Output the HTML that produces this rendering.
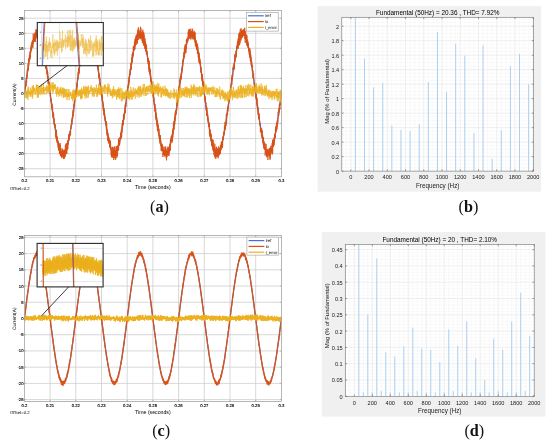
<!DOCTYPE html>
<html><head><meta charset="utf-8"><title>figure</title><style>html,body{margin:0;padding:0;background:#fff;}svg{display:block;}</style></head><body>
<svg width="550" height="443" viewBox="0 0 550 443" font-family='"Liberation Sans", Arial, sans-serif'>
<rect width="550" height="443" fill="#fff"/>
<g text-rendering="geometricPrecision">
<clipPath id="clipa"><rect x="24.4" y="10.5" width="257.0" height="166.3"/></clipPath>
<path d="M50.10 10.5V176.8 M75.80 10.5V176.8 M101.50 10.5V176.8 M127.20 10.5V176.8 M152.90 10.5V176.8 M178.60 10.5V176.8 M204.30 10.5V176.8 M230.00 10.5V176.8 M255.70 10.5V176.8 M24.4 168.70H281.4 M24.4 153.65H281.4 M24.4 138.60H281.4 M24.4 123.55H281.4 M24.4 108.50H281.4 M24.4 93.45H281.4 M24.4 78.40H281.4 M24.4 63.35H281.4 M24.4 48.30H281.4 M24.4 33.25H281.4 M24.4 18.20H281.4" stroke="#cbcbcb" stroke-width="0.75" fill="none"/>
<path d="M50.10 176.8v-1.6M50.10 10.5v1.6 M75.80 176.8v-1.6M75.80 10.5v1.6 M101.50 176.8v-1.6M101.50 10.5v1.6 M127.20 176.8v-1.6M127.20 10.5v1.6 M152.90 176.8v-1.6M152.90 10.5v1.6 M178.60 176.8v-1.6M178.60 10.5v1.6 M204.30 176.8v-1.6M204.30 10.5v1.6 M230.00 176.8v-1.6M230.00 10.5v1.6 M255.70 176.8v-1.6M255.70 10.5v1.6 M24.4 168.70h1.6M281.4 168.70h-1.6 M24.4 153.65h1.6M281.4 153.65h-1.6 M24.4 138.60h1.6M281.4 138.60h-1.6 M24.4 123.55h1.6M281.4 123.55h-1.6 M24.4 108.50h1.6M281.4 108.50h-1.6 M24.4 93.45h1.6M281.4 93.45h-1.6 M24.4 78.40h1.6M281.4 78.40h-1.6 M24.4 63.35h1.6M281.4 63.35h-1.6 M24.4 48.30h1.6M281.4 48.30h-1.6 M24.4 33.25h1.6M281.4 33.25h-1.6 M24.4 18.20h1.6M281.4 18.20h-1.6" stroke="#999" stroke-width="0.6" fill="none"/>
<g clip-path="url(#clipa)">
<polyline points="24.40,93.45 24.49,92.82 24.57,92.19 24.66,91.56 24.74,90.93 24.83,90.30 24.91,89.67 25.00,89.04 25.09,88.41 25.17,87.78 25.26,87.16 25.34,86.53 25.43,85.90 25.51,85.28 25.60,84.65 25.69,84.03 25.77,83.41 25.86,82.79 25.94,82.17 26.03,81.55 26.11,80.93 26.20,80.31 26.29,79.70 26.37,79.09 26.46,78.47 26.54,77.86 26.63,77.26 26.71,76.65 26.80,76.04 26.89,75.44 26.97,74.84 27.06,74.24 27.14,73.65 27.23,73.05 27.31,72.46 27.40,71.87 27.49,71.28 27.57,70.70 27.66,70.11 27.74,69.53 27.83,68.96 27.91,68.38 28.00,67.81 28.08,67.24 28.17,66.67 28.26,66.11 28.34,65.55 28.43,64.99 28.51,64.44 28.60,63.89 28.68,63.34 28.77,62.80 28.86,62.26 28.94,61.72 29.03,61.18 29.11,60.65 29.20,60.13 29.28,59.60 29.37,59.08 29.46,58.57 29.54,58.06 29.63,57.55 29.71,57.04 29.80,56.54 29.88,56.05 29.97,55.55 30.06,55.07 30.14,54.58 30.23,54.10 30.31,53.63 30.40,53.16 30.48,52.69 30.57,52.23 30.66,51.77 30.74,51.32 30.83,50.87 30.91,50.43 31.00,49.99 31.08,49.55 31.17,49.13 31.26,48.70 31.34,48.28 31.43,47.87 31.51,47.46 31.60,47.05 31.68,46.65 31.77,46.26 31.86,45.87 31.94,45.49 32.03,45.11 32.11,44.74 32.20,44.37 32.28,44.01 32.37,43.65 32.46,43.30 32.54,42.95 32.63,42.61 32.71,42.28 32.80,41.95 32.88,41.62 32.97,41.30 33.06,40.99 33.14,40.69 33.23,40.39 33.31,40.09 33.40,39.80 33.48,39.52 33.57,39.24 33.66,38.97 33.74,38.70 33.83,38.45 33.91,38.19 34.00,37.94 34.08,37.70 34.17,37.47 34.25,37.24 34.34,37.02 34.43,36.80 34.51,36.59 34.60,36.39 34.68,36.19 34.77,36.00 34.85,35.81 34.94,35.63 35.03,35.46 35.11,35.29 35.20,35.13 35.28,34.98 35.37,34.83 35.45,34.69 35.54,34.56 35.63,34.43 35.71,34.31 35.80,34.20 35.88,34.09 35.97,33.99 36.05,33.89 36.14,33.80 36.23,33.72 36.31,33.65 36.40,33.58 36.48,33.51 36.57,33.46 36.65,33.41 36.74,33.37 36.83,33.33 36.91,33.30 37.00,33.28 37.08,33.26 37.17,33.25 37.25,33.25 37.34,33.25 37.43,33.26 37.51,33.28 37.60,33.30 37.68,33.33 37.77,33.37 37.85,33.41 37.94,33.46 38.03,33.52 38.11,33.58 38.20,33.65 38.28,33.73 38.37,33.81 38.45,33.90 38.54,34.00 38.63,34.10 38.71,34.21 38.80,34.32 38.88,34.44 38.97,34.57 39.05,34.71 39.14,34.85 39.23,35.00 39.31,35.15 39.40,35.31 39.48,35.48 39.57,35.65 39.65,35.83 39.74,36.02 39.83,36.21 39.91,36.41 40.00,36.61 40.08,36.82 40.17,37.04 40.25,37.26 40.34,37.49 40.43,37.73 40.51,37.97 40.60,38.22 40.68,38.47 40.77,38.73 40.85,39.00 40.94,39.27 41.02,39.55 41.11,39.83 41.20,40.12 41.28,40.42 41.37,40.72 41.45,41.02 41.54,41.34 41.62,41.65 41.71,41.98 41.80,42.31 41.88,42.64 41.97,42.99 42.05,43.33 42.14,43.68 42.22,44.04 42.31,44.40 42.40,44.77 42.48,45.15 42.57,45.53 42.65,45.91 42.74,46.30 42.82,46.69 42.91,47.09 43.00,47.50 43.08,47.91 43.17,48.32 43.25,48.74 43.34,49.17 43.42,49.60 43.51,50.03 43.60,50.47 43.68,50.92 43.77,51.36 43.85,51.82 43.94,52.28 44.02,52.74 44.11,53.20 44.20,53.68 44.28,54.15 44.37,54.63 44.45,55.11 44.54,55.60 44.62,56.10 44.71,56.59 44.80,57.09 44.88,57.60 44.97,58.11 45.05,58.62 45.14,59.13 45.22,59.65 45.31,60.18 45.40,60.71 45.48,61.24 45.57,61.77 45.65,62.31 45.74,62.85 45.82,63.40 45.91,63.94 46.00,64.49 46.08,65.05 46.17,65.61 46.25,66.17 46.34,66.73 46.42,67.30 46.51,67.87 46.60,68.44 46.68,69.01 46.77,69.59 46.85,70.17 46.94,70.76 47.02,71.34 47.11,71.93 47.19,72.52 47.28,73.11 47.37,73.71 47.45,74.30 47.54,74.90 47.62,75.50 47.71,76.11 47.79,76.71 47.88,77.32 47.97,77.92 48.05,78.54 48.14,79.15 48.22,79.76 48.31,80.38 48.39,80.99 48.48,81.61 48.57,82.23 48.65,82.85 48.74,83.47 48.82,84.09 48.91,84.72 48.99,85.34 49.08,85.97 49.17,86.59 49.25,87.22 49.34,87.85 49.42,88.47 49.51,89.10 49.59,89.73 49.68,90.36 49.77,90.99 49.85,91.62 49.94,92.25 50.02,92.88 50.11,93.51 50.19,94.14 50.28,94.77 50.37,95.40 50.45,96.03 50.54,96.66 50.62,97.29 50.71,97.92 50.79,98.55 50.88,99.18 50.97,99.81 51.05,100.43 51.14,101.06 51.22,101.69 51.31,102.31 51.39,102.93 51.48,103.55 51.57,104.18 51.65,104.80 51.74,105.41 51.82,106.03 51.91,106.65 51.99,107.26 52.08,107.88 52.17,108.49 52.25,109.10 52.34,109.70 52.42,110.31 52.51,110.92 52.59,111.52 52.68,112.12 52.77,112.72 52.85,113.31 52.94,113.91 53.02,114.50 53.11,115.09 53.19,115.68 53.28,116.26 53.36,116.84 53.45,117.42 53.54,118.00 53.62,118.58 53.71,119.15 53.79,119.72 53.88,120.28 53.96,120.84 54.05,121.40 54.14,121.96 54.22,122.52 54.31,123.07 54.39,123.61 54.48,124.16 54.56,124.70 54.65,125.24 54.74,125.77 54.82,126.30 54.91,126.83 54.99,127.35 55.08,127.87 55.16,128.38 55.25,128.90 55.34,129.40 55.42,129.91 55.51,130.41 55.59,130.90 55.68,131.39 55.76,131.88 55.85,132.37 55.94,132.84 56.02,133.32 56.11,133.79 56.19,134.26 56.28,134.72 56.36,135.17 56.45,135.63 56.54,136.07 56.62,136.52 56.71,136.95 56.79,137.39 56.88,137.82 56.96,138.24 57.05,138.66 57.14,139.07 57.22,139.48 57.31,139.89 57.39,140.29 57.48,140.68 57.56,141.07 57.65,141.45 57.74,141.83 57.82,142.20 57.91,142.57 57.99,142.93 58.08,143.29 58.16,143.64 58.25,143.98 58.34,144.32 58.42,144.66 58.51,144.99 58.59,145.31 58.68,145.63 58.76,145.94 58.85,146.24 58.94,146.54 59.02,146.84 59.11,147.13 59.19,147.41 59.28,147.69 59.36,147.96 59.45,148.22 59.54,148.48 59.62,148.73 59.71,148.98 59.79,149.22 59.88,149.45 59.96,149.68 60.05,149.90 60.13,150.12 60.22,150.33 60.31,150.53 60.39,150.73 60.48,150.92 60.56,151.11 60.65,151.28 60.73,151.46 60.82,151.62 60.91,151.78 60.99,151.93 61.08,152.08 61.16,152.22 61.25,152.35 61.33,152.48 61.42,152.60 61.51,152.71 61.59,152.82 61.68,152.92 61.76,153.02 61.85,153.11 61.93,153.19 62.02,153.26 62.11,153.33 62.19,153.39 62.28,153.45 62.36,153.50 62.45,153.54 62.53,153.57 62.62,153.60 62.71,153.62 62.79,153.64 62.88,153.65 62.96,153.65 63.05,153.65 63.13,153.63 63.22,153.62 63.31,153.59 63.39,153.56 63.48,153.53 63.56,153.48 63.65,153.43 63.73,153.37 63.82,153.31 63.91,153.24 63.99,153.16 64.08,153.08 64.16,152.99 64.25,152.89 64.33,152.79 64.42,152.68 64.51,152.57 64.59,152.44 64.68,152.31 64.76,152.18 64.85,152.04 64.93,151.89 65.02,151.73 65.11,151.57 65.19,151.41 65.28,151.23 65.36,151.05 65.45,150.87 65.53,150.67 65.62,150.47 65.71,150.27 65.79,150.06 65.88,149.84 65.96,149.61 66.05,149.38 66.13,149.15 66.22,148.91 66.30,148.66 66.39,148.40 66.48,148.14 66.56,147.88 66.65,147.60 66.73,147.33 66.82,147.04 66.90,146.75 66.99,146.46 67.08,146.15 67.16,145.85 67.25,145.53 67.33,145.21 67.42,144.89 67.50,144.56 67.59,144.22 67.68,143.88 67.76,143.53 67.85,143.18 67.93,142.82 68.02,142.46 68.10,142.09 68.19,141.72 68.28,141.34 68.36,140.95 68.45,140.56 68.53,140.17 68.62,139.77 68.70,139.36 68.79,138.95 68.88,138.53 68.96,138.11 69.05,137.69 69.13,137.26 69.22,136.82 69.30,136.38 69.39,135.94 69.48,135.49 69.56,135.04 69.65,134.58 69.73,134.12 69.82,133.65 69.90,133.18 69.99,132.70 70.08,132.22 70.16,131.74 70.25,131.25 70.33,130.75 70.42,130.26 70.50,129.76 70.59,129.25 70.68,128.74 70.76,128.23 70.85,127.71 70.93,127.19 71.02,126.67 71.10,126.14 71.19,125.61 71.28,125.07 71.36,124.54 71.45,123.99 71.53,123.45 71.62,122.90 71.70,122.35 71.79,121.80 71.88,121.24 71.96,120.68 72.05,120.11 72.13,119.55 72.22,118.98 72.30,118.40 72.39,117.83 72.48,117.25 72.56,116.67 72.65,116.09 72.73,115.50 72.82,114.91 72.90,114.32 72.99,113.73 73.07,113.13 73.16,112.54 73.25,111.94 73.33,111.34 73.42,110.73 73.50,110.13 73.59,109.52 73.67,108.91 73.76,108.30 73.85,107.69 73.93,107.08 74.02,106.46 74.10,105.85 74.19,105.23 74.27,104.61 74.36,103.99 74.45,103.37 74.53,102.75 74.62,102.12 74.70,101.50 74.79,100.87 74.87,100.25 74.96,99.62 75.05,98.99 75.13,98.36 75.22,97.73 75.30,97.11 75.39,96.48 75.47,95.85 75.56,95.22 75.65,94.59 75.73,93.95 75.82,93.32 75.90,92.69 75.99,92.06 76.07,91.43 76.16,90.80 76.25,90.17 76.33,89.54 76.42,88.91 76.50,88.29 76.59,87.66 76.67,87.03 76.76,86.40 76.85,85.78 76.93,85.15 77.02,84.53 77.10,83.90 77.19,83.28 77.27,82.66 77.36,82.04 77.45,81.42 77.53,80.81 77.62,80.19 77.70,79.58 77.79,78.96 77.87,78.35 77.96,77.74 78.05,77.13 78.13,76.53 78.22,75.92 78.30,75.32 78.39,74.72 78.47,74.12 78.56,73.53 78.65,72.93 78.73,72.34 78.82,71.75 78.90,71.16 78.99,70.58 79.07,70.00 79.16,69.42 79.24,68.84 79.33,68.27 79.42,67.70 79.50,67.13 79.59,66.56 79.67,66.00 79.76,65.44 79.84,64.88 79.93,64.33 80.02,63.78 80.10,63.23 80.19,62.69 80.27,62.15 80.36,61.61 80.44,61.08 80.53,60.55 80.62,60.02 80.70,59.50 80.79,58.98 80.87,58.46 80.96,57.95 81.04,57.45 81.13,56.94 81.22,56.44 81.30,55.95 81.39,55.46 81.47,54.97 81.56,54.49 81.64,54.01 81.73,53.53 81.82,53.06 81.90,52.60 81.99,52.14 82.07,51.68 82.16,51.23 82.24,50.78 82.33,50.34 82.42,49.90 82.50,49.47 82.59,49.04 82.67,48.62 82.76,48.20 82.84,47.79 82.93,47.38 83.02,46.97 83.10,46.58 83.19,46.18 83.27,45.79 83.36,45.41 83.44,45.03 83.53,44.66 83.62,44.30 83.70,43.93 83.79,43.58 83.87,43.23 83.96,42.88 84.04,42.54 84.13,42.21 84.22,41.88 84.30,41.56 84.39,41.24 84.47,40.93 84.56,40.63 84.64,40.33 84.73,40.03 84.82,39.74 84.90,39.46 84.99,39.19 85.07,38.92 85.16,38.65 85.24,38.39 85.33,38.14 85.42,37.90 85.50,37.66 85.59,37.42 85.67,37.19 85.76,36.97 85.84,36.76 85.93,36.55 86.01,36.35 86.10,36.15 86.19,35.96 86.27,35.78 86.36,35.60 86.44,35.43 86.53,35.26 86.61,35.10 86.70,34.95 86.79,34.81 86.87,34.67 86.96,34.53 87.04,34.41 87.13,34.29 87.21,34.17 87.30,34.07 87.39,33.97 87.47,33.87 87.56,33.79 87.64,33.71 87.73,33.63 87.81,33.56 87.90,33.50 87.99,33.45 88.07,33.40 88.16,33.36 88.24,33.32 88.33,33.30 88.41,33.27 88.50,33.26 88.59,33.25 88.67,33.25 88.76,33.26 88.84,33.27 88.93,33.28 89.01,33.31 89.10,33.34 89.19,33.38 89.27,33.42 89.36,33.47 89.44,33.53 89.53,33.60 89.61,33.67 89.70,33.74 89.79,33.83 89.87,33.92 89.96,34.02 90.04,34.12 90.13,34.23 90.21,34.35 90.30,34.47 90.39,34.60 90.47,34.74 90.56,34.88 90.64,35.03 90.73,35.18 90.81,35.34 90.90,35.51 90.99,35.69 91.07,35.87 91.16,36.05 91.24,36.25 91.33,36.45 91.41,36.65 91.50,36.86 91.59,37.08 91.67,37.31 91.76,37.54 91.84,37.78 91.93,38.02 92.01,38.27 92.10,38.52 92.18,38.78 92.27,39.05 92.36,39.32 92.44,39.60 92.53,39.89 92.61,40.18 92.70,40.47 92.78,40.78 92.87,41.09 92.96,41.40 93.04,41.72 93.13,42.04 93.21,42.38 93.30,42.71 93.38,43.05 93.47,43.40 93.56,43.76 93.64,44.11 93.73,44.48 93.81,44.85 93.90,45.22 93.98,45.60 94.07,45.99 94.16,46.38 94.24,46.77 94.33,47.17 94.41,47.58 94.50,47.99 94.58,48.41 94.67,48.83 94.76,49.25 94.84,49.68 94.93,50.12 95.01,50.56 95.10,51.00 95.18,51.45 95.27,51.91 95.36,52.37 95.44,52.83 95.53,53.30 95.61,53.77 95.70,54.25 95.78,54.73 95.87,55.21 95.96,55.70 96.04,56.19 96.13,56.69 96.21,57.19 96.30,57.70 96.38,58.21 96.47,58.72 96.56,59.24 96.64,59.76 96.73,60.28 96.81,60.81 96.90,61.34 96.98,61.88 97.07,62.42 97.16,62.96 97.24,63.50 97.33,64.05 97.41,64.61 97.50,65.16 97.58,65.72 97.67,66.28 97.76,66.84 97.84,67.41 97.93,67.98 98.01,68.55 98.10,69.13 98.18,69.71 98.27,70.29 98.35,70.87 98.44,71.46 98.53,72.05 98.61,72.64 98.70,73.23 98.78,73.82 98.87,74.42 98.95,75.02 99.04,75.62 99.13,76.23 99.21,76.83 99.30,77.44 99.38,78.05 99.47,78.66 99.55,79.27 99.64,79.88 99.73,80.50 99.81,81.11 99.90,81.73 99.98,82.35 100.07,82.97 100.15,83.59 100.24,84.22 100.33,84.84 100.41,85.46 100.50,86.09 100.58,86.72 100.67,87.34 100.75,87.97 100.84,88.60 100.93,89.23 101.01,89.86 101.10,90.49 101.18,91.12 101.27,91.75 101.35,92.38 101.44,93.01 101.53,93.64 101.61,94.27 101.70,94.90 101.78,95.53 101.87,96.16 101.95,96.79 102.04,97.42 102.13,98.05 102.21,98.68 102.30,99.31 102.38,99.93 102.47,100.56 102.55,101.19 102.64,101.81 102.73,102.43 102.81,103.06 102.90,103.68 102.98,104.30 103.07,104.92 103.15,105.54 103.24,106.16 103.33,106.77 103.41,107.39 103.50,108.00 103.58,108.61 103.67,109.22 103.75,109.83 103.84,110.43 103.93,111.04 104.01,111.64 104.10,112.24 104.18,112.84 104.27,113.43 104.35,114.03 104.44,114.62 104.53,115.21 104.61,115.79 104.70,116.38 104.78,116.96 104.87,117.54 104.95,118.12 105.04,118.69 105.12,119.26 105.21,119.83 105.30,120.39 105.38,120.96 105.47,121.52 105.55,122.07 105.64,122.63 105.72,123.18 105.81,123.72 105.90,124.27 105.98,124.81 106.07,125.34 106.15,125.88 106.24,126.41 106.32,126.93 106.41,127.45 106.50,127.97 106.58,128.49 106.67,129.00 106.75,129.50 106.84,130.01 106.92,130.51 107.01,131.00 107.10,131.49 107.18,131.98 107.27,132.46 107.35,132.94 107.44,133.41 107.52,133.88 107.61,134.35 107.70,134.81 107.78,135.26 107.87,135.72 107.95,136.16 108.04,136.60 108.12,137.04 108.21,137.47 108.30,137.90 108.38,138.32 108.47,138.74 108.55,139.16 108.64,139.56 108.72,139.97 108.81,140.36 108.90,140.76 108.98,141.14 109.07,141.53 109.15,141.90 109.24,142.27 109.32,142.64 109.41,143.00 109.50,143.36 109.58,143.71 109.67,144.05 109.75,144.39 109.84,144.72 109.92,145.05 110.01,145.37 110.10,145.69 110.18,146.00 110.27,146.30 110.35,146.60 110.44,146.90 110.52,147.18 110.61,147.47 110.70,147.74 110.78,148.01 110.87,148.27 110.95,148.53 111.04,148.78 111.12,149.03 111.21,149.27 111.29,149.50 111.38,149.73 111.47,149.95 111.55,150.16 111.64,150.37 111.72,150.57 111.81,150.77 111.89,150.96 111.98,151.14 112.07,151.32 112.15,151.49 112.24,151.65 112.32,151.81 112.41,151.96 112.49,152.11 112.58,152.25 112.67,152.38 112.75,152.50 112.84,152.62 112.92,152.74 113.01,152.84 113.09,152.94 113.18,153.04 113.27,153.12 113.35,153.20 113.44,153.28 113.52,153.34 113.61,153.40 113.69,153.46 113.78,153.50 113.87,153.54 113.95,153.58 114.04,153.61 114.12,153.63 114.21,153.64 114.29,153.65 114.38,153.65 114.47,153.64 114.55,153.63 114.64,153.61 114.72,153.59 114.81,153.56 114.89,153.52 114.98,153.47 115.07,153.42 115.15,153.36 115.24,153.30 115.32,153.22 115.41,153.15 115.49,153.06 115.58,152.97 115.67,152.87 115.75,152.77 115.84,152.66 115.92,152.54 116.01,152.42 116.09,152.29 116.18,152.15 116.27,152.01 116.35,151.86 116.44,151.70 116.52,151.54 116.61,151.37 116.69,151.20 116.78,151.01 116.87,150.83 116.95,150.63 117.04,150.43 117.12,150.23 117.21,150.01 117.29,149.79 117.38,149.57 117.47,149.34 117.55,149.10 117.64,148.86 117.72,148.61 117.81,148.35 117.89,148.09 117.98,147.82 118.06,147.55 118.15,147.27 118.24,146.98 118.32,146.69 118.41,146.40 118.49,146.09 118.58,145.78 118.66,145.47 118.75,145.15 118.84,144.82 118.92,144.49 119.01,144.15 119.09,143.81 119.18,143.46 119.26,143.11 119.35,142.75 119.44,142.39 119.52,142.02 119.61,141.64 119.69,141.26 119.78,140.87 119.86,140.48 119.95,140.09 120.04,139.69 120.12,139.28 120.21,138.87 120.29,138.45 120.38,138.03 120.46,137.60 120.55,137.17 120.64,136.74 120.72,136.30 120.81,135.85 120.89,135.40 120.98,134.95 121.06,134.49 121.15,134.02 121.24,133.55 121.32,133.08 121.41,132.61 121.49,132.12 121.58,131.64 121.66,131.15 121.75,130.66 121.84,130.16 121.92,129.66 122.01,129.15 122.09,128.64 122.18,128.13 122.26,127.61 122.35,127.09 122.44,126.56 122.52,126.04 122.61,125.50 122.69,124.97 122.78,124.43 122.86,123.89 122.95,123.34 123.04,122.79 123.12,122.24 123.21,121.68 123.29,121.13 123.38,120.56 123.46,120.00 123.55,119.43 123.64,118.86 123.72,118.29 123.81,117.71 123.89,117.13 123.98,116.55 124.06,115.97 124.15,115.38 124.23,114.79 124.32,114.20 124.41,113.61 124.49,113.02 124.58,112.42 124.66,111.82 124.75,111.22 124.83,110.61 124.92,110.01 125.01,109.40 125.09,108.79 125.18,108.18 125.26,107.57 125.35,106.96 125.43,106.34 125.52,105.72 125.61,105.11 125.69,104.49 125.78,103.87 125.86,103.24 125.95,102.62 126.03,102.00 126.12,101.37 126.21,100.75 126.29,100.12 126.38,99.49 126.46,98.87 126.55,98.24 126.63,97.61 126.72,96.98 126.81,96.35 126.89,95.72 126.98,95.09 127.06,94.46 127.15,93.83 127.23,93.20 127.32,92.57 127.41,91.94 127.49,91.31 127.58,90.68 127.66,90.05 127.75,89.42 127.83,88.79 127.92,88.16 128.01,87.53 128.09,86.90 128.18,86.28 128.26,85.65 128.35,85.03 128.43,84.40 128.52,83.78 128.61,83.16 128.69,82.54 128.78,81.92 128.86,81.30 128.95,80.68 129.03,80.07 129.12,79.45 129.21,78.84 129.29,78.23 129.38,77.62 129.46,77.01 129.55,76.41 129.63,75.80 129.72,75.20 129.81,74.60 129.89,74.00 129.98,73.41 130.06,72.81 130.15,72.22 130.23,71.63 130.32,71.05 130.41,70.46 130.49,69.88 130.58,69.30 130.66,68.73 130.75,68.15 130.83,67.58 130.92,67.01 131.00,66.45 131.09,65.89 131.18,65.33 131.26,64.77 131.35,64.22 131.43,63.67 131.52,63.12 131.60,62.58 131.69,62.04 131.78,61.50 131.86,60.97 131.95,60.44 132.03,59.92 132.12,59.39 132.20,58.88 132.29,58.36 132.38,57.85 132.46,57.34 132.55,56.84 132.63,56.34 132.72,55.85 132.80,55.36 132.89,54.87 132.98,54.39 133.06,53.91 133.15,53.44 133.23,52.97 133.32,52.51 133.40,52.05 133.49,51.59 133.58,51.14 133.66,50.69 133.75,50.25 133.83,49.81 133.92,49.38 134.00,48.96 134.09,48.53 134.18,48.12 134.26,47.70 134.35,47.30 134.43,46.89 134.52,46.50 134.60,46.10 134.69,45.72 134.78,45.34 134.86,44.96 134.95,44.59 135.03,44.22 135.12,43.86 135.20,43.51 135.29,43.16 135.38,42.81 135.46,42.48 135.55,42.14 135.63,41.82 135.72,41.49 135.80,41.18 135.89,40.87 135.98,40.57 136.06,40.27 136.15,39.97 136.23,39.69 136.32,39.41 136.40,39.13 136.49,38.86 136.58,38.60 136.66,38.34 136.75,38.09 136.83,37.85 136.92,37.61 137.00,37.38 137.09,37.15 137.17,36.93 137.26,36.72 137.35,36.51 137.43,36.31 137.52,36.11 137.60,35.92 137.69,35.74 137.77,35.56 137.86,35.39 137.95,35.23 138.03,35.07 138.12,34.92 138.20,34.78 138.29,34.64 138.37,34.51 138.46,34.38 138.55,34.26 138.63,34.15 138.72,34.05 138.80,33.95 138.89,33.86 138.97,33.77 139.06,33.69 139.15,33.62 139.23,33.55 139.32,33.49 139.40,33.44 139.49,33.39 139.57,33.35 139.66,33.32 139.75,33.29 139.83,33.27 139.92,33.26 140.00,33.25 140.09,33.25 140.17,33.26 140.26,33.27 140.35,33.29 140.43,33.32 140.52,33.35 140.60,33.39 140.69,33.43 140.77,33.49 140.86,33.54 140.95,33.61 141.03,33.68 141.12,33.76 141.20,33.85 141.29,33.94 141.37,34.04 141.46,34.14 141.55,34.25 141.63,34.37 141.72,34.50 141.80,34.63 141.89,34.76 141.97,34.91 142.06,35.06 142.15,35.21 142.23,35.38 142.32,35.55 142.40,35.72 142.49,35.90 142.57,36.09 142.66,36.29 142.75,36.49 142.83,36.69 142.92,36.91 143.00,37.13 143.09,37.35 143.17,37.59 143.26,37.82 143.34,38.07 143.43,38.32 143.52,38.57 143.60,38.84 143.69,39.10 143.77,39.38 143.86,39.66 143.94,39.95 144.03,40.24 144.12,40.53 144.20,40.84 144.29,41.15 144.37,41.46 144.46,41.78 144.54,42.11 144.63,42.44 144.72,42.78 144.80,43.12 144.89,43.47 144.97,43.83 145.06,44.19 145.14,44.55 145.23,44.92 145.32,45.30 145.40,45.68 145.49,46.07 145.57,46.46 145.66,46.85 145.74,47.26 145.83,47.66 145.92,48.07 146.00,48.49 146.09,48.91 146.17,49.34 146.26,49.77 146.34,50.21 146.43,50.65 146.52,51.09 146.60,51.54 146.69,52.00 146.77,52.46 146.86,52.92 146.94,53.39 147.03,53.87 147.12,54.34 147.20,54.82 147.29,55.31 147.37,55.80 147.46,56.29 147.54,56.79 147.63,57.29 147.72,57.80 147.80,58.31 147.89,58.82 147.97,59.34 148.06,59.86 148.14,60.39 148.23,60.92 148.32,61.45 148.40,61.99 148.49,62.53 148.57,63.07 148.66,63.61 148.74,64.16 148.83,64.72 148.92,65.27 149.00,65.83 149.09,66.39 149.17,66.96 149.26,67.53 149.34,68.10 149.43,68.67 149.52,69.25 149.60,69.82 149.69,70.41 149.77,70.99 149.86,71.58 149.94,72.16 150.03,72.76 150.11,73.35 150.20,73.94 150.29,74.54 150.37,75.14 150.46,75.74 150.54,76.35 150.63,76.95 150.71,77.56 150.80,78.17 150.89,78.78 150.97,79.39 151.06,80.01 151.14,80.62 151.23,81.24 151.31,81.86 151.40,82.48 151.49,83.10 151.57,83.72 151.66,84.34 151.74,84.96 151.83,85.59 151.91,86.22 152.00,86.84 152.09,87.47 152.17,88.10 152.26,88.73 152.34,89.35 152.43,89.98 152.51,90.61 152.60,91.24 152.69,91.87 152.77,92.50 152.86,93.13 152.94,93.77 153.03,94.40 153.11,95.03 153.20,95.66 153.29,96.29 153.37,96.92 153.46,97.55 153.54,98.17 153.63,98.80 153.71,99.43 153.80,100.06 153.89,100.68 153.97,101.31 154.06,101.94 154.14,102.56 154.23,103.18 154.31,103.80 154.40,104.42 154.49,105.04 154.57,105.66 154.66,106.28 154.74,106.89 154.83,107.51 154.91,108.12 155.00,108.73 155.09,109.34 155.17,109.95 155.26,110.55 155.34,111.16 155.43,111.76 155.51,112.36 155.60,112.96 155.69,113.55 155.77,114.14 155.86,114.74 155.94,115.32 156.03,115.91 156.11,116.49 156.20,117.08 156.28,117.65 156.37,118.23 156.46,118.80 156.54,119.37 156.63,119.94 156.71,120.51 156.80,121.07 156.88,121.63 156.97,122.18 157.06,122.74 157.14,123.29 157.23,123.83 157.31,124.37 157.40,124.91 157.48,125.45 157.57,125.98 157.66,126.51 157.74,127.04 157.83,127.56 157.91,128.08 158.00,128.59 158.08,129.10 158.17,129.61 158.26,130.11 158.34,130.61 158.43,131.10 158.51,131.59 158.60,132.08 158.68,132.56 158.77,133.03 158.86,133.51 158.94,133.98 159.03,134.44 159.11,134.90 159.20,135.36 159.28,135.81 159.37,136.25 159.46,136.69 159.54,137.13 159.63,137.56 159.71,137.99 159.80,138.41 159.88,138.83 159.97,139.24 160.06,139.64 160.14,140.05 160.23,140.44 160.31,140.83 160.40,141.22 160.48,141.60 160.57,141.98 160.66,142.35 160.74,142.71 160.83,143.07 160.91,143.43 161.00,143.78 161.08,144.12 161.17,144.46 161.26,144.79 161.34,145.12 161.43,145.44 161.51,145.75 161.60,146.06 161.68,146.37 161.77,146.66 161.86,146.95 161.94,147.24 162.03,147.52 162.11,147.80 162.20,148.06 162.28,148.33 162.37,148.58 162.46,148.83 162.54,149.08 162.63,149.31 162.71,149.55 162.80,149.77 162.88,149.99 162.97,150.21 163.05,150.41 163.14,150.61 163.23,150.81 163.31,151.00 163.40,151.18 163.48,151.35 163.57,151.52 163.65,151.69 163.74,151.84 163.83,151.99 163.91,152.14 164.00,152.27 164.08,152.40 164.17,152.53 164.25,152.65 164.34,152.76 164.43,152.86 164.51,152.96 164.60,153.05 164.68,153.14 164.77,153.22 164.85,153.29 164.94,153.36 165.03,153.41 165.11,153.47 165.20,153.51 165.28,153.55 165.37,153.58 165.45,153.61 165.54,153.63 165.63,153.64 165.71,153.65 165.80,153.65 165.88,153.64 165.97,153.63 166.05,153.61 166.14,153.58 166.23,153.55 166.31,153.51 166.40,153.46 166.48,153.41 166.57,153.35 166.65,153.28 166.74,153.21 166.83,153.13 166.91,153.04 167.00,152.95 167.08,152.85 167.17,152.75 167.25,152.64 167.34,152.52 167.43,152.39 167.51,152.26 167.60,152.12 167.68,151.98 167.77,151.83 167.85,151.67 167.94,151.51 168.03,151.34 168.11,151.16 168.20,150.98 168.28,150.79 168.37,150.59 168.45,150.39 168.54,150.18 168.63,149.97 168.71,149.75 168.80,149.52 168.88,149.29 168.97,149.05 169.05,148.81 169.14,148.56 169.22,148.30 169.31,148.04 169.40,147.77 169.48,147.49 169.57,147.21 169.65,146.93 169.74,146.63 169.82,146.33 169.91,146.03 170.00,145.72 170.08,145.41 170.17,145.08 170.25,144.76 170.34,144.42 170.42,144.09 170.51,143.74 170.60,143.39 170.68,143.04 170.77,142.68 170.85,142.31 170.94,141.94 171.02,141.56 171.11,141.18 171.20,140.80 171.28,140.40 171.37,140.01 171.45,139.60 171.54,139.20 171.62,138.78 171.71,138.37 171.80,137.94 171.88,137.52 171.97,137.09 172.05,136.65 172.14,136.21 172.22,135.76 172.31,135.31 172.40,134.85 172.48,134.39 172.57,133.93 172.65,133.46 172.74,132.99 172.82,132.51 172.91,132.03 173.00,131.54 173.08,131.05 173.17,130.56 173.25,130.06 173.34,129.56 173.42,129.05 173.51,128.54 173.60,128.02 173.68,127.51 173.77,126.98 173.85,126.46 173.94,125.93 174.02,125.40 174.11,124.86 174.20,124.32 174.28,123.78 174.37,123.23 174.45,122.68 174.54,122.13 174.62,121.57 174.71,121.01 174.80,120.45 174.88,119.89 174.97,119.32 175.05,118.75 175.14,118.17 175.22,117.60 175.31,117.02 175.39,116.44 175.48,115.85 175.57,115.27 175.65,114.68 175.74,114.09 175.82,113.49 175.91,112.90 175.99,112.30 176.08,111.70 176.17,111.10 176.25,110.49 176.34,109.89 176.42,109.28 176.51,108.67 176.59,108.06 176.68,107.45 176.77,106.83 176.85,106.22 176.94,105.60 177.02,104.98 177.11,104.36 177.19,103.74 177.28,103.12 177.37,102.50 177.45,101.87 177.54,101.25 177.62,100.62 177.71,100.00 177.79,99.37 177.88,98.74 177.97,98.11 178.05,97.48 178.14,96.85 178.22,96.22 178.31,95.59 178.39,94.96 178.48,94.33 178.57,93.70 178.65,93.07 178.74,92.44 178.82,91.81 178.91,91.18 178.99,90.55 179.08,89.92 179.17,89.29 179.25,88.66 179.34,88.03 179.42,87.41 179.51,86.78 179.59,86.15 179.68,85.53 179.77,84.90 179.85,84.28 179.94,83.66 180.02,83.03 180.11,82.41 180.19,81.79 180.28,81.18 180.37,80.56 180.45,79.94 180.54,79.33 180.62,78.72 180.71,78.11 180.79,77.50 180.88,76.89 180.97,76.29 181.05,75.68 181.14,75.08 181.22,74.48 181.31,73.88 181.39,73.29 181.48,72.70 181.57,72.11 181.65,71.52 181.74,70.93 181.82,70.35 181.91,69.77 181.99,69.19 182.08,68.61 182.16,68.04 182.25,67.47 182.34,66.90 182.42,66.34 182.51,65.77 182.59,65.22 182.68,64.66 182.76,64.11 182.85,63.56 182.94,63.01 183.02,62.47 183.11,61.93 183.19,61.40 183.28,60.86 183.36,60.34 183.45,59.81 183.54,59.29 183.62,58.77 183.71,58.26 183.79,57.75 183.88,57.24 183.96,56.74 184.05,56.24 184.14,55.75 184.22,55.26 184.31,54.78 184.39,54.29 184.48,53.82 184.56,53.35 184.65,52.88 184.74,52.41 184.82,51.95 184.91,51.50 184.99,51.05 185.08,50.60 185.16,50.16 185.25,49.73 185.34,49.30 185.42,48.87 185.51,48.45 185.59,48.03 185.68,47.62 185.76,47.21 185.85,46.81 185.94,46.42 186.02,46.03 186.11,45.64 186.19,45.26 186.28,44.88 186.36,44.51 186.45,44.15 186.54,43.79 186.62,43.44 186.71,43.09 186.79,42.75 186.88,42.41 186.96,42.08 187.05,41.75 187.14,41.43 187.22,41.12 187.31,40.81 187.39,40.50 187.48,40.21 187.56,39.92 187.65,39.63 187.74,39.35 187.82,39.08 187.91,38.81 187.99,38.55 188.08,38.29 188.16,38.04 188.25,37.80 188.33,37.56 188.42,37.33 188.51,37.11 188.59,36.89 188.68,36.67 188.76,36.47 188.85,36.27 188.93,36.07 189.02,35.89 189.11,35.70 189.19,35.53 189.28,35.36 189.36,35.20 189.45,35.04 189.53,34.89 189.62,34.75 189.71,34.61 189.79,34.48 189.88,34.36 189.96,34.24 190.05,34.13 190.13,34.03 190.22,33.93 190.31,33.84 190.39,33.75 190.48,33.68 190.56,33.60 190.65,33.54 190.73,33.48 190.82,33.43 190.91,33.38 190.99,33.34 191.08,33.31 191.16,33.29 191.25,33.27 191.33,33.26 191.42,33.25 191.51,33.25 191.59,33.26 191.68,33.27 191.76,33.29 191.85,33.32 191.93,33.36 192.02,33.40 192.11,33.44 192.19,33.50 192.28,33.56 192.36,33.62 192.45,33.70 192.53,33.78 192.62,33.86 192.71,33.96 192.79,34.06 192.88,34.16 192.96,34.28 193.05,34.40 193.13,34.52 193.22,34.65 193.31,34.79 193.39,34.94 193.48,35.09 193.56,35.25 193.65,35.41 193.73,35.58 193.82,35.76 193.91,35.94 193.99,36.13 194.08,36.33 194.16,36.53 194.25,36.74 194.33,36.95 194.42,37.17 194.51,37.40 194.59,37.63 194.68,37.87 194.76,38.12 194.85,38.37 194.93,38.63 195.02,38.89 195.10,39.16 195.19,39.43 195.28,39.72 195.36,40.00 195.45,40.30 195.53,40.60 195.62,40.90 195.70,41.21 195.79,41.53 195.88,41.85 195.96,42.18 196.05,42.51 196.13,42.85 196.22,43.19 196.30,43.54 196.39,43.90 196.48,44.26 196.56,44.63 196.65,45.00 196.73,45.37 196.82,45.76 196.90,46.14 196.99,46.54 197.08,46.93 197.16,47.34 197.25,47.74 197.33,48.16 197.42,48.58 197.50,49.00 197.59,49.43 197.68,49.86 197.76,50.30 197.85,50.74 197.93,51.18 198.02,51.64 198.10,52.09 198.19,52.55 198.28,53.02 198.36,53.49 198.45,53.96 198.53,54.44 198.62,54.92 198.70,55.41 198.79,55.90 198.88,56.39 198.96,56.89 199.05,57.40 199.13,57.90 199.22,58.41 199.30,58.93 199.39,59.45 199.48,59.97 199.56,60.49 199.65,61.02 199.73,61.56 199.82,62.09 199.90,62.63 199.99,63.18 200.08,63.72 200.16,64.27 200.25,64.83 200.33,65.38 200.42,65.94 200.50,66.51 200.59,67.07 200.68,67.64 200.76,68.21 200.85,68.78 200.93,69.36 201.02,69.94 201.10,70.52 201.19,71.11 201.27,71.69 201.36,72.28 201.45,72.87 201.53,73.47 201.62,74.06 201.70,74.66 201.79,75.26 201.87,75.86 201.96,76.47 202.05,77.07 202.13,77.68 202.22,78.29 202.30,78.90 202.39,79.51 202.47,80.13 202.56,80.74 202.65,81.36 202.73,81.98 202.82,82.60 202.90,83.22 202.99,83.84 203.07,84.47 203.16,85.09 203.25,85.71 203.33,86.34 203.42,86.97 203.50,87.59 203.59,88.22 203.67,88.85 203.76,89.48 203.85,90.11 203.93,90.74 204.02,91.37 204.10,92.00 204.19,92.63 204.27,93.26 204.36,93.89 204.45,94.52 204.53,95.15 204.62,95.78 204.70,96.41 204.79,97.04 204.87,97.67 204.96,98.30 205.05,98.93 205.13,99.56 205.22,100.18 205.30,100.81 205.39,101.44 205.47,102.06 205.56,102.68 205.65,103.31 205.73,103.93 205.82,104.55 205.90,105.17 205.99,105.79 206.07,106.40 206.16,107.02 206.25,107.63 206.33,108.24 206.42,108.85 206.50,109.46 206.59,110.07 206.67,110.67 206.76,111.28 206.85,111.88 206.93,112.48 207.02,113.08 207.10,113.67 207.19,114.26 207.27,114.85 207.36,115.44 207.45,116.03 207.53,116.61 207.62,117.19 207.70,117.77 207.79,118.35 207.87,118.92 207.96,119.49 208.04,120.06 208.13,120.62 208.22,121.18 208.30,121.74 208.39,122.29 208.47,122.85 208.56,123.40 208.64,123.94 208.73,124.48 208.82,125.02 208.90,125.56 208.99,126.09 209.07,126.62 209.16,127.14 209.24,127.66 209.33,128.18 209.42,128.69 209.50,129.20 209.59,129.71 209.67,130.21 209.76,130.71 209.84,131.20 209.93,131.69 210.02,132.17 210.10,132.65 210.19,133.13 210.27,133.60 210.36,134.07 210.44,134.53 210.53,134.99 210.62,135.45 210.70,135.90 210.79,136.34 210.87,136.78 210.96,137.22 211.04,137.65 211.13,138.07 211.22,138.49 211.30,138.91 211.39,139.32 211.47,139.73 211.56,140.13 211.64,140.52 211.73,140.91 211.82,141.30 211.90,141.68 211.99,142.05 212.07,142.42 212.16,142.79 212.24,143.14 212.33,143.50 212.42,143.85 212.50,144.19 212.59,144.52 212.67,144.86 212.76,145.18 212.84,145.50 212.93,145.81 213.02,146.12 213.10,146.43 213.19,146.72 213.27,147.01 213.36,147.30 213.44,147.58 213.53,147.85 213.62,148.12 213.70,148.38 213.79,148.63 213.87,148.88 213.96,149.12 214.04,149.36 214.13,149.59 214.21,149.82 214.30,150.04 214.39,150.25 214.47,150.45 214.56,150.65 214.64,150.85 214.73,151.03 214.81,151.21 214.90,151.39 214.99,151.56 215.07,151.72 215.16,151.87 215.24,152.02 215.33,152.16 215.41,152.30 215.50,152.43 215.59,152.55 215.67,152.67 215.76,152.78 215.84,152.88 215.93,152.98 216.01,153.07 216.10,153.16 216.19,153.23 216.27,153.30 216.36,153.37 216.44,153.43 216.53,153.48 216.61,153.52 216.70,153.56 216.79,153.59 216.87,153.62 216.96,153.63 217.04,153.64 217.13,153.65 217.21,153.65 217.30,153.64 217.39,153.63 217.47,153.60 217.56,153.58 217.64,153.54 217.73,153.50 217.81,153.45 217.90,153.40 217.99,153.34 218.07,153.27 218.16,153.19 218.24,153.11 218.33,153.03 218.41,152.93 218.50,152.83 218.59,152.73 218.67,152.61 218.76,152.49 218.84,152.37 218.93,152.23 219.01,152.09 219.10,151.95 219.19,151.80 219.27,151.64 219.36,151.47 219.44,151.30 219.53,151.12 219.61,150.94 219.70,150.75 219.79,150.55 219.87,150.35 219.96,150.14 220.04,149.93 220.13,149.71 220.21,149.48 220.30,149.24 220.38,149.00 220.47,148.76 220.56,148.51 220.64,148.25 220.73,147.98 220.81,147.71 220.90,147.44 220.98,147.16 221.07,146.87 221.16,146.57 221.24,146.27 221.33,145.97 221.41,145.66 221.50,145.34 221.58,145.02 221.67,144.69 221.76,144.36 221.84,144.02 221.93,143.67 222.01,143.32 222.10,142.97 222.18,142.60 222.27,142.24 222.36,141.87 222.44,141.49 222.53,141.11 222.61,140.72 222.70,140.32 222.78,139.93 222.87,139.52 222.96,139.11 223.04,138.70 223.13,138.28 223.21,137.86 223.30,137.43 223.38,137.00 223.47,136.56 223.56,136.12 223.64,135.67 223.73,135.22 223.81,134.76 223.90,134.30 223.98,133.84 224.07,133.37 224.16,132.89 224.24,132.41 224.33,131.93 224.41,131.44 224.50,130.95 224.58,130.46 224.67,129.96 224.76,129.45 224.84,128.95 224.93,128.44 225.01,127.92 225.10,127.40 225.18,126.88 225.27,126.35 225.36,125.82 225.44,125.29 225.53,124.75 225.61,124.21 225.70,123.67 225.78,123.12 225.87,122.57 225.96,122.02 226.04,121.46 226.13,120.90 226.21,120.34 226.30,119.77 226.38,119.20 226.47,118.63 226.56,118.06 226.64,117.48 226.73,116.90 226.81,116.32 226.90,115.74 226.98,115.15 227.07,114.56 227.15,113.97 227.24,113.37 227.33,112.78 227.41,112.18 227.50,111.58 227.58,110.98 227.67,110.37 227.75,109.77 227.84,109.16 227.93,108.55 228.01,107.94 228.10,107.32 228.18,106.71 228.27,106.09 228.35,105.48 228.44,104.86 228.53,104.24 228.61,103.62 228.70,103.00 228.78,102.37 228.87,101.75 228.95,101.12 229.04,100.50 229.13,99.87 229.21,99.24 229.30,98.61 229.38,97.99 229.47,97.36 229.55,96.73 229.64,96.10 229.73,95.47 229.81,94.84 229.90,94.21 229.98,93.58 230.07,92.95 230.15,92.31 230.24,91.68 230.33,91.05 230.41,90.42 230.50,89.79 230.58,89.17 230.67,88.54 230.75,87.91 230.84,87.28 230.93,86.65 231.01,86.03 231.10,85.40 231.18,84.78 231.27,84.15 231.35,83.53 231.44,82.91 231.53,82.29 231.61,81.67 231.70,81.05 231.78,80.44 231.87,79.82 231.95,79.21 232.04,78.60 232.13,77.99 232.21,77.38 232.30,76.77 232.38,76.17 232.47,75.56 232.55,74.96 232.64,74.36 232.73,73.77 232.81,73.17 232.90,72.58 232.98,71.99 233.07,71.40 233.15,70.81 233.24,70.23 233.32,69.65 233.41,69.07 233.50,68.50 233.58,67.92 233.67,67.35 233.75,66.79 233.84,66.22 233.92,65.66 234.01,65.10 234.10,64.55 234.18,64.00 234.27,63.45 234.35,62.91 234.44,62.36 234.52,61.83 234.61,61.29 234.70,60.76 234.78,60.23 234.87,59.71 234.95,59.19 235.04,58.67 235.12,58.16 235.21,57.65 235.30,57.14 235.38,56.64 235.47,56.15 235.55,55.65 235.64,55.16 235.72,54.68 235.81,54.20 235.90,53.72 235.98,53.25 236.07,52.78 236.15,52.32 236.24,51.86 236.32,51.41 236.41,50.96 236.50,50.52 236.58,50.08 236.67,49.64 236.75,49.21 236.84,48.79 236.92,48.37 237.01,47.95 237.10,47.54 237.18,47.13 237.27,46.73 237.35,46.34 237.44,45.95 237.52,45.56 237.61,45.18 237.70,44.81 237.78,44.44 237.87,44.08 237.95,43.72 238.04,43.37 238.12,43.02 238.21,42.68 238.30,42.34 238.38,42.01 238.47,41.69 238.55,41.37 238.64,41.05 238.72,40.75 238.81,40.44 238.90,40.15 238.98,39.86 239.07,39.57 239.15,39.30 239.24,39.02 239.32,38.76 239.41,38.50 239.50,38.24 239.58,37.99 239.67,37.75 239.75,37.52 239.84,37.29 239.92,37.06 240.01,36.84 240.09,36.63 240.18,36.43 240.27,36.23 240.35,36.03 240.44,35.85 240.52,35.67 240.61,35.49 240.69,35.33 240.78,35.17 240.87,35.01 240.95,34.86 241.04,34.72 241.12,34.59 241.21,34.46 241.29,34.33 241.38,34.22 241.47,34.11 241.55,34.01 241.64,33.91 241.72,33.82 241.81,33.74 241.89,33.66 241.98,33.59 242.07,33.53 242.15,33.47 242.24,33.42 242.32,33.37 242.41,33.34 242.49,33.31 242.58,33.28 242.67,33.27 242.75,33.25 242.84,33.25 242.92,33.25 243.01,33.26 243.09,33.28 243.18,33.30 243.27,33.33 243.35,33.36 243.44,33.40 243.52,33.45 243.61,33.51 243.69,33.57 243.78,33.64 243.87,33.71 243.95,33.79 244.04,33.88 244.12,33.98 244.21,34.08 244.29,34.19 244.38,34.30 244.47,34.42 244.55,34.55 244.64,34.68 244.72,34.82 244.81,34.97 244.89,35.12 244.98,35.28 245.07,35.44 245.15,35.62 245.24,35.79 245.32,35.98 245.41,36.17 245.49,36.37 245.58,36.57 245.67,36.78 245.75,37.00 245.84,37.22 245.92,37.45 246.01,37.68 246.09,37.92 246.18,38.17 246.26,38.42 246.35,38.68 246.44,38.94 246.52,39.21 246.61,39.49 246.69,39.77 246.78,40.06 246.86,40.36 246.95,40.66 247.04,40.96 247.12,41.27 247.21,41.59 247.29,41.91 247.38,42.24 247.46,42.58 247.55,42.92 247.64,43.26 247.72,43.61 247.81,43.97 247.89,44.33 247.98,44.70 248.06,45.07 248.15,45.45 248.24,45.83 248.32,46.22 248.41,46.61 248.49,47.01 248.58,47.42 248.66,47.83 248.75,48.24 248.84,48.66 248.92,49.08 249.01,49.51 249.09,49.95 249.18,50.38 249.26,50.83 249.35,51.27 249.44,51.73 249.52,52.18 249.61,52.64 249.69,53.11 249.78,53.58 249.86,54.06 249.95,54.53 250.04,55.02 250.12,55.51 250.21,56.00 250.29,56.49 250.38,56.99 250.46,57.50 250.55,58.00 250.64,58.52 250.72,59.03 250.81,59.55 250.89,60.07 250.98,60.60 251.06,61.13 251.15,61.66 251.24,62.20 251.32,62.74 251.41,63.29 251.49,63.83 251.58,64.38 251.66,64.94 251.75,65.50 251.84,66.06 251.92,66.62 252.01,67.18 252.09,67.75 252.18,68.32 252.26,68.90 252.35,69.48 252.44,70.06 252.52,70.64 252.61,71.22 252.69,71.81 252.78,72.40 252.86,72.99 252.95,73.59 253.03,74.18 253.12,74.78 253.21,75.38 253.29,75.98 253.38,76.59 253.46,77.20 253.55,77.80 253.63,78.41 253.72,79.02 253.81,79.64 253.89,80.25 253.98,80.87 254.06,81.49 254.15,82.10 254.23,82.72 254.32,83.35 254.41,83.97 254.49,84.59 254.58,85.21 254.66,85.84 254.75,86.47 254.83,87.09 254.92,87.72 255.01,88.35 255.09,88.98 255.18,89.61 255.26,90.24 255.35,90.87 255.43,91.50 255.52,92.13 255.61,92.76 255.69,93.39 255.78,94.02 255.86,94.65 255.95,95.28 256.03,95.91 256.12,96.54 256.21,97.17 256.29,97.80 256.38,98.43 256.46,99.05 256.55,99.68 256.63,100.31 256.72,100.93 256.81,101.56 256.89,102.18 256.98,102.81 257.06,103.43 257.15,104.05 257.23,104.67 257.32,105.29 257.41,105.91 257.49,106.52 257.58,107.14 257.66,107.75 257.75,108.36 257.83,108.98 257.92,109.58 258.01,110.19 258.09,110.79 258.18,111.40 258.26,112.00 258.35,112.60 258.43,113.19 258.52,113.79 258.61,114.38 258.69,114.97 258.78,115.56 258.86,116.14 258.95,116.73 259.03,117.31 259.12,117.89 259.20,118.46 259.29,119.03 259.38,119.60 259.46,120.17 259.55,120.73 259.63,121.29 259.72,121.85 259.80,122.41 259.89,122.96 259.98,123.50 260.06,124.05 260.15,124.59 260.23,125.13 260.32,125.66 260.40,126.19 260.49,126.72 260.58,127.25 260.66,127.77 260.75,128.28 260.83,128.79 260.92,129.30 261.00,129.81 261.09,130.31 261.18,130.80 261.26,131.30 261.35,131.79 261.43,132.27 261.52,132.75 261.60,133.22 261.69,133.70 261.78,134.16 261.86,134.62 261.95,135.08 262.03,135.54 262.12,135.98 262.20,136.43 262.29,136.87 262.38,137.30 262.46,137.73 262.55,138.16 262.63,138.58 262.72,138.99 262.80,139.40 262.89,139.81 262.98,140.21 263.06,140.60 263.15,140.99 263.23,141.37 263.32,141.75 263.40,142.13 263.49,142.50 263.58,142.86 263.66,143.22 263.75,143.57 263.83,143.91 263.92,144.26 264.00,144.59 264.09,144.92 264.18,145.25 264.26,145.56 264.35,145.88 264.43,146.18 264.52,146.48 264.60,146.78 264.69,147.07 264.78,147.35 264.86,147.63 264.95,147.90 265.03,148.17 265.12,148.43 265.20,148.68 265.29,148.93 265.37,149.17 265.46,149.41 265.55,149.64 265.63,149.86 265.72,150.08 265.80,150.29 265.89,150.49 265.97,150.69 266.06,150.88 266.15,151.07 266.23,151.25 266.32,151.42 266.40,151.59 266.49,151.75 266.57,151.90 266.66,152.05 266.75,152.19 266.83,152.33 266.92,152.46 267.00,152.58 267.09,152.69 267.17,152.80 267.26,152.90 267.35,153.00 267.43,153.09 267.52,153.17 267.60,153.25 267.69,153.32 267.77,153.38 267.86,153.44 267.95,153.49 268.03,153.53 268.12,153.57 268.20,153.60 268.29,153.62 268.37,153.64 268.46,153.65 268.55,153.65 268.63,153.65 268.72,153.64 268.80,153.62 268.89,153.60 268.97,153.57 269.06,153.53 269.15,153.49 269.23,153.44 269.32,153.39 269.40,153.32 269.49,153.25 269.57,153.18 269.66,153.10 269.75,153.01 269.83,152.91 269.92,152.81 270.00,152.70 270.09,152.59 270.17,152.47 270.26,152.34 270.35,152.21 270.43,152.07 270.52,151.92 270.60,151.77 270.69,151.61 270.77,151.44 270.86,151.27 270.95,151.09 271.03,150.90 271.12,150.71 271.20,150.51 271.29,150.31 271.37,150.10 271.46,149.88 271.55,149.66 271.63,149.43 271.72,149.20 271.80,148.96 271.89,148.71 271.97,148.45 272.06,148.20 272.14,147.93 272.23,147.66 272.32,147.38 272.40,147.10 272.49,146.81 272.57,146.51 272.66,146.21 272.74,145.91 272.83,145.60 272.92,145.28 273.00,144.95 273.09,144.62 273.17,144.29 273.26,143.95 273.34,143.60 273.43,143.25 273.52,142.89 273.60,142.53 273.69,142.16 273.77,141.79 273.86,141.41 273.94,141.03 274.03,140.64 274.12,140.25 274.20,139.85 274.29,139.44 274.37,139.03 274.46,138.62 274.54,138.20 274.63,137.77 274.72,137.35 274.80,136.91 274.89,136.47 274.97,136.03 275.06,135.58 275.14,135.13 275.23,134.67 275.32,134.21 275.40,133.74 275.49,133.27 275.57,132.80 275.66,132.32 275.74,131.83 275.83,131.35 275.92,130.85 276.00,130.36 276.09,129.86 276.17,129.35 276.26,128.84 276.34,128.33 276.43,127.82 276.52,127.30 276.60,126.77 276.69,126.25 276.77,125.72 276.86,125.18 276.94,124.64 277.03,124.10 277.12,123.56 277.20,123.01 277.29,122.46 277.37,121.91 277.46,121.35 277.54,120.79 277.63,120.23 277.72,119.66 277.80,119.09 277.89,118.52 277.97,117.94 278.06,117.37 278.14,116.79 278.23,116.20 278.31,115.62 278.40,115.03 278.49,114.44 278.57,113.85 278.66,113.25 278.74,112.66 278.83,112.06 278.91,111.46 279.00,110.86 279.09,110.25 279.17,109.64 279.26,109.04 279.34,108.43 279.43,107.81 279.51,107.20 279.60,106.59 279.69,105.97 279.77,105.35 279.86,104.73 279.94,104.11 280.03,103.49 280.11,102.87 280.20,102.25 280.29,101.62 280.37,101.00 280.46,100.37 280.54,99.74 280.63,99.12 280.71,98.49 280.80,97.86 280.89,97.23 280.97,96.60 281.06,95.97 281.14,95.34 281.23,94.71 281.31,94.08 281.40,93.45" fill="none" stroke="#4a6fd0" stroke-width="1.3" stroke-linejoin="round" />
<polyline points="24.40,93.45 24.49,92.21 24.57,92.75 24.66,93.40 24.74,91.88 24.83,92.38 24.91,89.54 25.00,86.20 25.09,89.46 25.17,89.11 25.26,86.10 25.34,85.75 25.43,85.67 25.51,87.32 25.60,84.72 25.69,82.48 25.77,86.41 25.86,83.81 25.94,86.46 26.03,84.48 26.11,85.14 26.20,80.85 26.29,82.63 26.37,78.46 26.46,78.11 26.54,78.30 26.63,82.45 26.71,77.93 26.80,76.16 26.89,75.17 26.97,78.53 27.06,75.40 27.14,76.03 27.23,75.03 27.31,69.85 27.40,73.86 27.49,71.36 27.57,68.49 27.66,71.58 27.74,69.82 27.83,68.68 27.91,68.22 28.00,70.94 28.08,67.05 28.17,63.18 28.26,70.11 28.34,63.32 28.43,64.68 28.51,66.12 28.60,58.63 28.68,61.33 28.77,65.98 28.86,62.06 28.94,60.18 29.03,61.69 29.11,58.81 29.20,60.31 29.28,57.79 29.37,55.16 29.46,60.42 29.54,57.50 29.63,58.83 29.71,56.69 29.80,59.84 29.88,57.66 29.97,56.10 30.06,52.54 30.14,51.35 30.23,57.85 30.31,55.88 30.40,51.32 30.48,58.38 30.57,53.56 30.66,52.05 30.74,47.69 30.83,48.88 30.91,51.38 31.00,51.06 31.08,50.29 31.17,44.66 31.26,49.96 31.34,49.18 31.43,46.83 31.51,47.82 31.60,47.64 31.68,49.97 31.77,46.29 31.86,47.20 31.94,41.99 32.03,43.14 32.11,44.81 32.20,42.35 32.28,45.04 32.37,40.45 32.46,43.31 32.54,41.17 32.63,46.56 32.71,41.21 32.80,47.14 32.88,47.89 32.97,42.24 33.06,43.78 33.14,40.18 33.23,33.55 33.31,42.68 33.40,41.75 33.48,38.88 33.57,37.70 33.66,39.52 33.74,39.35 33.83,36.24 33.91,36.55 34.00,41.21 34.08,37.95 34.17,37.36 34.25,40.58 34.34,36.19 34.43,39.53 34.51,33.50 34.60,35.77 34.68,35.90 34.77,37.89 34.85,36.19 34.94,42.03 35.03,39.09 35.11,34.13 35.20,41.97 35.28,32.26 35.37,40.45 35.45,32.26 35.54,37.29 35.63,31.92 35.71,33.89 35.80,39.16 35.88,30.05 35.97,29.32 36.05,34.10 36.14,34.69 36.23,34.24 36.31,36.81 36.40,30.01 36.48,35.28 36.57,33.62 36.65,35.99 36.74,35.40 36.83,37.48 36.91,29.22 37.00,33.78 37.08,30.12 37.17,33.21 37.25,35.51 37.34,34.32 37.43,35.08 37.51,33.25 37.60,34.52 37.68,34.31 37.77,37.85 37.85,36.03 37.94,28.09 38.03,35.70 38.11,37.00 38.20,32.56 38.28,29.17 38.37,38.52 38.45,34.58 38.54,36.04 38.63,39.79 38.71,31.83 38.80,34.40 38.88,34.21 38.97,37.00 39.05,33.24 39.14,36.58 39.23,35.46 39.31,38.71 39.40,39.21 39.48,31.20 39.57,37.27 39.65,34.90 39.74,36.12 39.83,37.62 39.91,38.03 40.00,34.61 40.08,37.78 40.17,37.52 40.25,37.19 40.34,33.77 40.43,35.58 40.51,36.76 40.60,39.99 40.68,42.82 40.77,35.75 40.85,35.97 40.94,39.71 41.02,37.85 41.11,37.39 41.20,37.53 41.28,37.55 41.37,42.13 41.45,36.34 41.54,45.18 41.62,39.00 41.71,40.46 41.80,39.63 41.88,36.89 41.97,38.45 42.05,46.82 42.14,48.82 42.22,41.56 42.31,47.48 42.40,44.81 42.48,42.62 42.57,50.46 42.65,52.23 42.74,45.53 42.82,46.56 42.91,47.82 43.00,47.38 43.08,50.45 43.17,52.78 43.25,49.23 43.34,52.01 43.42,54.40 43.51,48.56 43.60,50.65 43.68,49.74 43.77,54.22 43.85,53.71 43.94,55.14 44.02,55.27 44.11,52.65 44.20,55.90 44.28,53.14 44.37,53.67 44.45,49.43 44.54,59.50 44.62,53.62 44.71,56.84 44.80,57.13 44.88,61.60 44.97,59.37 45.05,56.58 45.14,59.36 45.22,59.43 45.31,60.97 45.40,57.59 45.48,61.29 45.57,67.65 45.65,64.15 45.74,68.07 45.82,69.20 45.91,65.34 46.00,61.00 46.08,64.93 46.17,68.65 46.25,68.60 46.34,63.82 46.42,66.89 46.51,67.74 46.60,68.58 46.68,68.92 46.77,67.57 46.85,68.79 46.94,70.22 47.02,73.93 47.11,70.67 47.19,74.20 47.28,70.44 47.37,76.80 47.45,74.64 47.54,74.92 47.62,78.67 47.71,72.00 47.79,73.25 47.88,78.41 47.97,76.11 48.05,77.65 48.14,84.25 48.22,79.18 48.31,80.52 48.39,80.80 48.48,84.06 48.57,82.84 48.65,83.25 48.74,80.82 48.82,83.35 48.91,84.73 48.99,81.98 49.08,87.18 49.17,87.44 49.25,91.14 49.34,84.48 49.42,86.42 49.51,87.16 49.59,88.32 49.68,90.13 49.77,90.54 49.85,92.14 49.94,92.67 50.02,92.77 50.11,90.44 50.19,93.01 50.28,94.89 50.37,96.60 50.45,97.36 50.54,93.30 50.62,96.23 50.71,97.78 50.79,99.29 50.88,101.56 50.97,99.95 51.05,98.54 51.14,101.92 51.22,102.18 51.31,102.80 51.39,102.69 51.48,107.12 51.57,104.71 51.65,106.73 51.74,103.40 51.82,107.79 51.91,105.32 51.99,103.74 52.08,108.60 52.17,109.89 52.25,108.65 52.34,109.71 52.42,112.67 52.51,109.82 52.59,106.69 52.68,112.74 52.77,113.21 52.85,115.86 52.94,113.13 53.02,117.56 53.11,117.82 53.19,112.50 53.28,118.52 53.36,114.13 53.45,113.59 53.54,117.35 53.62,117.17 53.71,114.16 53.79,120.22 53.88,121.81 53.96,124.34 54.05,121.30 54.14,118.10 54.22,120.00 54.31,125.55 54.39,125.87 54.48,125.50 54.56,123.92 54.65,125.79 54.74,125.19 54.82,125.50 54.91,127.64 54.99,127.46 55.08,127.30 55.16,128.61 55.25,127.51 55.34,124.24 55.42,128.27 55.51,130.25 55.59,135.61 55.68,130.31 55.76,137.35 55.85,136.34 55.94,130.43 56.02,131.31 56.11,134.22 56.19,139.14 56.28,135.78 56.36,137.13 56.45,133.79 56.54,129.70 56.62,135.89 56.71,139.22 56.79,140.81 56.88,137.98 56.96,138.76 57.05,142.05 57.14,138.73 57.22,142.89 57.31,136.58 57.39,137.12 57.48,137.44 57.56,142.49 57.65,139.90 57.74,142.23 57.82,143.37 57.91,143.59 57.99,146.87 58.08,147.68 58.16,141.22 58.25,144.57 58.34,143.66 58.42,141.58 58.51,150.32 58.59,147.73 58.68,145.09 58.76,144.73 58.85,147.41 58.94,143.35 59.02,146.18 59.11,150.91 59.19,150.32 59.28,145.17 59.36,146.50 59.45,154.19 59.54,144.24 59.62,146.85 59.71,144.74 59.79,150.43 59.88,150.39 59.96,153.25 60.05,142.92 60.13,150.68 60.22,145.28 60.31,152.60 60.39,150.21 60.48,156.26 60.56,152.33 60.65,148.13 60.73,155.47 60.82,148.18 60.91,150.70 60.99,155.29 61.08,153.69 61.16,153.70 61.25,152.51 61.33,154.21 61.42,155.27 61.51,153.70 61.59,156.14 61.68,157.10 61.76,153.17 61.85,150.25 61.93,158.14 62.02,153.25 62.11,155.44 62.19,156.56 62.28,150.68 62.36,155.18 62.45,148.67 62.53,156.11 62.62,152.34 62.71,154.36 62.79,156.09 62.88,151.74 62.96,154.15 63.05,151.68 63.13,153.79 63.22,157.15 63.31,153.92 63.39,153.39 63.48,150.41 63.56,156.42 63.65,153.56 63.73,158.96 63.82,151.20 63.91,156.75 63.99,159.02 64.08,153.27 64.16,149.41 64.25,157.83 64.33,156.31 64.42,155.08 64.51,156.21 64.59,151.22 64.68,154.92 64.76,154.50 64.85,150.16 64.93,154.32 65.02,150.34 65.11,154.69 65.19,155.29 65.28,157.11 65.36,145.10 65.45,151.89 65.53,149.89 65.62,150.57 65.71,149.76 65.79,149.90 65.88,143.78 65.96,152.91 66.05,154.31 66.13,152.35 66.22,153.12 66.30,146.31 66.39,145.82 66.48,151.16 66.56,152.23 66.65,148.71 66.73,142.98 66.82,153.90 66.90,145.11 66.99,149.80 67.08,142.93 67.16,149.18 67.25,146.41 67.33,149.85 67.42,147.89 67.50,140.31 67.59,141.71 67.68,145.11 67.76,146.18 67.85,148.94 67.93,144.02 68.02,142.55 68.10,142.34 68.19,142.00 68.28,144.70 68.36,141.15 68.45,140.68 68.53,136.32 68.62,134.22 68.70,139.77 68.79,141.21 68.88,138.73 68.96,139.90 69.05,139.86 69.13,137.43 69.22,139.86 69.30,134.63 69.39,136.24 69.48,134.77 69.56,135.56 69.65,136.66 69.73,136.82 69.82,134.32 69.90,134.73 69.99,132.04 70.08,132.23 70.16,135.56 70.25,131.06 70.33,134.50 70.42,131.97 70.50,130.57 70.59,134.97 70.68,128.49 70.76,127.82 70.85,128.14 70.93,128.34 71.02,127.68 71.10,128.77 71.19,126.33 71.28,126.55 71.36,124.29 71.45,127.19 71.53,122.83 71.62,122.53 71.70,122.72 71.79,122.94 71.88,119.80 71.96,124.98 72.05,118.93 72.13,118.92 72.22,118.25 72.30,117.43 72.39,119.48 72.48,117.90 72.56,115.08 72.65,115.01 72.73,114.99 72.82,118.65 72.90,113.00 72.99,110.87 73.07,110.68 73.16,111.97 73.25,115.69 73.33,109.08 73.42,111.09 73.50,115.34 73.59,108.63 73.67,112.41 73.76,111.33 73.85,109.17 73.93,104.14 74.02,107.31 74.10,105.23 74.19,101.26 74.27,101.01 74.36,104.22 74.45,103.91 74.53,105.54 74.62,103.66 74.70,100.56 74.79,100.01 74.87,100.01 74.96,97.47 75.05,100.65 75.13,98.48 75.22,96.19 75.30,95.88 75.39,94.23 75.47,95.02 75.56,95.86 75.65,93.84 75.73,96.00 75.82,96.66 75.90,91.50 75.99,92.18 76.07,90.79 76.16,94.34 76.25,90.94 76.33,90.81 76.42,90.75 76.50,92.99 76.59,88.38 76.67,85.09 76.76,85.57 76.85,87.09 76.93,85.19 77.02,82.85 77.10,88.80 77.19,83.56 77.27,81.44 77.36,80.50 77.45,77.55 77.53,78.21 77.62,79.47 77.70,78.88 77.79,77.13 77.87,79.61 77.96,77.84 78.05,74.99 78.13,71.88 78.22,76.30 78.30,75.44 78.39,74.24 78.47,70.87 78.56,73.60 78.65,69.34 78.73,74.72 78.82,72.21 78.90,71.66 78.99,68.62 79.07,67.38 79.16,73.22 79.24,71.16 79.33,67.41 79.42,69.38 79.50,71.03 79.59,63.89 79.67,64.72 79.76,64.16 79.84,66.12 79.93,61.63 80.02,64.41 80.10,60.33 80.19,65.11 80.27,64.42 80.36,61.06 80.44,62.96 80.53,58.72 80.62,59.32 80.70,62.01 80.79,58.78 80.87,59.43 80.96,55.43 81.04,59.19 81.13,58.16 81.22,53.07 81.30,49.81 81.39,49.86 81.47,54.79 81.56,53.87 81.64,49.67 81.73,53.89 81.82,55.85 81.90,52.26 81.99,50.84 82.07,54.07 82.16,55.98 82.24,54.94 82.33,48.41 82.42,52.11 82.50,49.88 82.59,48.42 82.67,46.80 82.76,49.19 82.84,46.31 82.93,50.02 83.02,48.05 83.10,49.63 83.19,42.80 83.27,45.88 83.36,47.63 83.44,46.10 83.53,45.33 83.62,42.17 83.70,48.78 83.79,46.73 83.87,44.38 83.96,36.16 84.04,39.62 84.13,42.55 84.22,39.69 84.30,35.22 84.39,41.96 84.47,42.06 84.56,36.87 84.64,38.79 84.73,37.94 84.82,41.33 84.90,33.45 84.99,33.83 85.07,37.14 85.16,36.50 85.24,44.77 85.33,36.13 85.42,38.51 85.50,36.28 85.59,35.26 85.67,38.28 85.76,42.34 85.84,35.59 85.93,38.91 86.01,37.40 86.10,38.08 86.19,37.05 86.27,42.81 86.36,31.70 86.44,34.61 86.53,31.69 86.61,28.74 86.70,34.88 86.79,40.61 86.87,37.55 86.96,38.43 87.04,36.03 87.13,34.03 87.21,40.65 87.30,32.96 87.39,38.86 87.47,32.91 87.56,34.14 87.64,34.72 87.73,33.87 87.81,35.32 87.90,35.49 87.99,38.91 88.07,33.50 88.16,27.36 88.24,26.89 88.33,29.00 88.41,30.98 88.50,35.46 88.59,28.56 88.67,33.43 88.76,33.48 88.84,34.21 88.93,32.99 89.01,34.72 89.10,33.61 89.19,36.90 89.27,34.64 89.36,26.33 89.44,33.76 89.53,34.37 89.61,31.94 89.70,31.45 89.79,37.44 89.87,34.59 89.96,31.05 90.04,33.25 90.13,33.84 90.21,29.33 90.30,36.66 90.39,34.33 90.47,36.41 90.56,30.08 90.64,41.30 90.73,37.33 90.81,37.04 90.90,33.39 90.99,33.75 91.07,31.41 91.16,41.08 91.24,33.85 91.33,37.38 91.41,38.77 91.50,35.15 91.59,40.00 91.67,43.89 91.76,38.71 91.84,42.51 91.93,40.07 92.01,37.10 92.10,37.54 92.18,33.80 92.27,39.68 92.36,44.12 92.44,41.96 92.53,42.75 92.61,43.97 92.70,39.12 92.78,42.78 92.87,47.20 92.96,39.25 93.04,42.06 93.13,40.95 93.21,42.05 93.30,40.78 93.38,42.94 93.47,39.64 93.56,42.46 93.64,42.93 93.73,43.24 93.81,49.24 93.90,45.72 93.98,46.38 94.07,45.37 94.16,50.43 94.24,41.91 94.33,46.86 94.41,51.17 94.50,53.04 94.58,49.24 94.67,49.09 94.76,51.36 94.84,49.42 94.93,51.99 95.01,48.96 95.10,53.10 95.18,51.57 95.27,49.10 95.36,46.07 95.44,55.71 95.53,54.62 95.61,56.15 95.70,52.03 95.78,57.96 95.87,56.57 95.96,55.78 96.04,58.92 96.13,59.35 96.21,58.51 96.30,63.49 96.38,62.18 96.47,59.85 96.56,58.83 96.64,60.26 96.73,65.08 96.81,62.06 96.90,59.20 96.98,60.39 97.07,62.63 97.16,65.31 97.24,61.84 97.33,65.57 97.41,67.66 97.50,67.25 97.58,61.96 97.67,65.71 97.76,63.86 97.84,68.64 97.93,65.59 98.01,70.08 98.10,69.53 98.18,64.18 98.27,68.37 98.35,72.12 98.44,71.67 98.53,71.24 98.61,69.67 98.70,74.42 98.78,78.05 98.87,75.10 98.95,74.98 99.04,75.36 99.13,73.09 99.21,76.08 99.30,75.52 99.38,80.63 99.47,76.63 99.55,74.41 99.64,78.10 99.73,79.92 99.81,80.76 99.90,77.68 99.98,84.44 100.07,83.22 100.15,82.57 100.24,82.57 100.33,85.80 100.41,84.79 100.50,86.70 100.58,86.46 100.67,87.63 100.75,90.42 100.84,88.64 100.93,87.37 101.01,91.89 101.10,90.99 101.18,89.74 101.27,93.96 101.35,92.00 101.44,95.17 101.53,91.33 101.61,89.76 101.70,90.73 101.78,95.99 101.87,94.62 101.95,96.54 102.04,97.20 102.13,94.76 102.21,101.50 102.30,97.04 102.38,100.04 102.47,97.49 102.55,100.78 102.64,103.29 102.73,101.82 102.81,101.42 102.90,103.60 102.98,103.20 103.07,106.10 103.15,110.40 103.24,104.10 103.33,105.16 103.41,107.04 103.50,107.84 103.58,106.19 103.67,110.29 103.75,111.50 103.84,110.88 103.93,108.20 104.01,114.97 104.10,109.36 104.18,114.39 104.27,116.11 104.35,110.94 104.44,114.86 104.53,118.42 104.61,116.69 104.70,114.05 104.78,113.97 104.87,118.62 104.95,117.09 105.04,116.87 105.12,120.91 105.21,118.92 105.30,120.48 105.38,122.34 105.47,122.80 105.55,121.90 105.64,122.55 105.72,124.67 105.81,124.85 105.90,121.31 105.98,124.24 106.07,122.97 106.15,122.64 106.24,124.82 106.32,120.97 106.41,129.70 106.50,125.76 106.58,129.36 106.67,123.89 106.75,124.81 106.84,135.42 106.92,133.20 107.01,129.15 107.10,129.28 107.18,129.91 107.27,132.66 107.35,131.65 107.44,131.56 107.52,134.10 107.61,131.41 107.70,141.12 107.78,133.44 107.87,138.70 107.95,133.39 108.04,137.27 108.12,139.63 108.21,136.38 108.30,140.57 108.38,141.01 108.47,143.36 108.55,139.23 108.64,138.09 108.72,136.92 108.81,140.79 108.90,137.62 108.98,141.09 109.07,141.81 109.15,140.18 109.24,139.08 109.32,143.67 109.41,143.74 109.50,143.85 109.58,143.45 109.67,146.80 109.75,141.24 109.84,145.95 109.92,143.63 110.01,147.92 110.10,144.58 110.18,144.79 110.27,147.61 110.35,140.32 110.44,145.74 110.52,141.64 110.61,144.47 110.70,149.81 110.78,149.21 110.87,146.90 110.95,148.34 111.04,148.63 111.12,149.93 111.21,154.99 111.29,150.21 111.38,156.70 111.47,148.77 111.55,152.47 111.64,152.65 111.72,151.27 111.81,149.90 111.89,155.54 111.98,156.74 112.07,154.73 112.15,158.04 112.24,154.76 112.32,146.70 112.41,155.36 112.49,150.01 112.58,156.67 112.67,151.41 112.75,153.54 112.84,152.82 112.92,150.90 113.01,147.16 113.09,152.31 113.18,152.63 113.27,156.28 113.35,151.31 113.44,154.07 113.52,150.64 113.61,153.54 113.69,147.80 113.78,159.94 113.87,154.51 113.95,150.71 114.04,154.75 114.12,156.20 114.21,154.51 114.29,158.13 114.38,153.26 114.47,146.49 114.55,149.91 114.64,157.22 114.72,156.43 114.81,154.87 114.89,150.25 114.98,156.14 115.07,155.66 115.15,150.49 115.24,150.49 115.32,154.44 115.41,156.77 115.49,158.08 115.58,155.23 115.67,159.99 115.75,150.35 115.84,154.69 115.92,150.99 116.01,146.39 116.09,148.51 116.18,155.86 116.27,149.21 116.35,148.14 116.44,154.10 116.52,154.60 116.61,151.72 116.69,156.32 116.78,146.31 116.87,157.85 116.95,154.16 117.04,151.29 117.12,150.95 117.21,149.49 117.29,148.93 117.38,150.25 117.47,145.74 117.55,155.86 117.64,148.86 117.72,150.86 117.81,147.94 117.89,147.40 117.98,150.68 118.06,149.55 118.15,144.80 118.24,145.90 118.32,148.81 118.41,140.06 118.49,139.28 118.58,150.30 118.66,144.54 118.75,138.38 118.84,142.41 118.92,143.81 119.01,144.79 119.09,145.46 119.18,144.11 119.26,144.78 119.35,140.49 119.44,143.59 119.52,143.35 119.61,145.26 119.69,141.41 119.78,143.55 119.86,141.02 119.95,136.99 120.04,138.60 120.12,137.78 120.21,137.82 120.29,138.28 120.38,138.40 120.46,138.50 120.55,134.96 120.64,139.89 120.72,132.41 120.81,135.75 120.89,137.56 120.98,136.35 121.06,136.42 121.15,133.57 121.24,135.60 121.32,129.85 121.41,134.81 121.49,138.32 121.58,133.69 121.66,136.76 121.75,130.77 121.84,127.22 121.92,127.87 122.01,132.83 122.09,130.73 122.18,123.26 122.26,126.74 122.35,127.08 122.44,123.71 122.52,120.11 122.61,122.03 122.69,124.60 122.78,123.49 122.86,122.25 122.95,124.96 123.04,125.57 123.12,122.10 123.21,124.15 123.29,121.28 123.38,120.32 123.46,114.35 123.55,121.61 123.64,119.17 123.72,118.70 123.81,116.61 123.89,114.51 123.98,117.78 124.06,118.01 124.15,119.45 124.23,117.08 124.32,112.89 124.41,113.50 124.49,115.48 124.58,113.32 124.66,111.74 124.75,110.01 124.83,112.03 124.92,110.60 125.01,113.68 125.09,111.49 125.18,104.41 125.26,112.64 125.35,107.73 125.43,105.84 125.52,106.58 125.61,106.94 125.69,104.62 125.78,103.88 125.86,103.43 125.95,106.79 126.03,102.32 126.12,103.25 126.21,101.94 126.29,99.63 126.38,98.11 126.46,96.95 126.55,99.29 126.63,95.65 126.72,94.51 126.81,93.97 126.89,92.83 126.98,95.39 127.06,94.82 127.15,92.15 127.23,95.98 127.32,92.14 127.41,93.03 127.49,92.07 127.58,94.31 127.66,91.92 127.75,89.46 127.83,86.90 127.92,86.04 128.01,87.70 128.09,87.31 128.18,88.09 128.26,84.77 128.35,85.57 128.43,83.06 128.52,79.88 128.61,83.23 128.69,85.91 128.78,83.87 128.86,84.62 128.95,83.42 129.03,77.06 129.12,78.93 129.21,82.38 129.29,76.70 129.38,74.66 129.46,77.86 129.55,78.01 129.63,76.61 129.72,74.52 129.81,73.06 129.89,71.14 129.98,70.45 130.06,69.91 130.15,68.87 130.23,70.00 130.32,74.85 130.41,70.79 130.49,69.09 130.58,70.27 130.66,66.42 130.75,69.07 130.83,69.95 130.92,63.31 131.00,64.73 131.09,65.32 131.18,62.92 131.26,62.00 131.35,63.32 131.43,69.47 131.52,64.91 131.60,63.79 131.69,64.67 131.78,60.97 131.86,57.76 131.95,61.75 132.03,62.99 132.12,53.88 132.20,60.11 132.29,61.74 132.38,57.20 132.46,56.17 132.55,58.80 132.63,54.14 132.72,57.21 132.80,57.95 132.89,54.37 132.98,52.21 133.06,55.71 133.15,52.50 133.23,53.24 133.32,46.21 133.40,54.08 133.49,47.60 133.58,51.29 133.66,51.06 133.75,48.15 133.83,47.21 133.92,45.68 134.00,47.99 134.09,50.30 134.18,49.70 134.26,46.20 134.35,45.57 134.43,42.73 134.52,45.25 134.60,42.93 134.69,41.17 134.78,44.84 134.86,49.44 134.95,48.15 135.03,48.58 135.12,39.03 135.20,46.09 135.29,39.40 135.38,41.02 135.46,37.22 135.55,39.06 135.63,42.13 135.72,42.11 135.80,40.92 135.89,40.33 135.98,42.21 136.06,40.37 136.15,34.96 136.23,45.00 136.32,38.60 136.40,41.97 136.49,38.28 136.58,35.96 136.66,38.52 136.75,35.66 136.83,42.87 136.92,34.11 137.00,39.29 137.09,35.18 137.17,36.35 137.26,43.71 137.35,38.92 137.43,35.60 137.52,31.15 137.60,35.00 137.69,34.91 137.77,40.09 137.86,30.80 137.95,29.43 138.03,34.98 138.12,35.63 138.20,39.99 138.29,31.79 138.37,27.41 138.46,32.07 138.55,30.18 138.63,32.40 138.72,37.23 138.80,29.62 138.89,37.85 138.97,34.45 139.06,32.79 139.15,30.75 139.23,32.20 139.32,32.24 139.40,35.91 139.49,37.58 139.57,33.15 139.66,35.63 139.75,37.54 139.83,37.39 139.92,34.85 140.00,39.27 140.09,37.63 140.17,38.57 140.26,32.68 140.35,31.96 140.43,26.79 140.52,38.21 140.60,35.59 140.69,30.47 140.77,34.19 140.86,34.61 140.95,28.07 141.03,34.78 141.12,37.51 141.20,38.11 141.29,32.85 141.37,33.05 141.46,38.58 141.55,37.44 141.63,32.64 141.72,32.63 141.80,36.70 141.89,32.76 141.97,33.07 142.06,40.79 142.15,36.22 142.23,34.05 142.32,37.38 142.40,42.57 142.49,36.81 142.57,33.69 142.66,31.25 142.75,43.47 142.83,29.70 142.92,40.49 143.00,34.09 143.09,33.44 143.17,34.48 143.26,37.35 143.34,41.73 143.43,36.35 143.52,40.82 143.60,45.74 143.69,32.21 143.77,37.16 143.86,33.98 143.94,42.79 144.03,35.67 144.12,35.60 144.20,36.02 144.29,41.21 144.37,45.17 144.46,42.33 144.54,48.87 144.63,47.66 144.72,42.50 144.80,46.15 144.89,43.97 144.97,44.16 145.06,38.34 145.14,40.63 145.23,45.06 145.32,41.66 145.40,48.02 145.49,47.07 145.57,43.74 145.66,50.55 145.74,48.08 145.83,51.57 145.92,47.73 146.00,43.69 146.09,51.12 146.17,48.68 146.26,52.39 146.34,53.55 146.43,54.23 146.52,46.89 146.60,45.21 146.69,50.61 146.77,54.51 146.86,50.91 146.94,54.34 147.03,51.59 147.12,53.52 147.20,54.04 147.29,53.61 147.37,57.42 147.46,57.42 147.54,61.57 147.63,58.52 147.72,61.72 147.80,58.71 147.89,61.44 147.97,59.07 148.06,58.63 148.14,64.23 148.23,63.11 148.32,63.98 148.40,59.99 148.49,57.99 148.57,60.81 148.66,64.54 148.74,60.32 148.83,68.67 148.92,61.37 149.00,67.53 149.09,72.07 149.17,61.31 149.26,63.49 149.34,70.72 149.43,68.24 149.52,69.79 149.60,69.57 149.69,74.11 149.77,72.68 149.86,70.42 149.94,71.62 150.03,69.82 150.11,73.15 150.20,68.61 150.29,76.27 150.37,74.52 150.46,80.32 150.54,79.33 150.63,73.81 150.71,79.78 150.80,76.93 150.89,78.92 150.97,81.81 151.06,80.81 151.14,81.80 151.23,82.35 151.31,80.15 151.40,81.01 151.49,84.39 151.57,85.74 151.66,83.72 151.74,85.19 151.83,83.34 151.91,81.42 152.00,85.02 152.09,87.54 152.17,88.46 152.26,90.55 152.34,91.27 152.43,92.09 152.51,91.44 152.60,92.13 152.69,90.34 152.77,93.32 152.86,93.54 152.94,96.25 153.03,91.02 153.11,93.98 153.20,91.94 153.29,94.62 153.37,93.79 153.46,98.07 153.54,96.65 153.63,94.09 153.71,102.07 153.80,97.51 153.89,96.99 153.97,100.39 154.06,100.25 154.14,99.72 154.23,104.68 154.31,102.87 154.40,106.43 154.49,106.61 154.57,107.10 154.66,106.61 154.74,106.55 154.83,106.44 154.91,111.50 155.00,103.99 155.09,106.55 155.17,108.19 155.26,111.42 155.34,111.38 155.43,110.41 155.51,111.34 155.60,117.13 155.69,111.70 155.77,108.75 155.86,119.40 155.94,112.80 156.03,114.97 156.11,116.78 156.20,113.54 156.28,120.72 156.37,117.81 156.46,114.98 156.54,119.89 156.63,121.04 156.71,120.20 156.80,122.25 156.88,117.49 156.97,124.62 157.06,120.38 157.14,126.68 157.23,122.01 157.31,124.66 157.40,130.79 157.48,125.47 157.57,128.93 157.66,127.74 157.74,122.75 157.83,130.68 157.91,131.05 158.00,124.53 158.08,128.77 158.17,125.23 158.26,129.19 158.34,133.13 158.43,131.29 158.51,128.05 158.60,129.35 158.68,132.55 158.77,132.89 158.86,133.84 158.94,135.67 159.03,128.76 159.11,134.88 159.20,138.70 159.28,137.22 159.37,134.09 159.46,134.77 159.54,137.54 159.63,139.57 159.71,137.91 159.80,143.47 159.88,142.77 159.97,136.81 160.06,141.11 160.14,138.90 160.23,136.71 160.31,138.84 160.40,141.16 160.48,135.02 160.57,139.91 160.66,143.45 160.74,140.43 160.83,141.80 160.91,146.11 161.00,143.55 161.08,144.64 161.17,150.65 161.26,145.33 161.34,146.01 161.43,146.83 161.51,150.98 161.60,147.19 161.68,146.49 161.77,146.34 161.86,150.59 161.94,145.21 162.03,151.43 162.11,148.52 162.20,143.85 162.28,150.56 162.37,150.24 162.46,145.35 162.54,150.32 162.63,150.28 162.71,148.83 162.80,146.35 162.88,156.98 162.97,152.91 163.05,153.71 163.14,154.17 163.23,153.61 163.31,153.75 163.40,150.19 163.48,154.28 163.57,151.12 163.65,150.37 163.74,154.25 163.83,151.56 163.91,146.73 164.00,151.21 164.08,154.51 164.17,152.74 164.25,155.68 164.34,151.86 164.43,150.01 164.51,155.67 164.60,153.75 164.68,149.45 164.77,154.87 164.85,152.67 164.94,156.75 165.03,156.13 165.11,155.17 165.20,146.44 165.28,154.88 165.37,155.31 165.45,155.44 165.54,154.17 165.63,151.51 165.71,153.03 165.80,146.96 165.88,152.95 165.97,148.92 166.05,152.71 166.14,151.61 166.23,158.24 166.31,153.92 166.40,153.69 166.48,154.20 166.57,160.33 166.65,150.43 166.74,154.47 166.83,154.55 166.91,153.87 167.00,153.69 167.08,151.54 167.17,156.86 167.25,155.64 167.34,151.58 167.43,151.92 167.51,153.47 167.60,153.97 167.68,154.66 167.77,152.01 167.85,147.88 167.94,154.90 168.03,146.46 168.11,148.46 168.20,152.43 168.28,148.29 168.37,155.27 168.45,155.91 168.54,154.29 168.63,151.27 168.71,150.78 168.80,151.16 168.88,148.98 168.97,155.79 169.05,147.25 169.14,153.02 169.22,150.38 169.31,149.33 169.40,151.39 169.48,151.78 169.57,150.35 169.65,146.96 169.74,144.80 169.82,144.58 169.91,149.11 170.00,148.17 170.08,148.24 170.17,143.70 170.25,151.01 170.34,140.63 170.42,145.57 170.51,146.13 170.60,142.36 170.68,139.90 170.77,141.64 170.85,139.13 170.94,141.54 171.02,137.87 171.11,137.45 171.20,141.09 171.28,136.11 171.37,139.52 171.45,139.35 171.54,141.92 171.62,139.64 171.71,136.08 171.80,141.79 171.88,135.62 171.97,136.07 172.05,135.84 172.14,142.58 172.22,136.06 172.31,133.44 172.40,137.04 172.48,134.14 172.57,140.20 172.65,131.55 172.74,134.86 172.82,130.05 172.91,137.21 173.00,129.60 173.08,131.71 173.17,128.31 173.25,132.62 173.34,131.26 173.42,122.99 173.51,130.81 173.60,129.95 173.68,128.26 173.77,129.76 173.85,123.24 173.94,121.29 174.02,127.28 174.11,129.46 174.20,121.21 174.28,120.84 174.37,121.07 174.45,119.65 174.54,124.39 174.62,122.01 174.71,124.60 174.80,124.11 174.88,117.37 174.97,121.04 175.05,113.15 175.14,117.99 175.22,119.21 175.31,115.02 175.39,111.94 175.48,114.64 175.57,118.28 175.65,113.76 175.74,110.72 175.82,114.69 175.91,114.77 175.99,109.85 176.08,111.36 176.17,113.73 176.25,111.40 176.34,111.67 176.42,108.58 176.51,108.41 176.59,105.38 176.68,105.80 176.77,110.43 176.85,105.28 176.94,103.56 177.02,103.95 177.11,102.04 177.19,104.97 177.28,105.24 177.37,100.44 177.45,104.22 177.54,105.98 177.62,98.39 177.71,101.56 177.79,100.03 177.88,101.73 177.97,100.93 178.05,99.93 178.14,97.61 178.22,95.45 178.31,100.16 178.39,93.41 178.48,96.76 178.57,95.87 178.65,91.69 178.74,92.59 178.82,94.98 178.91,87.35 178.99,92.35 179.08,89.40 179.17,88.87 179.25,85.66 179.34,89.01 179.42,85.23 179.51,88.39 179.59,83.71 179.68,87.20 179.77,85.70 179.85,80.07 179.94,82.95 180.02,82.79 180.11,77.45 180.19,80.98 180.28,83.04 180.37,78.88 180.45,82.67 180.54,76.72 180.62,75.91 180.71,79.45 180.79,78.98 180.88,76.47 180.97,76.25 181.05,78.02 181.14,73.72 181.22,79.41 181.31,74.94 181.39,74.27 181.48,73.37 181.57,71.35 181.65,74.56 181.74,69.47 181.82,70.80 181.91,71.40 181.99,72.64 182.08,71.61 182.16,67.12 182.25,69.93 182.34,66.74 182.42,63.60 182.51,63.10 182.59,61.15 182.68,65.44 182.76,66.96 182.85,60.87 182.94,62.19 183.02,59.48 183.11,61.90 183.19,58.19 183.28,58.59 183.36,58.40 183.45,58.45 183.54,58.21 183.62,58.14 183.71,57.64 183.79,55.02 183.88,58.66 183.96,51.93 184.05,56.54 184.14,53.00 184.22,55.51 184.31,55.47 184.39,48.55 184.48,54.69 184.56,56.98 184.65,54.91 184.74,53.32 184.82,45.76 184.91,50.90 184.99,48.35 185.08,53.51 185.16,49.14 185.25,47.77 185.34,44.03 185.42,50.91 185.51,46.67 185.59,47.14 185.68,50.65 185.76,47.27 185.85,47.60 185.94,52.98 186.02,44.24 186.11,44.02 186.19,46.58 186.28,48.92 186.36,40.04 186.45,43.34 186.54,40.70 186.62,39.14 186.71,44.68 186.79,40.26 186.88,43.15 186.96,42.27 187.05,42.02 187.14,41.44 187.22,37.67 187.31,40.42 187.39,40.98 187.48,41.07 187.56,38.85 187.65,42.42 187.74,40.92 187.82,39.24 187.91,40.59 187.99,38.92 188.08,40.22 188.16,31.72 188.25,33.60 188.33,36.14 188.42,37.50 188.51,30.15 188.59,35.86 188.68,36.95 188.76,35.50 188.85,35.29 188.93,31.57 189.02,35.95 189.11,28.98 189.19,38.36 189.28,33.13 189.36,38.42 189.45,29.20 189.53,35.96 189.62,34.94 189.71,31.63 189.79,30.43 189.88,37.95 189.96,35.36 190.05,38.64 190.13,33.58 190.22,34.26 190.31,34.97 190.39,35.97 190.48,34.93 190.56,36.02 190.65,31.82 190.73,28.56 190.82,39.70 190.91,33.76 190.99,34.70 191.08,31.71 191.16,36.38 191.25,33.74 191.33,36.64 191.42,30.99 191.51,32.93 191.59,33.78 191.68,32.07 191.76,34.10 191.85,38.37 191.93,31.42 192.02,32.46 192.11,33.94 192.19,30.30 192.28,29.60 192.36,37.17 192.45,36.23 192.53,28.76 192.62,29.27 192.71,36.35 192.79,37.88 192.88,36.22 192.96,35.88 193.05,39.51 193.13,34.42 193.22,38.78 193.31,38.69 193.39,31.99 193.48,37.28 193.56,35.48 193.65,33.39 193.73,32.98 193.82,36.84 193.91,35.80 193.99,38.77 194.08,30.75 194.16,34.46 194.25,40.25 194.33,36.94 194.42,34.91 194.51,35.88 194.59,31.85 194.68,33.54 194.76,39.82 194.85,38.65 194.93,42.65 195.02,38.11 195.10,38.69 195.19,32.56 195.28,39.41 195.36,46.52 195.45,42.39 195.53,40.25 195.62,44.79 195.70,43.89 195.79,42.65 195.88,40.80 195.96,42.68 196.05,45.23 196.13,40.44 196.22,44.84 196.30,45.06 196.39,48.09 196.48,46.64 196.56,42.66 196.65,49.87 196.73,45.59 196.82,43.60 196.90,47.27 196.99,45.82 197.08,50.25 197.16,43.45 197.25,44.49 197.33,47.46 197.42,53.74 197.50,52.06 197.59,46.57 197.68,44.87 197.76,49.43 197.85,47.12 197.93,52.94 198.02,52.18 198.10,52.09 198.19,51.34 198.28,57.37 198.36,50.81 198.45,50.22 198.53,57.68 198.62,58.73 198.70,54.43 198.79,57.73 198.88,62.51 198.96,54.65 199.05,56.97 199.13,59.21 199.22,52.62 199.30,58.55 199.39,61.50 199.48,59.69 199.56,63.30 199.65,63.07 199.73,60.52 199.82,63.57 199.90,63.83 199.99,58.76 200.08,61.46 200.16,62.17 200.25,63.45 200.33,64.12 200.42,62.17 200.50,66.56 200.59,62.31 200.68,70.07 200.76,68.86 200.85,72.27 200.93,70.23 201.02,68.64 201.10,66.90 201.19,72.75 201.27,71.68 201.36,73.17 201.45,74.68 201.53,76.37 201.62,73.92 201.70,78.84 201.79,75.00 201.87,75.81 201.96,78.03 202.05,79.46 202.13,80.94 202.22,73.91 202.30,82.02 202.39,75.91 202.47,78.75 202.56,81.58 202.65,84.00 202.73,79.62 202.82,78.71 202.90,85.31 202.99,84.51 203.07,82.14 203.16,84.35 203.25,81.34 203.33,87.58 203.42,85.79 203.50,90.28 203.59,83.74 203.67,90.40 203.76,94.13 203.85,90.37 203.93,91.03 204.02,87.40 204.10,92.70 204.19,92.66 204.27,92.05 204.36,90.65 204.45,94.65 204.53,93.00 204.62,94.71 204.70,97.03 204.79,96.88 204.87,97.61 204.96,100.25 205.05,96.33 205.13,102.54 205.22,97.64 205.30,98.73 205.39,101.64 205.47,103.75 205.56,103.19 205.65,102.25 205.73,102.26 205.82,103.90 205.90,102.92 205.99,107.06 206.07,105.86 206.16,110.63 206.25,105.86 206.33,107.89 206.42,109.83 206.50,106.73 206.59,108.43 206.67,115.91 206.76,111.18 206.85,115.38 206.93,109.90 207.02,107.73 207.10,114.94 207.19,114.08 207.27,115.47 207.36,114.57 207.45,114.42 207.53,113.39 207.62,119.67 207.70,113.80 207.79,120.71 207.87,118.21 207.96,116.52 208.04,118.22 208.13,123.04 208.22,123.00 208.30,122.94 208.39,122.43 208.47,119.83 208.56,126.80 208.64,122.70 208.73,122.86 208.82,123.53 208.90,124.31 208.99,122.00 209.07,125.30 209.16,124.81 209.24,126.13 209.33,123.27 209.42,133.91 209.50,125.67 209.59,130.43 209.67,130.99 209.76,133.41 209.84,136.42 209.93,132.76 210.02,134.11 210.10,131.26 210.19,137.30 210.27,129.53 210.36,133.29 210.44,135.24 210.53,137.03 210.62,137.71 210.70,139.16 210.79,137.92 210.87,136.76 210.96,137.73 211.04,141.79 211.13,138.85 211.22,141.12 211.30,138.44 211.39,133.80 211.47,137.87 211.56,141.06 211.64,145.37 211.73,145.15 211.82,146.36 211.90,139.49 211.99,144.36 212.07,142.23 212.16,144.67 212.24,142.87 212.33,139.23 212.42,145.94 212.50,145.23 212.59,147.00 212.67,142.17 212.76,148.34 212.84,149.00 212.93,150.11 213.02,150.49 213.10,144.96 213.19,139.88 213.27,150.11 213.36,144.33 213.44,146.79 213.53,151.30 213.62,148.99 213.70,149.11 213.79,150.81 213.87,142.79 213.96,155.15 214.04,148.16 214.13,148.54 214.21,151.66 214.30,149.56 214.39,147.45 214.47,149.97 214.56,149.32 214.64,148.63 214.73,157.53 214.81,146.48 214.90,144.34 214.99,148.41 215.07,148.46 215.16,156.40 215.24,152.40 215.33,154.78 215.41,154.19 215.50,149.31 215.59,155.15 215.67,153.09 215.76,158.95 215.84,153.40 215.93,152.69 216.01,155.35 216.10,155.49 216.19,147.12 216.27,157.23 216.36,156.78 216.44,156.05 216.53,149.58 216.61,146.69 216.70,152.48 216.79,155.92 216.87,155.01 216.96,150.17 217.04,156.61 217.13,148.93 217.21,149.04 217.30,153.41 217.39,151.52 217.47,151.17 217.56,148.53 217.64,156.96 217.73,149.66 217.81,154.67 217.90,155.89 217.99,153.00 218.07,153.96 218.16,156.40 218.24,158.29 218.33,156.08 218.41,148.23 218.50,146.49 218.59,150.62 218.67,148.78 218.76,154.16 218.84,152.61 218.93,151.32 219.01,155.58 219.10,155.13 219.19,151.48 219.27,152.67 219.36,154.88 219.44,150.06 219.53,151.97 219.61,147.68 219.70,150.77 219.79,151.51 219.87,149.94 219.96,150.69 220.04,152.05 220.13,150.98 220.21,147.10 220.30,147.20 220.38,144.94 220.47,154.09 220.56,149.74 220.64,149.55 220.73,147.45 220.81,149.13 220.90,149.04 220.98,144.71 221.07,146.31 221.16,150.20 221.24,142.14 221.33,142.88 221.41,147.43 221.50,142.78 221.58,147.28 221.67,141.24 221.76,145.02 221.84,146.47 221.93,144.81 222.01,145.65 222.10,142.38 222.18,142.07 222.27,142.13 222.36,143.54 222.44,148.10 222.53,140.83 222.61,146.39 222.70,139.60 222.78,136.56 222.87,138.71 222.96,140.27 223.04,139.23 223.13,138.67 223.21,139.47 223.30,139.14 223.38,139.69 223.47,133.11 223.56,136.16 223.64,132.91 223.73,135.94 223.81,134.56 223.90,134.79 223.98,132.52 224.07,131.02 224.16,132.21 224.24,134.31 224.33,134.12 224.41,126.80 224.50,131.73 224.58,131.27 224.67,125.90 224.76,126.45 224.84,127.48 224.93,129.53 225.01,121.91 225.10,126.33 225.18,125.40 225.27,126.81 225.36,129.62 225.44,128.86 225.53,123.67 225.61,123.17 225.70,124.30 225.78,126.21 225.87,126.35 225.96,122.87 226.04,125.25 226.13,118.57 226.21,117.37 226.30,114.13 226.38,116.96 226.47,120.14 226.56,120.26 226.64,123.02 226.73,118.39 226.81,116.76 226.90,113.33 226.98,113.64 227.07,113.11 227.15,113.44 227.24,111.76 227.33,109.27 227.41,114.75 227.50,112.68 227.58,114.29 227.67,106.53 227.75,106.70 227.84,107.39 227.93,111.35 228.01,107.53 228.10,107.87 228.18,106.52 228.27,106.52 228.35,104.29 228.44,105.75 228.53,102.32 228.61,103.08 228.70,103.65 228.78,102.62 228.87,102.72 228.95,99.34 229.04,101.09 229.13,99.23 229.21,100.09 229.30,101.79 229.38,96.06 229.47,99.59 229.55,95.30 229.64,95.22 229.73,98.90 229.81,96.78 229.90,95.26 229.98,95.25 230.07,95.36 230.15,90.79 230.24,92.18 230.33,90.25 230.41,91.33 230.50,89.15 230.58,90.76 230.67,88.59 230.75,86.66 230.84,87.18 230.93,87.65 231.01,88.40 231.10,85.03 231.18,84.02 231.27,84.73 231.35,85.25 231.44,81.69 231.53,77.32 231.61,82.36 231.70,80.28 231.78,79.57 231.87,84.90 231.95,78.92 232.04,80.24 232.13,74.74 232.21,77.98 232.30,78.61 232.38,76.69 232.47,75.16 232.55,76.31 232.64,74.49 232.73,77.06 232.81,73.72 232.90,70.67 232.98,67.13 233.07,69.65 233.15,70.14 233.24,67.27 233.32,67.09 233.41,64.87 233.50,65.75 233.58,68.22 233.67,66.69 233.75,66.33 233.84,65.44 233.92,65.14 234.01,67.14 234.10,70.06 234.18,65.76 234.27,68.80 234.35,62.72 234.44,62.35 234.52,66.30 234.61,59.44 234.70,58.42 234.78,59.97 234.87,55.18 234.95,54.09 235.04,61.97 235.12,55.31 235.21,56.43 235.30,55.99 235.38,54.05 235.47,58.15 235.55,57.31 235.64,57.48 235.72,56.81 235.81,54.48 235.90,57.84 235.98,56.23 236.07,51.14 236.15,52.52 236.24,50.76 236.32,56.86 236.41,53.23 236.50,52.13 236.58,49.98 236.67,51.35 236.75,46.48 236.84,48.96 236.92,48.32 237.01,47.91 237.10,45.44 237.18,48.53 237.27,43.39 237.35,44.97 237.44,45.49 237.52,45.44 237.61,43.62 237.70,41.75 237.78,41.58 237.87,42.94 237.95,41.06 238.04,43.01 238.12,39.20 238.21,42.76 238.30,48.71 238.38,37.90 238.47,41.35 238.55,44.98 238.64,41.67 238.72,43.49 238.81,33.92 238.90,38.60 238.98,44.75 239.07,37.87 239.15,40.54 239.24,33.02 239.32,42.06 239.41,45.41 239.50,38.03 239.58,39.09 239.67,39.07 239.75,44.29 239.84,35.93 239.92,31.75 240.01,42.91 240.09,32.90 240.18,38.24 240.27,29.21 240.35,34.64 240.44,36.45 240.52,32.13 240.61,33.81 240.69,37.23 240.78,32.88 240.87,36.65 240.95,40.62 241.04,28.18 241.12,35.71 241.21,36.42 241.29,33.24 241.38,39.26 241.47,38.49 241.55,35.62 241.64,35.59 241.72,33.59 241.81,30.10 241.89,35.20 241.98,31.99 242.07,31.57 242.15,36.99 242.24,32.68 242.32,36.44 242.41,29.88 242.49,31.83 242.58,33.23 242.67,37.62 242.75,32.88 242.84,35.74 242.92,30.96 243.01,33.65 243.09,35.92 243.18,30.29 243.27,30.98 243.35,35.29 243.44,29.63 243.52,34.42 243.61,34.51 243.69,33.17 243.78,36.08 243.87,35.14 243.95,34.31 244.04,28.93 244.12,29.12 244.21,34.92 244.29,28.98 244.38,34.44 244.47,33.19 244.55,31.70 244.64,33.74 244.72,27.74 244.81,34.18 244.89,38.97 244.98,31.09 245.07,36.76 245.15,36.59 245.24,42.83 245.32,32.78 245.41,33.56 245.49,33.82 245.58,33.45 245.67,31.40 245.75,37.14 245.84,34.24 245.92,39.80 246.01,38.80 246.09,34.58 246.18,36.93 246.26,42.61 246.35,37.54 246.44,39.52 246.52,41.78 246.61,38.13 246.69,41.03 246.78,44.95 246.86,43.81 246.95,35.17 247.04,45.65 247.12,40.59 247.21,39.71 247.29,39.95 247.38,46.00 247.46,43.56 247.55,42.49 247.64,40.82 247.72,45.57 247.81,47.50 247.89,41.30 247.98,41.36 248.06,43.96 248.15,47.28 248.24,44.61 248.32,45.89 248.41,44.12 248.49,50.73 248.58,47.07 248.66,48.30 248.75,51.51 248.84,48.03 248.92,48.98 249.01,50.71 249.09,48.79 249.18,54.50 249.26,50.98 249.35,50.03 249.44,50.91 249.52,49.10 249.61,56.08 249.69,57.41 249.78,52.90 249.86,52.77 249.95,48.56 250.04,53.29 250.12,57.95 250.21,53.75 250.29,58.84 250.38,61.11 250.46,51.42 250.55,57.11 250.64,56.56 250.72,57.49 250.81,54.62 250.89,59.30 250.98,57.32 251.06,63.89 251.15,65.39 251.24,58.40 251.32,58.83 251.41,61.94 251.49,63.24 251.58,63.95 251.66,66.73 251.75,61.50 251.84,64.35 251.92,65.32 252.01,66.22 252.09,65.08 252.18,67.04 252.26,67.01 252.35,72.42 252.44,68.78 252.52,65.18 252.61,72.51 252.69,72.13 252.78,70.21 252.86,70.65 252.95,72.07 253.03,78.10 253.12,73.57 253.21,78.22 253.29,77.95 253.38,75.29 253.46,77.89 253.55,75.90 253.63,73.27 253.72,77.22 253.81,77.97 253.89,82.31 253.98,82.34 254.06,83.90 254.15,83.31 254.23,85.18 254.32,84.82 254.41,84.43 254.49,86.80 254.58,88.33 254.66,88.82 254.75,85.48 254.83,86.96 254.92,85.52 255.01,86.12 255.09,89.70 255.18,88.19 255.26,93.26 255.35,86.28 255.43,89.02 255.52,92.57 255.61,95.14 255.69,92.61 255.78,97.84 255.86,96.25 255.95,93.73 256.03,95.75 256.12,97.57 256.21,95.17 256.29,100.00 256.38,97.82 256.46,100.12 256.55,101.51 256.63,99.30 256.72,103.10 256.81,97.38 256.89,103.48 256.98,98.39 257.06,105.87 257.15,102.69 257.23,107.38 257.32,108.34 257.41,105.54 257.49,104.97 257.58,110.08 257.66,105.00 257.75,110.23 257.83,108.67 257.92,108.69 258.01,108.78 258.09,115.08 258.18,107.52 258.26,110.65 258.35,113.63 258.43,115.68 258.52,117.93 258.61,117.72 258.69,113.63 258.78,116.41 258.86,118.96 258.95,118.05 259.03,113.37 259.12,118.72 259.20,119.94 259.29,115.59 259.38,118.42 259.46,120.05 259.55,122.30 259.63,125.32 259.72,124.90 259.80,123.66 259.89,123.53 259.98,122.56 260.06,122.59 260.15,124.00 260.23,124.54 260.32,128.37 260.40,132.00 260.49,128.13 260.58,129.84 260.66,129.54 260.75,129.03 260.83,132.21 260.92,132.36 261.00,130.08 261.09,129.99 261.18,132.63 261.26,129.90 261.35,132.40 261.43,135.14 261.52,132.63 261.60,127.88 261.69,135.62 261.78,130.83 261.86,130.68 261.95,130.78 262.03,137.91 262.12,130.15 262.20,136.09 262.29,137.61 262.38,137.97 262.46,135.97 262.55,138.01 262.63,139.10 262.72,135.20 262.80,141.54 262.89,142.90 262.98,137.84 263.06,138.50 263.15,137.71 263.23,144.59 263.32,138.50 263.40,140.67 263.49,137.16 263.58,146.64 263.66,142.55 263.75,144.41 263.83,148.77 263.92,146.44 264.00,141.13 264.09,146.36 264.18,147.47 264.26,142.88 264.35,142.82 264.43,143.12 264.52,148.94 264.60,146.96 264.69,143.86 264.78,149.40 264.86,149.98 264.95,145.31 265.03,143.26 265.12,152.05 265.20,155.61 265.29,153.51 265.37,152.37 265.46,149.84 265.55,147.69 265.63,150.33 265.72,152.30 265.80,149.80 265.89,153.56 265.97,150.84 266.06,152.93 266.15,144.03 266.23,148.63 266.32,154.10 266.40,154.79 266.49,153.16 266.57,157.19 266.66,154.40 266.75,154.57 266.83,149.48 266.92,153.83 267.00,155.13 267.09,157.02 267.17,156.61 267.26,153.12 267.35,153.70 267.43,149.41 267.52,155.21 267.60,149.81 267.69,152.48 267.77,153.39 267.86,159.96 267.95,157.68 268.03,151.12 268.12,149.02 268.20,152.92 268.29,151.14 268.37,154.96 268.46,154.85 268.55,155.81 268.63,150.48 268.72,152.52 268.80,154.38 268.89,154.67 268.97,151.76 269.06,152.48 269.15,156.19 269.23,147.87 269.32,152.55 269.40,153.29 269.49,148.46 269.57,149.86 269.66,153.38 269.75,151.27 269.83,156.38 269.92,154.88 270.00,159.81 270.09,148.65 270.17,158.59 270.26,150.14 270.35,154.88 270.43,155.22 270.52,152.55 270.60,150.91 270.69,149.64 270.77,145.76 270.86,150.12 270.95,148.27 271.03,152.82 271.12,148.43 271.20,150.03 271.29,151.78 271.37,150.40 271.46,150.08 271.55,149.05 271.63,148.16 271.72,150.80 271.80,151.29 271.89,146.35 271.97,153.79 272.06,150.14 272.14,143.06 272.23,154.54 272.32,149.55 272.40,144.95 272.49,151.95 272.57,139.68 272.66,153.03 272.74,141.46 272.83,140.79 272.92,142.45 273.00,145.63 273.09,143.53 273.17,147.04 273.26,141.48 273.34,147.02 273.43,144.08 273.52,139.87 273.60,145.90 273.69,143.26 273.77,141.30 273.86,145.44 273.94,137.54 274.03,139.62 274.12,144.76 274.20,139.99 274.29,141.74 274.37,140.98 274.46,138.39 274.54,140.28 274.63,134.95 274.72,139.40 274.80,134.05 274.89,136.60 274.97,133.55 275.06,137.14 275.14,136.58 275.23,137.97 275.32,132.56 275.40,131.07 275.49,127.26 275.57,129.15 275.66,131.61 275.74,132.43 275.83,130.26 275.92,130.93 276.00,126.29 276.09,127.24 276.17,131.66 276.26,130.73 276.34,124.59 276.43,126.98 276.52,127.93 276.60,123.56 276.69,127.29 276.77,126.47 276.86,126.42 276.94,129.87 277.03,121.81 277.12,126.75 277.20,124.51 277.29,124.41 277.37,120.01 277.46,121.53 277.54,120.75 277.63,124.55 277.72,119.88 277.80,122.86 277.89,117.74 277.97,117.02 278.06,117.41 278.14,111.67 278.23,114.89 278.31,114.14 278.40,114.68 278.49,114.91 278.57,111.49 278.66,110.57 278.74,115.81 278.83,109.52 278.91,110.23 279.00,108.56 279.09,109.14 279.17,112.58 279.26,111.79 279.34,104.17 279.43,107.23 279.51,110.48 279.60,105.79 279.69,106.80 279.77,109.54 279.86,109.71 279.94,107.72 280.03,102.89 280.11,102.98 280.20,102.80 280.29,101.00 280.37,99.68 280.46,104.94 280.54,100.39 280.63,100.89 280.71,101.12 280.80,99.02 280.89,97.49 280.97,97.16 281.06,99.00 281.14,96.34 281.23,90.56 281.31,96.24 281.40,96.88" fill="none" stroke="#d95319" stroke-width="0.8" stroke-linejoin="round" />
<polyline points="24.40,93.33 24.54,92.28 24.69,92.66 24.83,97.63 24.97,90.90 25.11,96.50 25.26,97.57 25.40,95.87 25.54,94.25 25.69,91.61 25.83,91.86 25.97,93.87 26.11,90.81 26.26,93.47 26.40,90.86 26.54,98.09 26.69,98.59 26.83,91.13 26.97,97.94 27.11,94.46 27.26,93.78 27.40,94.98 27.54,94.83 27.69,88.96 27.83,99.96 27.97,90.50 28.11,86.62 28.26,93.14 28.40,93.24 28.54,90.85 28.69,87.33 28.83,96.83 28.97,92.76 29.11,93.59 29.26,91.20 29.40,92.43 29.54,90.81 29.69,94.20 29.83,92.67 29.97,94.91 30.11,94.86 30.26,93.17 30.40,93.14 30.54,96.36 30.69,87.66 30.83,93.02 30.97,96.93 31.11,89.04 31.26,94.85 31.40,90.85 31.54,92.47 31.69,91.60 31.83,91.81 31.97,94.14 32.11,92.16 32.26,85.83 32.40,98.86 32.54,91.98 32.69,90.78 32.83,95.45 32.97,96.43 33.11,85.43 33.26,93.21 33.40,85.43 33.54,90.28 33.69,91.70 33.83,90.40 33.97,89.87 34.11,88.12 34.26,90.44 34.40,91.33 34.54,91.20 34.69,87.45 34.83,89.11 34.97,94.83 35.11,93.64 35.26,90.56 35.40,93.55 35.54,92.74 35.69,94.54 35.83,92.32 35.97,90.13 36.11,88.29 36.26,91.38 36.40,84.82 36.54,91.60 36.69,84.69 36.83,88.13 36.97,89.70 37.11,92.82 37.26,97.86 37.40,91.69 37.54,90.61 37.69,85.07 37.83,95.48 37.97,85.07 38.11,91.86 38.26,88.76 38.40,97.66 38.54,90.56 38.69,92.06 38.83,88.79 38.97,90.64 39.11,94.51 39.26,87.89 39.40,88.66 39.54,88.95 39.69,87.63 39.83,87.31 39.97,90.84 40.11,95.04 40.26,95.11 40.40,86.44 40.54,88.44 40.69,90.34 40.83,92.02 40.97,90.53 41.11,90.53 41.26,91.65 41.40,92.78 41.54,83.91 41.69,89.81 41.83,92.43 41.97,94.61 42.11,92.77 42.26,88.19 42.40,88.05 42.54,91.12 42.69,90.25 42.83,91.36 42.97,93.88 43.11,86.25 43.26,89.17 43.40,83.70 43.54,92.71 43.69,90.74 43.83,87.50 43.97,91.06 44.11,94.65 44.26,93.25 44.40,89.92 44.54,89.14 44.69,90.52 44.83,87.03 44.97,87.06 45.11,89.16 45.26,90.09 45.40,90.96 45.54,88.41 45.69,87.23 45.83,89.94 45.97,88.70 46.11,91.14 46.26,94.57 46.40,93.26 46.54,87.67 46.69,88.67 46.83,85.05 46.97,89.89 47.11,87.33 47.26,85.87 47.40,86.90 47.54,91.96 47.69,90.62 47.83,89.62 47.97,93.14 48.11,88.52 48.26,86.78 48.40,91.53 48.54,83.77 48.69,90.92 48.83,90.64 48.97,90.75 49.11,92.23 49.26,88.67 49.40,89.93 49.54,84.74 49.69,88.07 49.83,88.29 49.97,90.69 50.11,92.51 50.26,88.37 50.40,90.82 50.54,85.17 50.69,88.33 50.83,83.01 50.97,86.00 51.11,85.74 51.26,87.70 51.40,87.81 51.54,86.46 51.69,85.65 51.83,90.86 51.97,87.11 52.11,82.08 52.26,89.05 52.40,89.62 52.54,91.05 52.69,93.49 52.83,85.20 52.97,88.81 53.11,88.11 53.26,83.27 53.40,82.52 53.54,92.01 53.69,85.92 53.83,87.33 53.97,88.08 54.11,87.88 54.26,89.51 54.40,84.46 54.54,87.59 54.69,88.49 54.83,85.69 54.97,86.85 55.11,88.27 55.26,88.74 55.40,84.27 55.54,88.26 55.69,90.20 55.83,92.68 55.97,91.10 56.11,93.38 56.26,89.77 56.40,89.35 56.54,96.69 56.69,90.20 56.83,88.26 56.97,89.83 57.11,93.42 57.26,86.44 57.40,92.70 57.54,94.43 57.69,94.02 57.83,90.69 57.97,87.59 58.11,87.06 58.26,90.13 58.40,94.62 58.54,92.97 58.69,93.78 58.83,91.55 58.97,96.65 59.11,90.74 59.26,89.10 59.40,91.66 59.54,89.78 59.69,94.25 59.83,95.93 59.97,93.39 60.11,87.77 60.26,88.22 60.40,92.97 60.54,87.77 60.69,92.65 60.83,86.90 60.97,90.20 61.11,93.20 61.26,89.31 61.40,94.32 61.54,94.87 61.69,96.55 61.83,91.20 61.97,92.23 62.11,92.36 62.26,93.46 62.40,87.67 62.54,93.60 62.69,94.59 62.83,88.42 62.97,87.91 63.11,91.38 63.26,98.00 63.40,94.44 63.54,90.66 63.69,92.59 63.83,87.78 63.97,97.06 64.11,90.65 64.26,94.82 64.40,88.71 64.54,93.17 64.69,89.73 64.83,95.08 64.97,97.54 65.11,96.64 65.26,95.10 65.40,96.47 65.54,89.48 65.69,89.09 65.83,92.51 65.97,96.69 66.11,93.85 66.26,95.69 66.40,88.97 66.54,92.62 66.69,92.12 66.83,94.98 66.97,100.12 67.11,96.25 67.26,97.39 67.40,92.74 67.54,93.65 67.69,96.54 67.83,95.28 67.97,89.15 68.11,97.18 68.26,97.10 68.40,94.97 68.54,96.51 68.69,95.70 68.83,92.71 68.97,88.97 69.11,100.11 69.26,94.60 69.40,94.46 69.54,94.90 69.69,95.28 69.83,95.81 69.97,91.61 70.11,96.30 70.26,95.28 70.40,94.93 70.54,94.64 70.69,95.56 70.83,91.91 70.97,95.15 71.11,94.62 71.26,95.38 71.40,98.44 71.54,97.94 71.69,98.68 71.83,94.80 71.97,97.72 72.11,98.86 72.26,94.81 72.40,93.95 72.54,101.22 72.69,90.36 72.83,95.65 72.97,96.13 73.11,92.48 73.26,95.68 73.40,97.85 73.54,89.36 73.69,99.44 73.83,96.40 73.97,93.46 74.11,99.57 74.26,96.56 74.40,95.06 74.54,89.70 74.69,99.20 74.83,96.58 74.97,94.40 75.11,96.27 75.26,100.38 75.40,95.34 75.54,96.33 75.69,95.31 75.83,90.62 75.97,90.96 76.11,92.83 76.26,93.10 76.40,97.52 76.54,94.44 76.69,93.28 76.83,95.21 76.97,93.59 77.11,96.47 77.26,88.98 77.40,87.15 77.54,94.99 77.69,92.45 77.83,94.42 77.97,89.65 78.11,92.23 78.26,93.33 78.40,94.24 78.54,93.10 78.69,96.62 78.83,91.29 78.97,95.65 79.11,91.66 79.26,92.91 79.40,89.82 79.54,93.30 79.69,89.98 79.83,96.09 79.97,91.21 80.11,93.81 80.26,92.45 80.40,92.81 80.54,90.04 80.69,99.35 80.83,91.91 80.97,97.62 81.11,89.04 81.26,99.06 81.40,95.96 81.54,98.04 81.69,87.54 81.83,96.76 81.97,92.29 82.11,94.31 82.26,98.27 82.40,93.61 82.54,90.42 82.69,93.06 82.83,89.47 82.97,93.56 83.11,92.36 83.26,93.56 83.40,91.23 83.54,86.28 83.69,91.10 83.83,91.60 83.97,94.14 84.11,94.54 84.26,87.49 84.40,95.60 84.54,94.94 84.69,92.33 84.83,93.34 84.97,85.78 85.11,98.57 85.26,90.76 85.40,89.62 85.54,95.38 85.69,93.85 85.83,90.41 85.97,86.60 86.11,94.63 86.26,96.68 86.40,88.59 86.54,86.81 86.69,92.66 86.83,98.21 86.97,86.95 87.11,92.14 87.26,87.93 87.40,91.60 87.54,92.62 87.69,92.83 87.83,86.72 87.97,86.82 88.11,97.96 88.26,94.25 88.40,85.65 88.54,92.40 88.69,95.52 88.83,91.18 88.97,91.51 89.11,91.45 89.26,92.63 89.40,92.07 89.54,92.51 89.69,89.98 89.83,93.58 89.97,91.91 90.11,91.42 90.26,86.82 90.40,89.74 90.54,91.25 90.69,89.18 90.83,89.57 90.97,87.39 91.11,89.21 91.26,85.12 91.40,86.52 91.54,90.87 91.69,92.03 91.83,87.91 91.97,89.05 92.11,90.96 92.26,95.31 92.40,96.41 92.54,89.50 92.69,88.15 92.83,88.03 92.97,94.62 93.11,87.25 93.26,92.20 93.40,89.27 93.54,89.16 93.69,93.00 93.83,92.31 93.97,96.98 94.11,93.31 94.26,96.09 94.40,89.00 94.54,90.17 94.69,87.46 94.83,89.21 94.97,92.33 95.11,89.21 95.26,91.53 95.40,88.35 95.54,89.27 95.69,93.38 95.83,90.23 95.97,90.05 96.11,91.19 96.26,87.37 96.40,84.78 96.54,91.34 96.69,91.28 96.83,96.80 96.97,90.56 97.11,91.52 97.26,96.77 97.40,89.21 97.54,88.24 97.69,92.42 97.83,91.27 97.97,93.14 98.11,87.67 98.26,94.87 98.40,91.05 98.54,83.89 98.69,89.89 98.83,88.57 98.97,90.50 99.11,93.74 99.26,90.13 99.40,88.74 99.54,93.25 99.69,88.93 99.83,86.08 99.97,86.63 100.11,95.01 100.26,93.08 100.40,95.10 100.54,86.61 100.69,88.06 100.83,87.77 100.97,92.77 101.11,93.68 101.26,89.75 101.40,89.67 101.54,90.75 101.69,87.65 101.83,86.11 101.97,87.47 102.11,91.53 102.26,94.93 102.40,89.16 102.54,87.87 102.69,89.26 102.83,89.84 102.97,90.72 103.11,86.32 103.26,88.79 103.40,88.29 103.54,91.80 103.69,90.74 103.83,88.31 103.97,92.05 104.11,92.90 104.26,90.01 104.40,85.22 104.54,88.46 104.69,84.50 104.83,89.58 104.97,90.19 105.11,93.66 105.26,91.13 105.40,84.82 105.54,88.37 105.69,87.14 105.83,87.27 105.97,89.58 106.11,90.25 106.26,89.27 106.40,87.57 106.54,88.30 106.69,88.24 106.83,89.35 106.97,92.32 107.11,90.77 107.26,92.96 107.40,86.86 107.54,96.72 107.69,90.82 107.83,83.54 107.97,91.31 108.11,93.87 108.26,90.38 108.40,86.30 108.54,90.93 108.69,88.53 108.83,90.21 108.97,91.75 109.11,83.98 109.26,90.44 109.40,92.41 109.54,92.31 109.69,89.61 109.83,89.57 109.97,88.47 110.11,90.51 110.26,95.53 110.40,89.37 110.54,92.08 110.69,92.06 110.83,95.89 110.97,93.06 111.11,93.59 111.26,91.46 111.40,95.99 111.54,91.28 111.69,91.10 111.83,95.08 111.97,93.56 112.11,94.35 112.26,88.82 112.40,98.37 112.54,92.87 112.69,97.08 112.83,93.24 112.97,89.25 113.11,93.97 113.26,91.59 113.40,94.74 113.54,85.99 113.69,89.28 113.83,88.66 113.97,96.47 114.11,95.80 114.26,88.95 114.40,93.03 114.54,93.28 114.69,91.46 114.83,96.53 114.97,90.16 115.11,92.60 115.26,91.19 115.40,94.87 115.54,91.18 115.69,95.08 115.83,89.88 115.97,89.38 116.11,90.11 116.26,91.41 116.40,91.09 116.54,99.78 116.69,90.55 116.83,94.10 116.97,92.99 117.11,94.23 117.26,97.78 117.40,95.13 117.54,91.40 117.69,89.05 117.83,95.55 117.97,96.48 118.11,89.09 118.26,96.51 118.40,87.22 118.54,93.66 118.69,96.66 118.83,90.81 118.97,88.61 119.11,98.55 119.26,89.14 119.40,95.00 119.54,89.46 119.69,95.41 119.83,99.24 119.97,92.72 120.11,91.43 120.26,87.78 120.40,89.00 120.54,92.30 120.69,95.30 120.83,96.24 120.97,95.58 121.11,97.32 121.26,95.61 121.40,101.43 121.54,94.27 121.69,94.98 121.83,88.30 121.97,92.59 122.11,96.55 122.26,93.30 122.40,99.00 122.54,97.08 122.69,101.13 122.83,90.74 122.97,93.45 123.11,99.09 123.26,95.61 123.40,92.47 123.54,93.95 123.69,94.36 123.83,98.33 123.97,97.68 124.11,95.41 124.26,92.85 124.40,98.43 124.54,99.40 124.69,92.29 124.83,98.90 124.97,92.60 125.11,95.28 125.26,93.32 125.40,90.64 125.54,94.02 125.69,93.79 125.83,99.20 125.97,98.54 126.11,94.36 126.26,91.59 126.40,92.09 126.54,89.90 126.69,95.60 126.83,95.99 126.97,93.50 127.11,96.67 127.26,94.39 127.40,97.46 127.54,90.98 127.69,97.47 127.83,92.42 127.97,98.49 128.11,90.50 128.26,97.18 128.40,91.23 128.54,98.88 128.69,95.21 128.83,90.06 128.97,96.29 129.11,93.50 129.26,95.19 129.40,100.27 129.54,92.63 129.69,92.20 129.83,97.03 129.97,91.68 130.11,95.97 130.26,96.59 130.40,93.36 130.54,95.50 130.69,86.67 130.83,98.19 130.97,90.91 131.11,90.08 131.26,99.42 131.40,98.61 131.54,91.32 131.69,94.58 131.83,91.81 131.97,89.39 132.11,94.13 132.26,96.28 132.40,99.52 132.54,92.20 132.69,95.75 132.83,91.79 132.97,92.01 133.11,97.09 133.26,87.23 133.40,89.22 133.54,89.93 133.69,96.32 133.83,93.83 133.97,94.24 134.11,93.79 134.26,95.99 134.40,91.03 134.54,91.65 134.69,91.19 134.83,93.91 134.97,88.20 135.11,91.65 135.26,98.85 135.40,94.20 135.54,92.33 135.69,89.06 135.83,93.03 135.97,92.84 136.11,94.11 136.26,89.88 136.40,93.37 136.54,93.83 136.69,94.24 136.83,90.10 136.97,93.52 137.11,97.10 137.26,89.80 137.40,93.96 137.54,90.58 137.69,90.50 137.83,87.85 137.97,88.32 138.11,93.41 138.26,92.09 138.40,95.62 138.54,86.21 138.69,90.09 138.83,87.05 138.97,92.43 139.11,97.87 139.26,86.53 139.40,91.05 139.54,90.90 139.69,91.11 139.83,89.23 139.97,89.55 140.11,96.24 140.26,87.75 140.40,92.83 140.54,92.61 140.69,85.65 140.83,88.17 140.97,92.13 141.11,96.90 141.26,90.50 141.40,89.28 141.54,91.22 141.69,94.88 141.83,93.42 141.97,94.86 142.11,90.19 142.26,88.26 142.40,87.59 142.54,93.12 142.69,90.04 142.83,89.01 142.97,92.36 143.11,91.19 143.26,84.06 143.40,90.03 143.54,87.87 143.69,92.01 143.83,90.49 143.97,96.02 144.11,90.66 144.26,86.79 144.40,83.91 144.54,86.74 144.69,88.34 144.83,90.32 144.97,92.37 145.11,90.96 145.26,88.50 145.40,92.90 145.54,87.46 145.69,93.50 145.83,96.00 145.97,93.56 146.11,95.61 146.26,94.67 146.40,86.74 146.54,90.94 146.69,89.60 146.83,86.62 146.97,86.28 147.11,91.84 147.26,86.04 147.40,89.01 147.54,90.20 147.69,88.80 147.83,94.70 147.97,92.66 148.11,90.51 148.26,88.23 148.40,91.32 148.54,90.54 148.69,87.06 148.83,85.66 148.97,87.68 149.11,86.09 149.26,91.37 149.40,91.05 149.54,89.07 149.69,91.02 149.83,91.67 149.97,84.83 150.11,90.69 150.26,93.10 150.40,88.50 150.54,84.23 150.69,89.77 150.83,86.13 150.97,91.40 151.11,91.57 151.26,92.19 151.40,90.46 151.54,84.20 151.69,93.65 151.83,84.82 151.97,93.18 152.11,90.73 152.26,87.35 152.40,88.00 152.54,89.10 152.69,95.20 152.83,88.84 152.97,91.29 153.11,81.47 153.26,88.83 153.40,87.61 153.54,91.87 153.69,89.81 153.83,92.43 153.97,85.29 154.11,89.27 154.26,86.71 154.40,90.71 154.54,90.17 154.69,84.57 154.83,91.76 154.97,94.43 155.11,87.50 155.26,92.44 155.40,90.27 155.54,86.05 155.69,91.57 155.83,86.25 155.97,91.23 156.11,84.41 156.26,84.98 156.40,90.71 156.54,89.94 156.69,91.95 156.83,88.73 156.97,85.78 157.11,94.04 157.26,86.61 157.40,93.74 157.54,92.33 157.69,95.31 157.83,83.07 157.97,89.57 158.11,89.03 158.26,91.99 158.40,86.53 158.54,96.59 158.69,89.91 158.83,83.41 158.97,91.30 159.11,90.09 159.26,88.07 159.40,92.80 159.54,90.22 159.69,87.30 159.83,89.77 159.97,89.26 160.11,91.59 160.26,89.53 160.40,90.40 160.54,86.03 160.69,88.39 160.83,91.50 160.97,97.41 161.11,88.56 161.26,88.48 161.40,93.82 161.54,97.28 161.69,94.62 161.83,88.14 161.97,94.48 162.11,92.61 162.26,90.51 162.40,87.39 162.54,91.36 162.69,91.67 162.83,93.14 162.97,86.30 163.11,88.13 163.26,91.85 163.40,96.01 163.54,94.14 163.69,89.86 163.83,94.02 163.97,88.97 164.11,90.70 164.26,90.96 164.40,89.87 164.54,90.41 164.69,94.74 164.83,93.11 164.97,85.50 165.11,96.00 165.26,93.73 165.40,88.91 165.54,92.83 165.69,94.94 165.83,96.61 165.97,90.78 166.11,89.30 166.26,88.14 166.40,92.45 166.54,89.36 166.69,95.98 166.83,92.23 166.97,94.95 167.11,92.31 167.26,90.54 167.40,89.58 167.54,96.13 167.69,89.05 167.83,94.60 167.97,96.39 168.11,93.74 168.26,97.87 168.40,93.28 168.54,92.43 168.69,94.03 168.83,91.75 168.97,94.49 169.11,93.53 169.26,98.14 169.40,93.50 169.54,96.37 169.69,95.15 169.83,94.08 169.97,93.23 170.11,99.08 170.26,98.87 170.40,94.93 170.54,92.53 170.69,92.93 170.83,91.30 170.97,90.06 171.11,92.65 171.26,94.33 171.40,97.58 171.54,97.35 171.69,95.89 171.83,93.62 171.97,93.81 172.11,94.54 172.26,95.09 172.40,92.66 172.54,94.05 172.69,93.81 172.83,93.83 172.97,96.58 173.11,98.16 173.26,93.39 173.40,93.68 173.54,95.74 173.69,96.41 173.83,88.50 173.97,97.59 174.11,95.92 174.26,94.45 174.40,98.98 174.54,95.01 174.69,89.75 174.83,92.53 174.97,93.53 175.11,93.70 175.26,95.27 175.40,92.65 175.54,96.22 175.69,97.11 175.83,95.50 175.97,93.01 176.11,94.87 176.26,93.83 176.40,102.41 176.54,92.29 176.69,89.47 176.83,91.94 176.97,97.21 177.11,98.94 177.26,95.43 177.40,99.47 177.54,94.11 177.69,98.11 177.83,93.46 177.97,92.24 178.11,103.02 178.26,95.72 178.40,98.90 178.54,101.20 178.69,96.13 178.83,94.84 178.97,90.84 179.11,98.88 179.26,90.71 179.40,87.62 179.54,92.07 179.69,92.20 179.83,93.93 179.97,97.56 180.11,92.12 180.26,92.56 180.40,91.43 180.54,87.07 180.69,91.37 180.83,92.28 180.97,88.66 181.11,97.81 181.26,97.13 181.40,94.67 181.54,95.52 181.69,91.22 181.83,94.38 181.97,87.84 182.11,88.50 182.26,90.83 182.40,94.45 182.54,91.25 182.69,90.60 182.83,96.50 182.97,91.99 183.11,90.82 183.26,92.33 183.40,88.02 183.54,89.11 183.69,95.52 183.83,92.49 183.97,95.48 184.11,90.98 184.26,95.51 184.40,89.82 184.54,91.48 184.69,89.60 184.83,93.10 184.97,97.21 185.11,86.99 185.26,93.08 185.40,88.15 185.54,91.11 185.69,90.30 185.83,86.62 185.97,91.29 186.11,87.91 186.26,96.99 186.40,89.52 186.54,93.00 186.69,92.63 186.83,92.14 186.97,91.04 187.11,86.87 187.26,97.93 187.40,91.90 187.54,94.28 187.69,88.30 187.83,93.29 187.97,90.47 188.11,93.14 188.26,89.75 188.40,88.62 188.54,93.05 188.69,91.61 188.83,96.23 188.97,90.74 189.11,88.97 189.26,93.40 189.40,88.08 189.54,98.14 189.69,97.41 189.83,95.92 189.97,93.04 190.11,91.42 190.26,91.70 190.40,91.63 190.54,89.11 190.69,92.86 190.83,95.33 190.97,95.24 191.11,84.65 191.26,97.90 191.40,91.79 191.54,86.60 191.69,89.65 191.83,93.78 191.97,91.12 192.11,88.37 192.26,87.26 192.40,93.90 192.54,88.63 192.69,90.21 192.83,87.49 192.97,86.56 193.11,92.02 193.26,95.49 193.40,89.64 193.54,85.25 193.69,88.68 193.83,90.10 193.97,84.16 194.11,94.07 194.26,87.90 194.40,92.54 194.54,90.56 194.69,90.41 194.83,85.89 194.97,93.61 195.11,92.33 195.26,95.65 195.40,89.06 195.54,92.03 195.69,89.23 195.83,93.93 195.97,91.66 196.11,87.22 196.26,91.04 196.40,88.49 196.54,88.78 196.69,91.55 196.83,95.35 196.97,87.29 197.11,89.85 197.26,87.27 197.40,96.72 197.54,95.57 197.69,96.97 197.83,93.09 197.97,87.01 198.11,88.50 198.26,90.38 198.40,89.84 198.54,87.84 198.69,91.19 198.83,88.97 198.97,89.77 199.11,96.84 199.26,91.40 199.40,85.88 199.54,91.42 199.69,90.61 199.83,92.06 199.97,91.67 200.11,86.57 200.26,90.96 200.40,93.34 200.54,96.74 200.69,91.90 200.83,96.30 200.97,95.84 201.11,87.55 201.26,87.82 201.40,96.11 201.54,87.36 201.69,88.59 201.83,92.51 201.97,87.71 202.11,95.17 202.26,93.83 202.40,94.57 202.54,93.53 202.69,87.23 202.83,94.22 202.97,93.64 203.11,93.01 203.26,89.38 203.40,91.07 203.54,87.27 203.69,92.24 203.83,94.07 203.97,91.58 204.11,89.88 204.26,92.94 204.40,87.20 204.54,82.39 204.69,90.02 204.83,88.10 204.97,84.01 205.11,90.39 205.26,91.07 205.40,91.90 205.54,87.24 205.69,86.92 205.83,89.07 205.97,88.52 206.11,84.68 206.26,86.01 206.40,93.23 206.54,88.89 206.69,88.58 206.83,86.68 206.97,89.72 207.11,91.10 207.26,90.56 207.40,94.79 207.54,89.30 207.69,91.15 207.83,87.85 207.97,92.61 208.11,90.80 208.26,92.57 208.40,92.89 208.54,87.36 208.69,91.10 208.83,88.27 208.97,93.27 209.11,89.47 209.26,95.17 209.40,91.39 209.54,91.52 209.69,88.14 209.83,89.47 209.97,90.64 210.11,87.49 210.26,89.58 210.40,88.54 210.54,87.86 210.69,90.55 210.83,91.31 210.97,89.40 211.11,91.80 211.26,89.31 211.40,87.08 211.54,87.93 211.69,91.89 211.83,94.79 211.97,90.96 212.11,91.23 212.26,87.39 212.40,92.14 212.54,91.64 212.69,88.71 212.83,92.58 212.97,91.63 213.11,85.77 213.26,86.52 213.40,89.28 213.54,90.47 213.69,94.43 213.83,89.66 213.97,91.28 214.11,90.82 214.26,93.20 214.40,91.65 214.54,92.24 214.69,90.71 214.83,87.25 214.97,90.67 215.11,97.08 215.26,94.96 215.40,96.95 215.54,94.50 215.69,90.29 215.83,90.83 215.97,94.04 216.11,91.35 216.26,94.63 216.40,96.77 216.54,96.78 216.69,95.10 216.83,87.96 216.97,96.72 217.11,88.62 217.26,88.40 217.40,93.21 217.54,92.84 217.69,94.67 217.83,92.86 217.97,90.76 218.11,92.85 218.26,89.79 218.40,89.24 218.54,91.95 218.69,92.05 218.83,93.32 218.97,92.08 219.11,96.74 219.26,92.00 219.40,92.68 219.54,96.09 219.69,86.63 219.83,96.54 219.97,96.26 220.11,92.69 220.26,99.73 220.40,96.16 220.54,98.52 220.69,96.81 220.83,94.23 220.97,92.85 221.11,90.43 221.26,91.42 221.40,90.27 221.54,92.20 221.69,95.58 221.83,90.64 221.97,95.74 222.11,96.19 222.26,89.48 222.40,91.86 222.54,93.71 222.69,92.07 222.83,91.72 222.97,98.85 223.11,94.89 223.26,98.37 223.40,94.31 223.54,96.86 223.69,90.50 223.83,93.20 223.97,97.45 224.11,94.99 224.26,98.81 224.40,94.91 224.54,93.36 224.69,94.30 224.83,101.27 224.97,96.29 225.11,93.67 225.26,94.36 225.40,91.72 225.54,99.48 225.69,93.82 225.83,97.58 225.97,94.96 226.11,94.34 226.26,93.50 226.40,97.54 226.54,95.18 226.69,99.51 226.83,100.32 226.97,94.16 227.11,96.13 227.26,101.12 227.40,98.74 227.54,96.05 227.69,91.24 227.83,92.91 227.97,93.73 228.11,101.94 228.26,96.66 228.40,94.89 228.54,95.21 228.69,95.18 228.83,97.28 228.97,91.04 229.11,91.98 229.26,96.99 229.40,99.84 229.54,90.30 229.69,98.58 229.83,93.11 229.97,90.90 230.11,97.34 230.26,93.40 230.40,95.38 230.54,92.62 230.69,93.20 230.83,88.03 230.97,92.27 231.11,94.13 231.26,90.51 231.40,94.89 231.54,95.14 231.69,87.13 231.83,96.51 231.97,95.43 232.11,93.71 232.26,97.15 232.40,100.22 232.54,90.40 232.69,96.18 232.83,95.37 232.97,94.80 233.11,96.69 233.26,96.95 233.40,93.01 233.54,86.66 233.69,91.12 233.83,91.05 233.97,98.13 234.11,93.42 234.26,97.04 234.40,90.83 234.54,93.95 234.69,93.08 234.83,93.44 234.97,94.97 235.11,97.90 235.26,91.23 235.40,97.39 235.54,96.72 235.69,93.89 235.83,95.15 235.97,92.06 236.11,89.66 236.26,92.03 236.40,92.16 236.54,92.67 236.69,90.00 236.83,98.51 236.97,91.49 237.11,95.56 237.26,96.48 237.40,92.53 237.54,93.74 237.69,90.64 237.83,88.97 237.97,98.87 238.11,92.61 238.26,86.16 238.40,89.58 238.54,87.72 238.69,91.93 238.83,96.76 238.97,95.75 239.11,89.91 239.26,89.10 239.40,94.41 239.54,92.92 239.69,91.21 239.83,97.54 239.97,93.08 240.11,86.83 240.26,85.09 240.40,92.23 240.54,86.07 240.69,93.49 240.83,94.36 240.97,98.22 241.11,88.72 241.26,92.89 241.40,84.86 241.54,90.61 241.69,91.03 241.83,97.31 241.97,86.83 242.11,92.69 242.26,92.03 242.40,97.94 242.54,88.53 242.69,88.31 242.83,93.32 242.97,91.09 243.11,90.12 243.26,88.29 243.40,90.97 243.54,85.83 243.69,92.02 243.83,93.15 243.97,92.68 244.11,97.64 244.26,93.71 244.40,87.95 244.54,90.27 244.69,93.67 244.83,89.96 244.97,97.42 245.11,91.91 245.26,89.33 245.40,88.76 245.54,93.40 245.69,88.04 245.83,85.00 245.97,92.23 246.11,88.52 246.26,95.76 246.40,97.02 246.54,88.87 246.69,90.65 246.83,90.13 246.97,92.59 247.11,91.65 247.26,88.14 247.40,85.25 247.54,91.35 247.69,95.87 247.83,86.60 247.97,88.71 248.11,88.44 248.26,90.00 248.40,83.76 248.54,90.31 248.69,88.91 248.83,96.38 248.97,92.33 249.11,92.66 249.26,90.57 249.40,89.36 249.54,92.82 249.69,84.96 249.83,93.79 249.97,91.83 250.11,89.64 250.26,94.34 250.40,88.57 250.54,88.36 250.69,91.27 250.83,84.30 250.97,90.07 251.11,89.43 251.26,93.34 251.40,95.59 251.54,92.28 251.69,91.29 251.83,91.71 251.97,87.83 252.11,96.73 252.26,93.83 252.40,96.01 252.54,85.99 252.69,92.01 252.83,91.84 252.97,93.69 253.11,87.36 253.26,91.50 253.40,89.49 253.54,96.62 253.69,86.48 253.83,88.93 253.97,88.43 254.11,86.26 254.26,90.77 254.40,90.69 254.54,87.89 254.69,88.80 254.83,90.93 254.97,90.01 255.11,91.74 255.26,87.88 255.40,87.19 255.54,90.13 255.69,84.20 255.83,93.10 255.97,89.02 256.11,82.91 256.26,89.71 256.40,93.49 256.54,84.05 256.69,86.79 256.83,92.35 256.97,86.16 257.11,91.90 257.26,92.96 257.40,89.24 257.54,90.33 257.69,92.33 257.83,90.06 257.97,92.14 258.11,88.81 258.26,89.12 258.40,86.74 258.54,90.59 258.69,93.42 258.83,93.42 258.97,90.07 259.11,84.47 259.26,86.70 259.40,91.47 259.54,86.50 259.69,93.21 259.83,86.37 259.97,90.85 260.11,87.24 260.26,87.76 260.40,90.66 260.54,88.79 260.69,93.26 260.83,90.16 260.97,86.54 261.11,83.23 261.26,87.84 261.40,89.84 261.54,93.37 261.69,86.86 261.83,95.51 261.97,92.85 262.11,89.22 262.26,94.23 262.40,85.57 262.54,87.04 262.69,92.35 262.83,92.36 262.97,94.83 263.11,95.14 263.26,89.34 263.40,88.82 263.54,89.73 263.69,90.05 263.83,92.72 263.97,89.84 264.11,95.70 264.26,91.06 264.40,86.46 264.54,86.99 264.69,92.70 264.83,92.34 264.97,86.96 265.11,85.71 265.26,96.17 265.40,92.82 265.54,90.78 265.69,87.70 265.83,94.28 265.97,89.63 266.11,92.67 266.26,84.98 266.40,90.45 266.54,92.29 266.69,92.97 266.83,88.61 266.97,89.85 267.11,95.49 267.26,91.41 267.40,96.40 267.54,94.60 267.69,96.35 267.83,96.50 267.97,94.52 268.11,95.50 268.26,90.76 268.40,89.96 268.54,93.29 268.69,96.14 268.83,90.08 268.97,99.10 269.11,98.86 269.26,90.47 269.40,90.74 269.54,89.78 269.69,93.61 269.83,96.98 269.97,94.64 270.11,91.27 270.26,95.55 270.40,95.39 270.54,97.64 270.69,96.96 270.83,90.64 270.97,91.92 271.11,97.10 271.26,96.89 271.40,95.29 271.54,91.81 271.69,97.31 271.83,94.19 271.97,100.20 272.11,97.74 272.26,92.46 272.40,91.00 272.54,97.56 272.69,96.40 272.83,91.46 272.97,95.28 273.11,95.81 273.26,92.49 273.40,93.56 273.54,90.70 273.69,91.76 273.83,96.16 273.97,94.75 274.11,94.62 274.26,98.78 274.40,97.61 274.54,91.49 274.69,99.66 274.83,91.51 274.97,93.81 275.11,95.20 275.26,93.10 275.40,93.35 275.54,91.07 275.69,96.23 275.83,95.73 275.97,95.83 276.11,89.13 276.26,92.15 276.40,98.13 276.54,96.30 276.69,97.53 276.83,95.30 276.97,94.71 277.11,88.67 277.26,101.27 277.40,92.27 277.54,94.20 277.69,97.85 277.83,96.15 277.97,97.29 278.11,95.61 278.26,92.63 278.40,100.68 278.54,91.75 278.69,97.15 278.83,91.25 278.97,94.75 279.11,92.20 279.26,94.36 279.40,92.76 279.54,96.07 279.69,98.93 279.83,94.21 279.97,94.14 280.11,89.79 280.26,102.84 280.40,97.16 280.54,93.22 280.69,100.60 280.83,97.40 280.97,90.01 281.11,92.28 281.26,99.61 281.40,92.35" fill="none" stroke="#edb120" stroke-width="0.65" stroke-linejoin="round" />
</g>
<rect x="24.4" y="10.5" width="257.0" height="166.3" fill="none" stroke="#a4a4a4" stroke-width="0.8"/>
<text x="23.50" y="170.20" font-size="4.2" text-anchor="end" fill="#000" stroke="#000" stroke-width="0.14" stroke-linejoin="round">-25</text>
<text x="23.50" y="155.15" font-size="4.2" text-anchor="end" fill="#000" stroke="#000" stroke-width="0.14" stroke-linejoin="round">-20</text>
<text x="23.50" y="140.10" font-size="4.2" text-anchor="end" fill="#000" stroke="#000" stroke-width="0.14" stroke-linejoin="round">-15</text>
<text x="23.50" y="125.05" font-size="4.2" text-anchor="end" fill="#000" stroke="#000" stroke-width="0.14" stroke-linejoin="round">-10</text>
<text x="23.50" y="110.00" font-size="4.2" text-anchor="end" fill="#000" stroke="#000" stroke-width="0.14" stroke-linejoin="round">-5</text>
<text x="23.50" y="94.95" font-size="4.2" text-anchor="end" fill="#000" stroke="#000" stroke-width="0.14" stroke-linejoin="round">0</text>
<text x="23.50" y="79.90" font-size="4.2" text-anchor="end" fill="#000" stroke="#000" stroke-width="0.14" stroke-linejoin="round">5</text>
<text x="23.50" y="64.85" font-size="4.2" text-anchor="end" fill="#000" stroke="#000" stroke-width="0.14" stroke-linejoin="round">10</text>
<text x="23.50" y="49.80" font-size="4.2" text-anchor="end" fill="#000" stroke="#000" stroke-width="0.14" stroke-linejoin="round">15</text>
<text x="23.50" y="34.75" font-size="4.2" text-anchor="end" fill="#000" stroke="#000" stroke-width="0.14" stroke-linejoin="round">20</text>
<text x="23.50" y="19.70" font-size="4.2" text-anchor="end" fill="#000" stroke="#000" stroke-width="0.14" stroke-linejoin="round">25</text>
<text x="24.40" y="182.30" font-size="4.2" text-anchor="middle" fill="#000" stroke="#000" stroke-width="0.14" stroke-linejoin="round">0.2</text>
<text x="50.10" y="182.30" font-size="4.2" text-anchor="middle" fill="#000" stroke="#000" stroke-width="0.14" stroke-linejoin="round">0.21</text>
<text x="75.80" y="182.30" font-size="4.2" text-anchor="middle" fill="#000" stroke="#000" stroke-width="0.14" stroke-linejoin="round">0.22</text>
<text x="101.50" y="182.30" font-size="4.2" text-anchor="middle" fill="#000" stroke="#000" stroke-width="0.14" stroke-linejoin="round">0.23</text>
<text x="127.20" y="182.30" font-size="4.2" text-anchor="middle" fill="#000" stroke="#000" stroke-width="0.14" stroke-linejoin="round">0.24</text>
<text x="152.90" y="182.30" font-size="4.2" text-anchor="middle" fill="#000" stroke="#000" stroke-width="0.14" stroke-linejoin="round">0.25</text>
<text x="178.60" y="182.30" font-size="4.2" text-anchor="middle" fill="#000" stroke="#000" stroke-width="0.14" stroke-linejoin="round">0.26</text>
<text x="204.30" y="182.30" font-size="4.2" text-anchor="middle" fill="#000" stroke="#000" stroke-width="0.14" stroke-linejoin="round">0.27</text>
<text x="230.00" y="182.30" font-size="4.2" text-anchor="middle" fill="#000" stroke="#000" stroke-width="0.14" stroke-linejoin="round">0.28</text>
<text x="255.70" y="182.30" font-size="4.2" text-anchor="middle" fill="#000" stroke="#000" stroke-width="0.14" stroke-linejoin="round">0.29</text>
<text x="281.40" y="182.30" font-size="4.2" text-anchor="middle" fill="#000" stroke="#000" stroke-width="0.14" stroke-linejoin="round">0.3</text>
<text x="152.90" y="189.00" font-size="5.2" text-anchor="middle" fill="#000" text-rendering="auto">Time (seconds)</text>
<text x="10" y="189.60" font-size="4.25" fill="#000">Offset=0.2</text>
<text transform="translate(15.8 94.50) rotate(-90)" font-size="4.8" text-anchor="middle" fill="#000">Current(A)</text>
<rect x="246.3" y="12.3" width="31.899999999999977" height="18.8" fill="#fff" stroke="#9a9a9a" stroke-width="0.6"/>
<path d="M248.0 15.80H263.7" stroke="#4a6fd0" stroke-width="1.2"/>
<text x="265.1" y="17.20" font-size="4.1" fill="#000">iref</text>
<path d="M248.0 21.60H263.7" stroke="#d95319" stroke-width="1.2"/>
<text x="265.1" y="23.00" font-size="4.1" fill="#000">io</text>
<path d="M248.0 27.40H263.7" stroke="#edb120" stroke-width="1.2"/>
<text x="265.1" y="28.80" font-size="4.1" fill="#000">i_error</text>
<rect x="37.3" y="22.5" width="66.0" height="43.2" fill="#fff"/>
<clipPath id="iclipa"><rect x="37.3" y="22.5" width="66.0" height="43.2"/></clipPath>
<path d="M41.8 32.60H103.3 M41.8 44.80H103.3 M41.8 57.90H103.3 M59.60 22.5V65.7" stroke="#d8d8d8" stroke-width="0.6" fill="none"/>
<path d="M41.8 22.5V65.7" stroke="#b0b0b0" stroke-width="0.5"/>
<text x="41.20" y="33.40" font-size="2.4" text-anchor="end" fill="#444">2</text>
<text x="41.20" y="45.60" font-size="2.4" text-anchor="end" fill="#444">0</text>
<text x="41.20" y="58.70" font-size="2.4" text-anchor="end" fill="#444">-2</text>
<g clip-path="url(#iclipa)">
<polyline points="42.30,55.69 42.48,53.29 42.67,50.95 42.85,50.08 43.04,43.61 43.22,45.62 43.40,52.85 43.59,49.37 43.77,59.27 43.96,46.54 44.14,37.02 44.32,46.47 44.51,49.98 44.69,50.56 44.87,48.69 45.06,43.48 45.24,56.91 45.43,44.33 45.61,52.28 45.79,46.45 45.98,41.12 46.16,56.25 46.35,36.56 46.53,43.02 46.71,50.45 46.90,45.83 47.08,52.22 47.27,47.25 47.45,45.16 47.63,59.50 47.82,46.44 48.00,46.77 48.18,41.36 48.37,43.27 48.55,51.34 48.74,50.81 48.92,47.51 49.10,43.40 49.29,51.41 49.47,37.51 49.66,45.36 49.84,45.80 50.02,42.28 50.21,48.00 50.39,43.16 50.58,42.30 50.76,57.34 50.94,51.11 51.13,53.69 51.31,46.95 51.49,52.18 51.68,51.03 51.86,53.47 52.05,58.03 52.23,44.96 52.41,47.70 52.60,45.83 52.78,34.51 52.97,37.87 53.15,46.01 53.33,49.50 53.52,42.40 53.70,52.25 53.89,53.04 54.07,43.12 54.25,53.70 54.44,55.52 54.62,47.98 54.80,39.52 54.99,53.65 55.17,44.11 55.36,42.79 55.54,45.58 55.72,41.71 55.91,50.97 56.09,49.18 56.28,51.67 56.46,47.89 56.64,39.84 56.83,43.44 57.01,49.36 57.20,41.85 57.38,55.73 57.56,42.64 57.75,40.57 57.93,50.55 58.11,48.15 58.30,43.57 58.48,42.32 58.67,46.05 58.85,48.34 59.03,47.84 59.22,41.59 59.40,45.76 59.59,48.07 59.77,47.53 59.95,31.42 60.14,37.78 60.32,38.36 60.51,41.44 60.69,43.74 60.87,47.97 61.06,46.13 61.24,41.73 61.42,42.52 61.61,52.51 61.79,38.67 61.98,43.91 62.16,51.15 62.34,43.99 62.53,30.31 62.71,44.00 62.90,39.50 63.08,41.01 63.26,47.69 63.45,44.24 63.63,39.97 63.82,46.67 64.00,44.02 64.18,42.11 64.37,43.25 64.55,42.97 64.73,39.53 64.92,38.84 65.10,41.65 65.29,35.97 65.47,34.20 65.65,49.05 65.84,40.11 66.02,41.36 66.21,40.72 66.39,41.64 66.57,41.63 66.76,41.88 66.94,36.83 67.13,46.91 67.31,37.49 67.49,47.50 67.68,30.37 67.86,35.34 68.04,47.25 68.23,40.64 68.41,37.61 68.60,43.68 68.78,35.44 68.96,41.95 69.15,29.90 69.33,38.88 69.52,37.73 69.70,44.63 69.88,46.58 70.07,36.54 70.25,50.83 70.44,38.07 70.62,29.90 70.80,29.90 70.99,50.43 71.17,40.99 71.35,37.75 71.54,37.16 71.72,35.17 71.91,49.34 72.09,41.01 72.27,51.88 72.46,40.35 72.64,29.92 72.83,46.45 73.01,39.46 73.19,40.26 73.38,50.76 73.56,40.18 73.75,48.49 73.93,41.76 74.11,37.46 74.30,44.80 74.48,38.41 74.66,49.06 74.85,47.54 75.03,42.38 75.22,45.59 75.40,45.36 75.58,40.53 75.77,47.36 75.95,40.88 76.14,45.81 76.32,36.77 76.50,42.91 76.69,44.77 76.87,37.82 77.06,40.03 77.24,39.39 77.42,46.74 77.61,38.39 77.79,45.14 77.97,51.49 78.16,44.75 78.34,33.38 78.53,43.49 78.71,48.84 78.89,41.19 79.08,49.32 79.26,46.51 79.45,45.41 79.63,41.49 79.81,40.07 80.00,41.61 80.18,43.52 80.37,46.24 80.55,45.70 80.73,41.56 80.92,43.74 81.10,45.66 81.28,34.04 81.47,39.07 81.65,38.94 81.84,42.44 82.02,42.08 82.20,42.24 82.39,38.72 82.57,47.74 82.76,45.50 82.94,34.41 83.12,44.07 83.31,37.51 83.49,53.97 83.68,41.51 83.86,41.92 84.04,44.74 84.23,43.15 84.41,44.02 84.59,53.39 84.78,45.77 84.96,49.36 85.15,51.10 85.33,38.97 85.51,54.47 85.70,48.71 85.88,50.32 86.07,39.82 86.25,49.62 86.43,47.33 86.62,41.86 86.80,56.53 86.99,48.37 87.17,43.74 87.35,46.31 87.54,50.52 87.72,51.84 87.90,48.71 88.09,52.45 88.27,53.97 88.46,38.33 88.64,42.73 88.82,40.15 89.01,46.21 89.19,54.07 89.38,49.54 89.56,39.74 89.74,44.15 89.93,51.87 90.11,42.87 90.30,45.44 90.48,47.82 90.66,35.54 90.85,50.66 91.03,48.16 91.21,49.50 91.40,40.56 91.58,41.81 91.77,42.83 91.95,47.78 92.13,46.76 92.32,47.12 92.50,56.81 92.69,54.02 92.87,42.30 93.05,42.71 93.24,56.49 93.42,44.73 93.61,54.59 93.79,55.90 93.97,43.51 94.16,45.12 94.34,47.20 94.52,41.74 94.71,41.11 94.89,44.48 95.08,51.79 95.26,44.27 95.44,45.70 95.63,44.23 95.81,39.04 96.00,55.60 96.18,35.31 96.36,43.26 96.55,50.32 96.73,39.02 96.92,50.65 97.10,54.44 97.28,42.22 97.47,48.44 97.65,40.82 97.83,50.23 98.02,47.84 98.20,48.60 98.39,55.31 98.57,50.15 98.75,55.25 98.94,51.15 99.12,40.55 99.31,49.05 99.49,50.40 99.67,39.21 99.86,55.36 100.04,48.05 100.23,49.82 100.41,42.52 100.59,48.17 100.78,49.52 100.96,45.92 101.14,48.31 101.33,36.16 101.51,55.80 101.70,41.47 101.88,36.25 102.06,42.42 102.25,43.18 102.43,51.20 102.62,42.78 102.80,49.76" fill="none" stroke="#efbc48" stroke-width="0.5" stroke-linejoin="round" />
<path d="M44.2 22.5 Q43 40 42.6 66" fill="none" stroke="#4a6fd0" stroke-width="1.0"/><path d="M44.9 22.5 Q43.8 36 43.4 50" fill="none" stroke="#d95319" stroke-width="0.9"/>
<path d="M76.0 22.5 Q77.5 45 79.0 66" fill="none" stroke="#4a6fd0" stroke-width="0.9"/><path d="M76.8 22.5 Q78.2 40 79.8 66" fill="none" stroke="#d95319" stroke-width="0.9"/>
</g>
<rect x="37.3" y="22.5" width="66.0" height="43.2" fill="none" stroke="#2a2a2a" stroke-width="1.1"/>
<path d="M67.0 65.7L38.7 87.2" stroke="#1a1a1a" stroke-width="0.85"/>
</g>
<g text-rendering="geometricPrecision">
<clipPath id="clipc"><rect x="24.4" y="235.4" width="257.0" height="166.20000000000002"/></clipPath>
<path d="M50.10 235.4V401.6 M75.80 235.4V401.6 M101.50 235.4V401.6 M127.20 235.4V401.6 M152.90 235.4V401.6 M178.60 235.4V401.6 M204.30 235.4V401.6 M230.00 235.4V401.6 M255.70 235.4V401.6 M24.4 399.60H281.4 M24.4 383.38H281.4 M24.4 367.16H281.4 M24.4 350.94H281.4 M24.4 334.72H281.4 M24.4 318.50H281.4 M24.4 302.28H281.4 M24.4 286.06H281.4 M24.4 269.84H281.4 M24.4 253.62H281.4 M24.4 237.40H281.4" stroke="#cbcbcb" stroke-width="0.75" fill="none"/>
<path d="M50.10 401.6v-1.6M50.10 235.4v1.6 M75.80 401.6v-1.6M75.80 235.4v1.6 M101.50 401.6v-1.6M101.50 235.4v1.6 M127.20 401.6v-1.6M127.20 235.4v1.6 M152.90 401.6v-1.6M152.90 235.4v1.6 M178.60 401.6v-1.6M178.60 235.4v1.6 M204.30 401.6v-1.6M204.30 235.4v1.6 M230.00 401.6v-1.6M230.00 235.4v1.6 M255.70 401.6v-1.6M255.70 235.4v1.6 M24.4 399.60h1.6M281.4 399.60h-1.6 M24.4 383.38h1.6M281.4 383.38h-1.6 M24.4 367.16h1.6M281.4 367.16h-1.6 M24.4 350.94h1.6M281.4 350.94h-1.6 M24.4 334.72h1.6M281.4 334.72h-1.6 M24.4 318.50h1.6M281.4 318.50h-1.6 M24.4 302.28h1.6M281.4 302.28h-1.6 M24.4 286.06h1.6M281.4 286.06h-1.6 M24.4 269.84h1.6M281.4 269.84h-1.6 M24.4 253.62h1.6M281.4 253.62h-1.6 M24.4 237.40h1.6M281.4 237.40h-1.6" stroke="#999" stroke-width="0.6" fill="none"/>
<g clip-path="url(#clipc)">
<polyline points="24.40,318.50 24.50,317.68 24.61,316.87 24.71,316.05 24.81,315.24 24.91,314.42 25.02,313.61 25.12,312.80 25.22,311.99 25.33,311.17 25.43,310.37 25.53,309.56 25.63,308.75 25.74,307.94 25.84,307.14 25.94,306.34 26.05,305.54 26.15,304.74 26.25,303.94 26.35,303.15 26.46,302.36 26.56,301.57 26.66,300.78 26.77,300.00 26.87,299.22 26.97,298.44 27.07,297.67 27.18,296.90 27.28,296.13 27.38,295.37 27.49,294.61 27.59,293.85 27.69,293.10 27.79,292.35 27.90,291.61 28.00,290.87 28.10,290.13 28.21,289.40 28.31,288.67 28.41,287.95 28.51,287.23 28.62,286.52 28.72,285.81 28.82,285.11 28.93,284.41 29.03,283.72 29.13,283.04 29.23,282.36 29.34,281.68 29.44,281.01 29.54,280.35 29.64,279.69 29.75,279.04 29.85,278.40 29.95,277.76 30.06,277.13 30.16,276.51 30.26,275.89 30.36,275.28 30.47,274.67 30.57,274.07 30.67,273.48 30.78,272.90 30.88,272.32 30.98,271.75 31.08,271.19 31.19,270.64 31.29,270.09 31.39,269.55 31.50,269.02 31.60,268.49 31.70,267.98 31.80,267.47 31.91,266.97 32.01,266.48 32.11,266.00 32.22,265.52 32.32,265.05 32.42,264.60 32.52,264.15 32.63,263.71 32.73,263.27 32.83,262.85 32.94,262.44 33.04,262.03 33.14,261.63 33.24,261.24 33.35,260.86 33.45,260.49 33.55,260.13 33.66,259.78 33.76,259.44 33.86,259.11 33.96,258.78 34.07,258.47 34.17,258.16 34.27,257.87 34.38,257.58 34.48,257.31 34.58,257.04 34.68,256.79 34.79,256.54 34.89,256.30 34.99,256.07 35.10,255.86 35.20,255.65 35.30,255.45 35.40,255.26 35.51,255.09 35.61,254.92 35.71,254.76 35.82,254.62 35.92,254.48 36.02,254.35 36.12,254.23 36.23,254.13 36.33,254.03 36.43,253.94 36.54,253.87 36.64,253.80 36.74,253.75 36.84,253.70 36.95,253.66 37.05,253.64 37.15,253.62 37.26,253.62 37.36,253.63 37.46,253.64 37.56,253.67 37.67,253.70 37.77,253.75 37.87,253.81 37.98,253.87 38.08,253.95 38.18,254.04 38.28,254.14 38.39,254.24 38.49,254.36 38.59,254.49 38.69,254.63 38.80,254.78 38.90,254.94 39.00,255.10 39.11,255.28 39.21,255.47 39.31,255.67 39.41,255.88 39.52,256.10 39.62,256.32 39.72,256.56 39.83,256.81 39.93,257.07 40.03,257.34 40.13,257.61 40.24,257.90 40.34,258.19 40.44,258.50 40.55,258.82 40.65,259.14 40.75,259.47 40.85,259.82 40.96,260.17 41.06,260.53 41.16,260.90 41.27,261.28 41.37,261.67 41.47,262.07 41.57,262.48 41.68,262.89 41.78,263.32 41.88,263.75 41.99,264.19 42.09,264.64 42.19,265.10 42.29,265.57 42.40,266.04 42.50,266.53 42.60,267.02 42.71,267.52 42.81,268.03 42.91,268.55 43.01,269.07 43.12,269.60 43.22,270.14 43.32,270.69 43.43,271.25 43.53,271.81 43.63,272.38 43.73,272.96 43.84,273.54 43.94,274.13 44.04,274.73 44.15,275.34 44.25,275.95 44.35,276.57 44.45,277.19 44.56,277.83 44.66,278.46 44.76,279.11 44.87,279.76 44.97,280.42 45.07,281.08 45.17,281.75 45.28,282.42 45.38,283.11 45.48,283.79 45.59,284.48 45.69,285.18 45.79,285.88 45.89,286.59 46.00,287.30 46.10,288.02 46.20,288.74 46.31,289.47 46.41,290.20 46.51,290.94 46.61,291.68 46.72,292.42 46.82,293.17 46.92,293.93 47.03,294.68 47.13,295.44 47.23,296.21 47.33,296.98 47.44,297.75 47.54,298.52 47.64,299.30 47.74,300.08 47.85,300.86 47.95,301.65 48.05,302.44 48.16,303.23 48.26,304.02 48.36,304.82 48.46,305.62 48.57,306.42 48.67,307.22 48.77,308.02 48.88,308.83 48.98,309.64 49.08,310.45 49.18,311.26 49.29,312.07 49.39,312.88 49.49,313.69 49.60,314.51 49.70,315.32 49.80,316.14 49.90,316.95 50.01,317.77 50.11,318.58 50.21,319.40 50.32,320.21 50.42,321.03 50.52,321.84 50.62,322.66 50.73,323.47 50.83,324.28 50.93,325.10 51.04,325.91 51.14,326.72 51.24,327.52 51.34,328.33 51.45,329.14 51.55,329.94 51.65,330.74 51.76,331.54 51.86,332.34 51.96,333.14 52.06,333.93 52.17,334.72 52.27,335.51 52.37,336.29 52.48,337.08 52.58,337.86 52.68,338.63 52.78,339.41 52.89,340.18 52.99,340.95 53.09,341.71 53.20,342.47 53.30,343.22 53.40,343.98 53.50,344.73 53.61,345.47 53.71,346.21 53.81,346.94 53.92,347.67 54.02,348.40 54.12,349.12 54.22,349.84 54.33,350.55 54.43,351.26 54.53,351.96 54.64,352.65 54.74,353.35 54.84,354.03 54.94,354.71 55.05,355.38 55.15,356.05 55.25,356.71 55.36,357.37 55.46,358.02 55.56,358.66 55.66,359.30 55.77,359.93 55.87,360.56 55.97,361.17 56.08,361.79 56.18,362.39 56.28,362.99 56.38,363.58 56.49,364.16 56.59,364.74 56.69,365.30 56.79,365.87 56.90,366.42 57.00,366.97 57.10,367.50 57.21,368.03 57.31,368.56 57.41,369.07 57.51,369.58 57.62,370.08 57.72,370.57 57.82,371.05 57.93,371.53 58.03,371.99 58.13,372.45 58.23,372.90 58.34,373.34 58.44,373.77 58.54,374.19 58.65,374.61 58.75,375.01 58.85,375.41 58.95,375.79 59.06,376.17 59.16,376.54 59.26,376.90 59.37,377.25 59.47,377.59 59.57,377.93 59.67,378.25 59.78,378.56 59.88,378.87 59.98,379.16 60.09,379.44 60.19,379.72 60.29,379.98 60.39,380.24 60.50,380.49 60.60,380.72 60.70,380.95 60.81,381.16 60.91,381.37 61.01,381.57 61.11,381.75 61.22,381.93 61.32,382.10 61.42,382.25 61.53,382.40 61.63,382.54 61.73,382.66 61.83,382.78 61.94,382.88 62.04,382.98 62.14,383.06 62.25,383.14 62.35,383.20 62.45,383.26 62.55,383.30 62.66,383.34 62.76,383.36 62.86,383.38 62.97,383.38 63.07,383.37 63.17,383.36 63.27,383.33 63.38,383.29 63.48,383.24 63.58,383.19 63.69,383.12 63.79,383.04 63.89,382.95 63.99,382.85 64.10,382.74 64.20,382.62 64.30,382.50 64.41,382.36 64.51,382.21 64.61,382.05 64.71,381.88 64.82,381.70 64.92,381.51 65.02,381.31 65.13,381.10 65.23,380.88 65.33,380.65 65.43,380.41 65.54,380.16 65.64,379.91 65.74,379.64 65.84,379.36 65.95,379.07 66.05,378.78 66.15,378.47 66.26,378.15 66.36,377.83 66.46,377.49 66.56,377.15 66.67,376.79 66.77,376.43 66.87,376.06 66.98,375.68 67.08,375.29 67.18,374.89 67.28,374.48 67.39,374.07 67.49,373.64 67.59,373.21 67.70,372.76 67.80,372.31 67.90,371.85 68.00,371.38 68.11,370.91 68.21,370.42 68.31,369.93 68.42,369.43 68.52,368.92 68.62,368.40 68.72,367.88 68.83,367.34 68.93,366.80 69.03,366.25 69.14,365.70 69.24,365.13 69.34,364.56 69.44,363.99 69.55,363.40 69.65,362.81 69.75,362.21 69.86,361.60 69.96,360.99 70.06,360.37 70.16,359.74 70.27,359.11 70.37,358.47 70.47,357.83 70.58,357.17 70.68,356.52 70.78,355.85 70.88,355.18 70.99,354.51 71.09,353.83 71.19,353.14 71.30,352.45 71.40,351.75 71.50,351.05 71.60,350.34 71.71,349.62 71.81,348.91 71.91,348.18 72.02,347.46 72.12,346.72 72.22,345.99 72.32,345.25 72.43,344.50 72.53,343.75 72.63,343.00 72.74,342.24 72.84,341.48 72.94,340.72 73.04,339.95 73.15,339.18 73.25,338.40 73.35,337.62 73.46,336.84 73.56,336.06 73.66,335.27 73.76,334.48 73.87,333.69 73.97,332.90 74.07,332.10 74.18,331.30 74.28,330.50 74.38,329.70 74.48,328.90 74.59,328.09 74.69,327.28 74.79,326.47 74.89,325.66 75.00,324.85 75.10,324.04 75.20,323.23 75.31,322.41 75.41,321.60 75.51,320.78 75.61,319.97 75.72,319.15 75.82,318.34 75.92,317.52 76.03,316.71 76.13,315.89 76.23,315.08 76.33,314.26 76.44,313.45 76.54,312.64 76.64,311.82 76.75,311.01 76.85,310.20 76.95,309.40 77.05,308.59 77.16,307.78 77.26,306.98 77.36,306.18 77.47,305.38 77.57,304.58 77.67,303.78 77.77,302.99 77.88,302.20 77.98,301.41 78.08,300.63 78.19,299.84 78.29,299.06 78.39,298.29 78.49,297.51 78.60,296.74 78.70,295.98 78.80,295.21 78.91,294.46 79.01,293.70 79.11,292.95 79.21,292.20 79.32,291.46 79.42,290.72 79.52,289.98 79.63,289.25 79.73,288.53 79.83,287.81 79.93,287.09 80.04,286.38 80.14,285.67 80.24,284.97 80.35,284.28 80.45,283.59 80.55,282.90 80.65,282.22 80.76,281.55 80.86,280.88 80.96,280.22 81.07,279.56 81.17,278.91 81.27,278.27 81.37,277.63 81.48,277.00 81.58,276.38 81.68,275.76 81.79,275.15 81.89,274.55 81.99,273.95 82.09,273.36 82.20,272.78 82.30,272.21 82.40,271.64 82.51,271.08 82.61,270.53 82.71,269.98 82.81,269.44 82.92,268.91 83.02,268.39 83.12,267.88 83.23,267.37 83.33,266.87 83.43,266.38 83.53,265.90 83.64,265.43 83.74,264.96 83.84,264.51 83.95,264.06 84.05,263.62 84.15,263.19 84.25,262.77 84.36,262.35 84.46,261.95 84.56,261.55 84.66,261.17 84.77,260.79 84.87,260.42 84.97,260.06 85.08,259.71 85.18,259.37 85.28,259.04 85.38,258.72 85.49,258.41 85.59,258.10 85.69,257.81 85.80,257.53 85.90,257.25 86.00,256.99 86.10,256.74 86.21,256.49 86.31,256.26 86.41,256.03 86.52,255.81 86.62,255.61 86.72,255.41 86.82,255.23 86.93,255.05 87.03,254.89 87.13,254.73 87.24,254.59 87.34,254.45 87.44,254.33 87.54,254.21 87.65,254.11 87.75,254.01 87.85,253.93 87.96,253.85 88.06,253.79 88.16,253.74 88.26,253.69 88.37,253.66 88.47,253.64 88.57,253.62 88.68,253.62 88.78,253.63 88.88,253.65 88.98,253.67 89.09,253.71 89.19,253.76 89.29,253.82 89.40,253.89 89.50,253.97 89.60,254.06 89.70,254.16 89.81,254.27 89.91,254.39 90.01,254.52 90.12,254.66 90.22,254.81 90.32,254.97 90.42,255.14 90.53,255.32 90.63,255.51 90.73,255.71 90.84,255.92 90.94,256.14 91.04,256.37 91.14,256.61 91.25,256.86 91.35,257.12 91.45,257.39 91.56,257.67 91.66,257.96 91.76,258.26 91.86,258.56 91.97,258.88 92.07,259.21 92.17,259.54 92.28,259.89 92.38,260.24 92.48,260.60 92.58,260.98 92.69,261.36 92.79,261.75 92.89,262.15 93.00,262.56 93.10,262.98 93.20,263.40 93.30,263.84 93.41,264.28 93.51,264.73 93.61,265.19 93.71,265.66 93.82,266.14 93.92,266.63 94.02,267.12 94.13,267.62 94.23,268.13 94.33,268.65 94.43,269.18 94.54,269.71 94.64,270.25 94.74,270.80 94.85,271.36 94.95,271.92 95.05,272.49 95.15,273.07 95.26,273.66 95.36,274.25 95.46,274.85 95.57,275.46 95.67,276.07 95.77,276.69 95.87,277.32 95.98,277.95 96.08,278.59 96.18,279.24 96.29,279.89 96.39,280.55 96.49,281.21 96.59,281.88 96.70,282.56 96.80,283.24 96.90,283.93 97.01,284.62 97.11,285.32 97.21,286.02 97.31,286.73 97.42,287.45 97.52,288.17 97.62,288.89 97.73,289.62 97.83,290.35 97.93,291.09 98.03,291.83 98.14,292.57 98.24,293.32 98.34,294.08 98.45,294.83 98.55,295.60 98.65,296.36 98.75,297.13 98.86,297.90 98.96,298.68 99.06,299.45 99.17,300.24 99.27,301.02 99.37,301.81 99.47,302.60 99.58,303.39 99.68,304.18 99.78,304.98 99.89,305.78 99.99,306.58 100.09,307.38 100.19,308.19 100.30,308.99 100.40,309.80 100.50,310.61 100.61,311.42 100.71,312.23 100.81,313.04 100.91,313.85 101.02,314.67 101.12,315.48 101.22,316.30 101.33,317.11 101.43,317.93 101.53,318.74 101.63,319.56 101.74,320.38 101.84,321.19 101.94,322.01 102.05,322.82 102.15,323.63 102.25,324.45 102.35,325.26 102.46,326.07 102.56,326.88 102.66,327.69 102.76,328.49 102.87,329.30 102.97,330.10 103.07,330.90 103.18,331.70 103.28,332.50 103.38,333.29 103.48,334.09 103.59,334.88 103.69,335.67 103.79,336.45 103.90,337.23 104.00,338.01 104.10,338.79 104.20,339.56 104.31,340.33 104.41,341.10 104.51,341.86 104.62,342.62 104.72,343.38 104.82,344.13 104.92,344.87 105.03,345.62 105.13,346.36 105.23,347.09 105.34,347.82 105.44,348.55 105.54,349.27 105.64,349.98 105.75,350.69 105.85,351.40 105.95,352.10 106.06,352.79 106.16,353.48 106.26,354.17 106.36,354.85 106.47,355.52 106.57,356.19 106.67,356.85 106.78,357.50 106.88,358.15 106.98,358.79 107.08,359.43 107.19,360.06 107.29,360.68 107.39,361.30 107.50,361.91 107.60,362.51 107.70,363.11 107.80,363.69 107.91,364.28 108.01,364.85 108.11,365.42 108.22,365.98 108.32,366.53 108.42,367.07 108.52,367.61 108.63,368.14 108.73,368.66 108.83,369.17 108.94,369.68 109.04,370.18 109.14,370.67 109.24,371.15 109.35,371.62 109.45,372.08 109.55,372.54 109.66,372.99 109.76,373.42 109.86,373.85 109.96,374.28 110.07,374.69 110.17,375.09 110.27,375.49 110.38,375.87 110.48,376.25 110.58,376.61 110.68,376.97 110.79,377.32 110.89,377.66 110.99,377.99 111.10,378.31 111.20,378.62 111.30,378.92 111.40,379.22 111.51,379.50 111.61,379.77 111.71,380.04 111.81,380.29 111.92,380.53 112.02,380.77 112.12,380.99 112.23,381.21 112.33,381.41 112.43,381.60 112.53,381.79 112.64,381.96 112.74,382.13 112.84,382.28 112.95,382.43 113.05,382.56 113.15,382.69 113.25,382.80 113.36,382.90 113.46,383.00 113.56,383.08 113.67,383.15 113.77,383.22 113.87,383.27 113.97,383.31 114.08,383.34 114.18,383.37 114.28,383.38 114.39,383.38 114.49,383.37 114.59,383.35 114.69,383.32 114.80,383.28 114.90,383.23 115.00,383.17 115.11,383.10 115.21,383.02 115.31,382.93 115.41,382.83 115.52,382.72 115.62,382.60 115.72,382.47 115.83,382.33 115.93,382.18 116.03,382.01 116.13,381.84 116.24,381.66 116.34,381.47 116.44,381.27 116.55,381.06 116.65,380.84 116.75,380.60 116.85,380.36 116.96,380.11 117.06,379.85 117.16,379.58 117.27,379.30 117.37,379.01 117.47,378.71 117.57,378.41 117.68,378.09 117.78,377.76 117.88,377.42 117.99,377.08 118.09,376.72 118.19,376.36 118.29,375.98 118.40,375.60 118.50,375.21 118.60,374.81 118.71,374.40 118.81,373.98 118.91,373.55 119.01,373.12 119.12,372.67 119.22,372.22 119.32,371.76 119.43,371.29 119.53,370.81 119.63,370.32 119.73,369.83 119.84,369.33 119.94,368.82 120.04,368.30 120.15,367.77 120.25,367.24 120.35,366.69 120.45,366.14 120.56,365.59 120.66,365.02 120.76,364.45 120.86,363.87 120.97,363.28 121.07,362.69 121.17,362.09 121.28,361.48 121.38,360.87 121.48,360.25 121.58,359.62 121.69,358.98 121.79,358.34 121.89,357.70 122.00,357.04 122.10,356.38 122.20,355.72 122.30,355.05 122.41,354.37 122.51,353.69 122.61,353.00 122.72,352.31 122.82,351.61 122.92,350.90 123.02,350.20 123.13,349.48 123.23,348.76 123.33,348.04 123.44,347.31 123.54,346.58 123.64,345.84 123.74,345.10 123.85,344.35 123.95,343.60 124.05,342.85 124.16,342.09 124.26,341.33 124.36,340.56 124.46,339.79 124.57,339.02 124.67,338.25 124.77,337.47 124.88,336.69 124.98,335.90 125.08,335.11 125.18,334.33 125.29,333.53 125.39,332.74 125.49,331.94 125.60,331.14 125.70,330.34 125.80,329.54 125.90,328.73 126.01,327.93 126.11,327.12 126.21,326.31 126.32,325.50 126.42,324.69 126.52,323.88 126.62,323.06 126.73,322.25 126.83,321.44 126.93,320.62 127.04,319.80 127.14,318.99 127.24,318.17 127.34,317.36 127.45,316.54 127.55,315.73 127.65,314.91 127.76,314.10 127.86,313.29 127.96,312.47 128.06,311.66 128.17,310.85 128.27,310.04 128.37,309.23 128.48,308.43 128.58,307.62 128.68,306.82 128.78,306.02 128.89,305.22 128.99,304.42 129.09,303.63 129.20,302.83 129.30,302.04 129.40,301.26 129.50,300.47 129.61,299.69 129.71,298.91 129.81,298.13 129.92,297.36 130.02,296.59 130.12,295.83 130.22,295.06 130.33,294.30 130.43,293.55 130.53,292.80 130.63,292.05 130.74,291.31 130.84,290.57 130.94,289.84 131.05,289.11 131.15,288.38 131.25,287.66 131.35,286.95 131.46,286.24 131.56,285.53 131.66,284.83 131.77,284.14 131.87,283.45 131.97,282.76 132.07,282.09 132.18,281.41 132.28,280.75 132.38,280.09 132.49,279.43 132.59,278.79 132.69,278.14 132.79,277.51 132.90,276.88 133.00,276.26 133.10,275.64 133.21,275.03 133.31,274.43 133.41,273.84 133.51,273.25 133.62,272.67 133.72,272.09 133.82,271.53 133.93,270.97 134.03,270.42 134.13,269.87 134.23,269.34 134.34,268.81 134.44,268.29 134.54,267.77 134.65,267.27 134.75,266.77 134.85,266.29 134.95,265.81 135.06,265.33 135.16,264.87 135.26,264.42 135.37,263.97 135.47,263.53 135.57,263.10 135.67,262.68 135.78,262.27 135.88,261.87 135.98,261.48 136.09,261.09 136.19,260.72 136.29,260.35 136.39,259.99 136.50,259.64 136.60,259.31 136.70,258.98 136.81,258.66 136.91,258.35 137.01,258.05 137.11,257.75 137.22,257.47 137.32,257.20 137.42,256.94 137.53,256.69 137.63,256.44 137.73,256.21 137.83,255.99 137.94,255.77 138.04,255.57 138.14,255.38 138.25,255.19 138.35,255.02 138.45,254.86 138.55,254.70 138.66,254.56 138.76,254.43 138.86,254.30 138.97,254.19 139.07,254.09 139.17,253.99 139.27,253.91 139.38,253.84 139.48,253.78 139.58,253.73 139.68,253.68 139.79,253.65 139.89,253.63 139.99,253.62 140.10,253.62 140.20,253.63 140.30,253.65 140.40,253.68 140.51,253.72 140.61,253.77 140.71,253.83 140.82,253.90 140.92,253.99 141.02,254.08 141.12,254.18 141.23,254.29 141.33,254.41 141.43,254.55 141.54,254.69 141.64,254.84 141.74,255.00 141.84,255.17 141.95,255.36 142.05,255.55 142.15,255.75 142.26,255.96 142.36,256.19 142.46,256.42 142.56,256.66 142.67,256.91 142.77,257.17 142.87,257.44 142.98,257.73 143.08,258.02 143.18,258.32 143.28,258.63 143.39,258.94 143.49,259.27 143.59,259.61 143.70,259.96 143.80,260.31 143.90,260.68 144.00,261.05 144.11,261.44 144.21,261.83 144.31,262.23 144.42,262.64 144.52,263.06 144.62,263.49 144.72,263.93 144.83,264.37 144.93,264.82 145.03,265.29 145.14,265.76 145.24,266.24 145.34,266.72 145.44,267.22 145.55,267.72 145.65,268.24 145.75,268.76 145.86,269.28 145.96,269.82 146.06,270.36 146.16,270.91 146.27,271.47 146.37,272.04 146.47,272.61 146.58,273.19 146.68,273.78 146.78,274.37 146.88,274.97 146.99,275.58 147.09,276.20 147.19,276.82 147.30,277.45 147.40,278.08 147.50,278.72 147.60,279.37 147.71,280.02 147.81,280.68 147.91,281.35 148.02,282.02 148.12,282.70 148.22,283.38 148.32,284.07 148.43,284.76 148.53,285.46 148.63,286.17 148.73,286.88 148.84,287.59 148.94,288.31 149.04,289.03 149.15,289.76 149.25,290.50 149.35,291.23 149.45,291.98 149.56,292.72 149.66,293.47 149.76,294.23 149.87,294.99 149.97,295.75 150.07,296.51 150.17,297.28 150.28,298.06 150.38,298.83 150.48,299.61 150.59,300.39 150.69,301.18 150.79,301.96 150.89,302.75 151.00,303.55 151.10,304.34 151.20,305.14 151.31,305.94 151.41,306.74 151.51,307.54 151.61,308.35 151.72,309.15 151.82,309.96 151.92,310.77 152.03,311.58 152.13,312.39 152.23,313.20 152.33,314.02 152.44,314.83 152.54,315.65 152.64,316.46 152.75,317.28 152.85,318.09 152.95,318.91 153.05,319.72 153.16,320.54 153.26,321.35 153.36,322.17 153.47,322.98 153.57,323.80 153.67,324.61 153.77,325.42 153.88,326.23 153.98,327.04 154.08,327.85 154.19,328.65 154.29,329.46 154.39,330.26 154.49,331.06 154.60,331.86 154.70,332.66 154.80,333.45 154.91,334.25 155.01,335.04 155.11,335.82 155.21,336.61 155.32,337.39 155.42,338.17 155.52,338.94 155.63,339.72 155.73,340.49 155.83,341.25 155.93,342.01 156.04,342.77 156.14,343.53 156.24,344.28 156.35,345.02 156.45,345.77 156.55,346.50 156.65,347.24 156.76,347.97 156.86,348.69 156.96,349.41 157.07,350.12 157.17,350.83 157.27,351.54 157.37,352.24 157.48,352.93 157.58,353.62 157.68,354.30 157.78,354.98 157.89,355.65 157.99,356.32 158.09,356.98 158.20,357.63 158.30,358.28 158.40,358.92 158.50,359.55 158.61,360.18 158.71,360.80 158.81,361.42 158.92,362.03 159.02,362.63 159.12,363.22 159.22,363.81 159.33,364.39 159.43,364.96 159.53,365.53 159.64,366.09 159.74,366.64 159.84,367.18 159.94,367.72 160.05,368.24 160.15,368.76 160.25,369.28 160.36,369.78 160.46,370.28 160.56,370.76 160.66,371.24 160.77,371.71 160.87,372.18 160.97,372.63 161.08,373.07 161.18,373.51 161.28,373.94 161.38,374.36 161.49,374.77 161.59,375.17 161.69,375.56 161.80,375.95 161.90,376.32 162.00,376.69 162.10,377.04 162.21,377.39 162.31,377.73 162.41,378.06 162.52,378.37 162.62,378.68 162.72,378.98 162.82,379.27 162.93,379.56 163.03,379.83 163.13,380.09 163.24,380.34 163.34,380.58 163.44,380.81 163.54,381.04 163.65,381.25 163.75,381.45 163.85,381.64 163.96,381.83 164.06,382.00 164.16,382.16 164.26,382.31 164.37,382.45 164.47,382.59 164.57,382.71 164.68,382.82 164.78,382.92 164.88,383.01 164.98,383.10 165.09,383.17 165.19,383.23 165.29,383.28 165.40,383.32 165.50,383.35 165.60,383.37 165.70,383.38 165.81,383.38 165.91,383.37 166.01,383.35 166.12,383.32 166.22,383.27 166.32,383.22 166.42,383.16 166.53,383.09 166.63,383.01 166.73,382.91 166.83,382.81 166.94,382.70 167.04,382.57 167.14,382.44 167.25,382.30 167.35,382.14 167.45,381.98 167.55,381.81 167.66,381.62 167.76,381.43 167.86,381.23 167.97,381.01 168.07,380.79 168.17,380.56 168.27,380.31 168.38,380.06 168.48,379.80 168.58,379.53 168.69,379.25 168.79,378.95 168.89,378.65 168.99,378.34 169.10,378.02 169.20,377.69 169.30,377.36 169.41,377.01 169.51,376.65 169.61,376.28 169.71,375.91 169.82,375.52 169.92,375.13 170.02,374.73 170.13,374.32 170.23,373.90 170.33,373.47 170.43,373.03 170.54,372.58 170.64,372.13 170.74,371.67 170.85,371.19 170.95,370.71 171.05,370.23 171.15,369.73 171.26,369.23 171.36,368.71 171.46,368.19 171.57,367.66 171.67,367.13 171.77,366.58 171.87,366.03 171.98,365.47 172.08,364.91 172.18,364.33 172.29,363.75 172.39,363.16 172.49,362.57 172.59,361.97 172.70,361.36 172.80,360.74 172.90,360.12 173.01,359.49 173.11,358.86 173.21,358.21 173.31,357.57 173.42,356.91 173.52,356.25 173.62,355.59 173.73,354.91 173.83,354.24 173.93,353.55 174.03,352.86 174.14,352.17 174.24,351.47 174.34,350.76 174.45,350.05 174.55,349.34 174.65,348.62 174.75,347.89 174.86,347.16 174.96,346.43 175.06,345.69 175.17,344.95 175.27,344.20 175.37,343.45 175.47,342.70 175.58,341.94 175.68,341.17 175.78,340.41 175.88,339.64 175.99,338.87 176.09,338.09 176.19,337.31 176.30,336.53 176.40,335.74 176.50,334.96 176.60,334.17 176.71,333.37 176.81,332.58 176.91,331.78 177.02,330.98 177.12,330.18 177.22,329.38 177.32,328.57 177.43,327.77 177.53,326.96 177.63,326.15 177.74,325.34 177.84,324.53 177.94,323.71 178.04,322.90 178.15,322.09 178.25,321.27 178.35,320.46 178.46,319.64 178.56,318.83 178.66,318.01 178.76,317.20 178.87,316.38 178.97,315.56 179.07,314.75 179.18,313.94 179.28,313.12 179.38,312.31 179.48,311.50 179.59,310.69 179.69,309.88 179.79,309.07 179.90,308.27 180.00,307.46 180.10,306.66 180.20,305.86 180.31,305.06 180.41,304.26 180.51,303.47 180.62,302.67 180.72,301.89 180.82,301.10 180.92,300.31 181.03,299.53 181.13,298.75 181.23,297.98 181.34,297.21 181.44,296.44 181.54,295.67 181.64,294.91 181.75,294.15 181.85,293.40 181.95,292.65 182.06,291.90 182.16,291.16 182.26,290.42 182.36,289.69 182.47,288.96 182.57,288.24 182.67,287.52 182.78,286.80 182.88,286.10 182.98,285.39 183.08,284.69 183.19,284.00 183.29,283.31 183.39,282.63 183.50,281.95 183.60,281.28 183.70,280.62 183.80,279.96 183.91,279.30 184.01,278.66 184.11,278.02 184.22,277.38 184.32,276.75 184.42,276.13 184.52,275.52 184.63,274.91 184.73,274.31 184.83,273.72 184.94,273.13 185.04,272.55 185.14,271.98 185.24,271.41 185.35,270.86 185.45,270.31 185.55,269.76 185.65,269.23 185.76,268.70 185.86,268.18 185.96,267.67 186.07,267.17 186.17,266.68 186.27,266.19 186.37,265.71 186.48,265.24 186.58,264.78 186.68,264.33 186.79,263.88 186.89,263.45 186.99,263.02 187.09,262.60 187.20,262.19 187.30,261.79 187.40,261.40 187.51,261.02 187.61,260.64 187.71,260.28 187.81,259.92 187.92,259.58 188.02,259.24 188.12,258.91 188.23,258.59 188.33,258.29 188.43,257.99 188.53,257.70 188.64,257.42 188.74,257.15 188.84,256.89 188.95,256.64 189.05,256.40 189.15,256.16 189.25,255.94 189.36,255.73 189.46,255.53 189.56,255.34 189.67,255.16 189.77,254.99 189.87,254.82 189.97,254.67 190.08,254.53 190.18,254.40 190.28,254.28 190.39,254.17 190.49,254.07 190.59,253.98 190.69,253.90 190.80,253.83 190.90,253.77 191.00,253.72 191.11,253.68 191.21,253.65 191.31,253.63 191.41,253.62 191.52,253.62 191.62,253.63 191.72,253.66 191.83,253.69 191.93,253.73 192.03,253.78 192.13,253.85 192.24,253.92 192.34,254.00 192.44,254.10 192.55,254.20 192.65,254.31 192.75,254.44 192.85,254.57 192.96,254.72 193.06,254.87 193.16,255.04 193.27,255.21 193.37,255.40 193.47,255.59 193.57,255.79 193.68,256.01 193.78,256.23 193.88,256.47 193.99,256.71 194.09,256.96 194.19,257.23 194.29,257.50 194.40,257.78 194.50,258.08 194.60,258.38 194.70,258.69 194.81,259.01 194.91,259.34 195.01,259.68 195.12,260.03 195.22,260.39 195.32,260.75 195.42,261.13 195.53,261.51 195.63,261.91 195.73,262.31 195.84,262.72 195.94,263.15 196.04,263.58 196.14,264.01 196.25,264.46 196.35,264.92 196.45,265.38 196.56,265.85 196.66,266.33 196.76,266.82 196.86,267.32 196.97,267.83 197.07,268.34 197.17,268.86 197.28,269.39 197.38,269.93 197.48,270.47 197.58,271.02 197.69,271.58 197.79,272.15 197.89,272.72 198.00,273.31 198.10,273.89 198.20,274.49 198.30,275.09 198.41,275.70 198.51,276.32 198.61,276.94 198.72,277.57 198.82,278.21 198.92,278.85 199.02,279.50 199.13,280.15 199.23,280.81 199.33,281.48 199.44,282.15 199.54,282.83 199.64,283.52 199.74,284.21 199.85,284.90 199.95,285.60 200.05,286.31 200.16,287.02 200.26,287.73 200.36,288.45 200.46,289.18 200.57,289.91 200.67,290.64 200.77,291.38 200.88,292.13 200.98,292.87 201.08,293.62 201.18,294.38 201.29,295.14 201.39,295.90 201.49,296.67 201.60,297.44 201.70,298.21 201.80,298.99 201.90,299.77 202.01,300.55 202.11,301.33 202.21,302.12 202.32,302.91 202.42,303.71 202.52,304.50 202.62,305.30 202.73,306.10 202.83,306.90 202.93,307.70 203.04,308.51 203.14,309.31 203.24,310.12 203.34,310.93 203.45,311.74 203.55,312.55 203.65,313.37 203.75,314.18 203.86,314.99 203.96,315.81 204.06,316.62 204.17,317.44 204.27,318.26 204.37,319.07 204.47,319.89 204.58,320.70 204.68,321.52 204.78,322.33 204.89,323.15 204.99,323.96 205.09,324.77 205.19,325.58 205.30,326.39 205.40,327.20 205.50,328.01 205.61,328.81 205.71,329.62 205.81,330.42 205.91,331.22 206.02,332.02 206.12,332.82 206.22,333.61 206.33,334.40 206.43,335.19 206.53,335.98 206.63,336.76 206.74,337.55 206.84,338.32 206.94,339.10 207.05,339.87 207.15,340.64 207.25,341.40 207.35,342.17 207.46,342.92 207.56,343.68 207.66,344.43 207.77,345.17 207.87,345.91 207.97,346.65 208.07,347.38 208.18,348.11 208.28,348.83 208.38,349.55 208.49,350.27 208.59,350.98 208.69,351.68 208.79,352.38 208.90,353.07 209.00,353.76 209.10,354.44 209.21,355.12 209.31,355.79 209.41,356.45 209.51,357.11 209.62,357.76 209.72,358.41 209.82,359.05 209.93,359.68 210.03,360.31 210.13,360.93 210.23,361.54 210.34,362.15 210.44,362.75 210.54,363.34 210.65,363.93 210.75,364.51 210.85,365.08 210.95,365.64 211.06,366.20 211.16,366.75 211.26,367.29 211.37,367.82 211.47,368.35 211.57,368.87 211.67,369.38 211.78,369.88 211.88,370.37 211.98,370.86 212.09,371.34 212.19,371.81 212.29,372.27 212.39,372.72 212.50,373.16 212.60,373.60 212.70,374.02 212.80,374.44 212.91,374.85 213.01,375.25 213.11,375.64 213.22,376.02 213.32,376.40 213.42,376.76 213.52,377.11 213.63,377.46 213.73,377.79 213.83,378.12 213.94,378.44 214.04,378.74 214.14,379.04 214.24,379.33 214.35,379.61 214.45,379.88 214.55,380.14 214.66,380.39 214.76,380.63 214.86,380.86 214.96,381.08 215.07,381.29 215.17,381.49 215.27,381.68 215.38,381.86 215.48,382.03 215.58,382.19 215.68,382.34 215.79,382.48 215.89,382.61 215.99,382.73 216.10,382.84 216.20,382.94 216.30,383.03 216.40,383.11 216.51,383.18 216.61,383.24 216.71,383.29 216.82,383.33 216.92,383.35 217.02,383.37 217.12,383.38 217.23,383.38 217.33,383.36 217.43,383.34 217.54,383.31 217.64,383.26 217.74,383.21 217.84,383.15 217.95,383.07 218.05,382.99 218.15,382.89 218.26,382.79 218.36,382.67 218.46,382.55 218.56,382.41 218.67,382.27 218.77,382.11 218.87,381.95 218.98,381.77 219.08,381.59 219.18,381.39 219.28,381.19 219.39,380.97 219.49,380.74 219.59,380.51 219.70,380.26 219.80,380.01 219.90,379.75 220.00,379.47 220.11,379.19 220.21,378.90 220.31,378.59 220.42,378.28 220.52,377.96 220.62,377.63 220.72,377.29 220.83,376.94 220.93,376.58 221.03,376.21 221.14,375.83 221.24,375.45 221.34,375.05 221.44,374.65 221.55,374.23 221.65,373.81 221.75,373.38 221.85,372.94 221.96,372.49 222.06,372.04 222.16,371.57 222.27,371.10 222.37,370.62 222.47,370.13 222.57,369.63 222.68,369.12 222.78,368.61 222.88,368.09 222.99,367.56 223.09,367.02 223.19,366.47 223.29,365.92 223.40,365.36 223.50,364.79 223.60,364.22 223.71,363.64 223.81,363.05 223.91,362.45 224.01,361.85 224.12,361.24 224.22,360.62 224.32,360.00 224.43,359.37 224.53,358.73 224.63,358.09 224.73,357.44 224.84,356.78 224.94,356.12 225.04,355.45 225.15,354.78 225.25,354.10 225.35,353.41 225.45,352.72 225.56,352.03 225.66,351.33 225.76,350.62 225.87,349.91 225.97,349.19 226.07,348.47 226.17,347.75 226.28,347.02 226.38,346.28 226.48,345.54 226.59,344.80 226.69,344.05 226.79,343.30 226.89,342.54 227.00,341.79 227.10,341.02 227.20,340.26 227.31,339.49 227.41,338.71 227.51,337.94 227.61,337.16 227.72,336.37 227.82,335.59 227.92,334.80 228.03,334.01 228.13,333.22 228.23,332.42 228.33,331.62 228.44,330.82 228.54,330.02 228.64,329.22 228.75,328.41 228.85,327.60 228.95,326.80 229.05,325.99 229.16,325.18 229.26,324.36 229.36,323.55 229.47,322.74 229.57,321.92 229.67,321.11 229.77,320.29 229.88,319.48 229.98,318.66 230.08,317.85 230.19,317.03 230.29,316.22 230.39,315.40 230.49,314.59 230.60,313.77 230.70,312.96 230.80,312.15 230.91,311.34 231.01,310.53 231.11,309.72 231.21,308.91 231.32,308.10 231.42,307.30 231.52,306.50 231.62,305.70 231.73,304.90 231.83,304.10 231.93,303.31 232.04,302.52 232.14,301.73 232.24,300.94 232.34,300.16 232.45,299.38 232.55,298.60 232.65,297.82 232.76,297.05 232.86,296.28 232.96,295.52 233.06,294.76 233.17,294.00 233.27,293.25 233.37,292.50 233.48,291.75 233.58,291.01 233.68,290.28 233.78,289.54 233.89,288.82 233.99,288.09 234.09,287.38 234.20,286.66 234.30,285.95 234.40,285.25 234.50,284.55 234.61,283.86 234.71,283.17 234.81,282.49 234.92,281.82 235.02,281.15 235.12,280.48 235.22,279.83 235.33,279.17 235.43,278.53 235.53,277.89 235.64,277.26 235.74,276.63 235.84,276.01 235.94,275.40 236.05,274.79 236.15,274.19 236.25,273.60 236.36,273.01 236.46,272.44 236.56,271.87 236.66,271.30 236.77,270.75 236.87,270.20 236.97,269.66 237.08,269.12 237.18,268.60 237.28,268.08 237.38,267.57 237.49,267.07 237.59,266.58 237.69,266.09 237.80,265.62 237.90,265.15 238.00,264.69 238.10,264.24 238.21,263.79 238.31,263.36 238.41,262.93 238.52,262.52 238.62,262.11 238.72,261.71 238.82,261.32 238.93,260.94 239.03,260.57 239.13,260.21 239.24,259.85 239.34,259.51 239.44,259.17 239.54,258.85 239.65,258.53 239.75,258.22 239.85,257.93 239.96,257.64 240.06,257.36 240.16,257.09 240.26,256.84 240.37,256.59 240.47,256.35 240.57,256.12 240.67,255.90 240.78,255.69 240.88,255.49 240.98,255.30 241.09,255.12 241.19,254.95 241.29,254.79 241.39,254.64 241.50,254.50 241.60,254.38 241.70,254.26 241.81,254.15 241.91,254.05 242.01,253.96 242.11,253.88 242.22,253.81 242.32,253.76 242.42,253.71 242.53,253.67 242.63,253.64 242.73,253.63 242.83,253.62 242.94,253.62 243.04,253.64 243.14,253.66 243.25,253.70 243.35,253.74 243.45,253.80 243.55,253.86 243.66,253.94 243.76,254.02 243.86,254.12 243.97,254.22 244.07,254.34 244.17,254.46 244.27,254.60 244.38,254.75 244.48,254.90 244.58,255.07 244.69,255.25 244.79,255.43 244.89,255.63 244.99,255.84 245.10,256.05 245.20,256.28 245.30,256.51 245.41,256.76 245.51,257.02 245.61,257.28 245.71,257.56 245.82,257.84 245.92,258.13 246.02,258.44 246.13,258.75 246.23,259.07 246.33,259.41 246.43,259.75 246.54,260.10 246.64,260.46 246.74,260.83 246.85,261.21 246.95,261.59 247.05,261.99 247.15,262.39 247.26,262.81 247.36,263.23 247.46,263.66 247.57,264.10 247.67,264.55 247.77,265.01 247.87,265.47 247.98,265.95 248.08,266.43 248.18,266.92 248.29,267.42 248.39,267.93 248.49,268.44 248.59,268.97 248.70,269.50 248.80,270.03 248.90,270.58 249.01,271.13 249.11,271.70 249.21,272.26 249.31,272.84 249.42,273.42 249.52,274.01 249.62,274.61 249.72,275.21 249.83,275.83 249.93,276.44 250.03,277.07 250.14,277.70 250.24,278.34 250.34,278.98 250.44,279.63 250.55,280.29 250.65,280.95 250.75,281.62 250.86,282.29 250.96,282.97 251.06,283.65 251.16,284.35 251.27,285.04 251.37,285.74 251.47,286.45 251.58,287.16 251.68,287.88 251.78,288.60 251.88,289.33 251.99,290.06 252.09,290.79 252.19,291.53 252.30,292.27 252.40,293.02 252.50,293.78 252.60,294.53 252.71,295.29 252.81,296.05 252.91,296.82 253.02,297.59 253.12,298.37 253.22,299.14 253.32,299.92 253.43,300.71 253.53,301.49 253.63,302.28 253.74,303.07 253.84,303.86 253.94,304.66 254.04,305.46 254.15,306.26 254.25,307.06 254.35,307.86 254.46,308.67 254.56,309.48 254.66,310.28 254.76,311.09 254.87,311.90 254.97,312.72 255.07,313.53 255.18,314.34 255.28,315.16 255.38,315.97 255.48,316.79 255.59,317.60 255.69,318.42 255.79,319.23 255.90,320.05 256.00,320.86 256.10,321.68 256.20,322.49 256.31,323.31 256.41,324.12 256.51,324.93 256.62,325.74 256.72,326.55 256.82,327.36 256.92,328.17 257.03,328.98 257.13,329.78 257.23,330.58 257.34,331.38 257.44,332.18 257.54,332.98 257.64,333.77 257.75,334.56 257.85,335.35 257.95,336.14 258.06,336.92 258.16,337.70 258.26,338.48 258.36,339.25 258.47,340.02 258.57,340.79 258.67,341.56 258.77,342.32 258.88,343.07 258.98,343.83 259.08,344.58 259.19,345.32 259.29,346.06 259.39,346.80 259.49,347.53 259.60,348.26 259.70,348.98 259.80,349.70 259.91,350.41 260.01,351.12 260.11,351.82 260.21,352.52 260.32,353.21 260.42,353.89 260.52,354.58 260.63,355.25 260.73,355.92 260.83,356.58 260.93,357.24 261.04,357.89 261.14,358.54 261.24,359.17 261.35,359.81 261.45,360.43 261.55,361.05 261.65,361.66 261.76,362.27 261.86,362.87 261.96,363.46 262.07,364.04 262.17,364.62 262.27,365.19 262.37,365.75 262.48,366.31 262.58,366.86 262.68,367.40 262.79,367.93 262.89,368.45 262.99,368.97 263.09,369.48 263.20,369.98 263.30,370.47 263.40,370.96 263.51,371.43 263.61,371.90 263.71,372.36 263.81,372.81 263.92,373.25 264.02,373.68 264.12,374.11 264.23,374.52 264.33,374.93 264.43,375.33 264.53,375.72 264.64,376.10 264.74,376.47 264.84,376.83 264.95,377.18 265.05,377.53 265.15,377.86 265.25,378.18 265.36,378.50 265.46,378.81 265.56,379.10 265.67,379.39 265.77,379.66 265.87,379.93 265.97,380.19 266.08,380.44 266.18,380.68 266.28,380.90 266.39,381.12 266.49,381.33 266.59,381.53 266.69,381.72 266.80,381.90 266.90,382.06 267.00,382.22 267.11,382.37 267.21,382.51 267.31,382.64 267.41,382.76 267.52,382.86 267.62,382.96 267.72,383.05 267.82,383.13 267.93,383.19 268.03,383.25 268.13,383.30 268.24,383.33 268.34,383.36 268.44,383.37 268.54,383.38 268.65,383.38 268.75,383.36 268.85,383.34 268.96,383.30 269.06,383.25 269.16,383.20 269.26,383.13 269.37,383.06 269.47,382.97 269.57,382.87 269.68,382.77 269.78,382.65 269.88,382.52 269.98,382.38 270.09,382.24 270.19,382.08 270.29,381.91 270.40,381.74 270.50,381.55 270.60,381.35 270.70,381.14 270.81,380.93 270.91,380.70 271.01,380.46 271.12,380.21 271.22,379.96 271.32,379.69 271.42,379.42 271.53,379.13 271.63,378.84 271.73,378.53 271.84,378.22 271.94,377.89 272.04,377.56 272.14,377.22 272.25,376.87 272.35,376.51 272.45,376.14 272.56,375.76 272.66,375.37 272.76,374.97 272.86,374.56 272.97,374.15 273.07,373.73 273.17,373.29 273.28,372.85 273.38,372.40 273.48,371.95 273.58,371.48 273.69,371.00 273.79,370.52 273.89,370.03 274.00,369.53 274.10,369.02 274.20,368.51 274.30,367.98 274.41,367.45 274.51,366.91 274.61,366.36 274.72,365.81 274.82,365.25 274.92,364.68 275.02,364.10 275.13,363.52 275.23,362.93 275.33,362.33 275.44,361.72 275.54,361.11 275.64,360.49 275.74,359.87 275.85,359.24 275.95,358.60 276.05,357.96 276.16,357.31 276.26,356.65 276.36,355.99 276.46,355.32 276.57,354.64 276.67,353.96 276.77,353.28 276.87,352.59 276.98,351.89 277.08,351.19 277.18,350.48 277.29,349.77 277.39,349.05 277.49,348.33 277.59,347.60 277.70,346.87 277.80,346.13 277.90,345.39 278.01,344.65 278.11,343.90 278.21,343.15 278.31,342.39 278.42,341.63 278.52,340.87 278.62,340.10 278.73,339.33 278.83,338.56 278.93,337.78 279.03,337.00 279.14,336.22 279.24,335.43 279.34,334.64 279.45,333.85 279.55,333.06 279.65,332.26 279.75,331.46 279.86,330.66 279.96,329.86 280.06,329.06 280.17,328.25 280.27,327.44 280.37,326.63 280.47,325.83 280.58,325.01 280.68,324.20 280.78,323.39 280.89,322.58 280.99,321.76 281.09,320.95 281.19,320.13 281.30,319.32 281.40,318.50" fill="none" stroke="#4a6fd0" stroke-width="1.2" stroke-linejoin="round" />
<polyline points="24.40,319.07 24.50,316.34 24.61,316.52 24.71,314.83 24.81,315.86 24.91,313.99 25.02,314.21 25.12,312.42 25.22,311.54 25.33,312.20 25.43,311.10 25.53,310.31 25.63,309.74 25.74,308.42 25.84,307.77 25.94,307.31 26.05,305.46 26.15,304.36 26.25,304.84 26.35,303.53 26.46,302.34 26.56,301.72 26.66,301.27 26.77,299.41 26.87,298.60 26.97,297.94 27.07,297.81 27.18,295.44 27.28,294.84 27.38,295.66 27.49,294.69 27.59,292.95 27.69,293.69 27.79,292.04 27.90,291.56 28.00,291.39 28.10,290.30 28.21,290.60 28.31,289.08 28.41,289.50 28.51,285.51 28.62,285.33 28.72,284.83 28.82,284.86 28.93,283.61 29.03,282.69 29.13,282.21 29.23,281.61 29.34,282.42 29.44,280.66 29.54,280.79 29.64,280.66 29.75,279.99 29.85,278.04 29.95,276.88 30.06,278.28 30.16,275.03 30.26,274.64 30.36,275.60 30.47,275.06 30.57,274.13 30.67,272.63 30.78,273.23 30.88,273.28 30.98,271.45 31.08,272.99 31.19,270.51 31.29,269.07 31.39,269.28 31.50,268.33 31.60,268.05 31.70,267.33 31.80,267.34 31.91,267.72 32.01,266.68 32.11,266.06 32.22,264.38 32.32,263.58 32.42,264.21 32.52,264.84 32.63,264.37 32.73,263.45 32.83,261.57 32.94,262.13 33.04,262.08 33.14,262.34 33.24,260.42 33.35,260.59 33.45,260.54 33.55,260.04 33.66,258.20 33.76,259.59 33.86,257.52 33.96,257.61 34.07,258.42 34.17,257.33 34.27,257.99 34.38,258.37 34.48,257.56 34.58,257.91 34.68,256.30 34.79,256.52 34.89,255.76 34.99,255.28 35.10,257.97 35.20,255.35 35.30,257.19 35.40,255.10 35.51,255.93 35.61,254.82 35.71,253.44 35.82,256.27 35.92,254.29 36.02,254.43 36.12,256.07 36.23,253.50 36.33,254.00 36.43,254.44 36.54,254.57 36.64,251.66 36.74,254.13 36.84,255.45 36.95,254.57 37.05,254.00 37.15,254.00 37.26,253.70 37.36,254.64 37.46,253.11 37.56,254.14 37.67,255.03 37.77,254.54 37.87,254.18 37.98,253.05 38.08,253.48 38.18,254.37 38.28,254.12 38.39,254.04 38.49,252.39 38.59,255.09 38.69,254.18 38.80,254.08 38.90,255.86 39.00,254.92 39.11,255.13 39.21,255.92 39.31,255.12 39.41,254.89 39.52,255.01 39.62,256.51 39.72,256.38 39.83,254.71 39.93,258.12 40.03,257.12 40.13,256.77 40.24,257.76 40.34,257.57 40.44,258.34 40.55,258.10 40.65,257.93 40.75,259.68 40.85,259.63 40.96,260.22 41.06,260.91 41.16,260.92 41.27,262.33 41.37,260.98 41.47,260.49 41.57,260.90 41.68,261.72 41.78,264.20 41.88,262.36 41.99,264.85 42.09,264.69 42.19,263.42 42.29,266.54 42.40,265.28 42.50,266.28 42.60,267.16 42.71,268.31 42.81,267.65 42.91,268.96 43.01,268.14 43.12,268.52 43.22,271.36 43.32,271.13 43.43,271.52 43.53,272.84 43.63,273.35 43.73,272.88 43.84,273.72 43.94,275.55 44.04,275.19 44.15,274.89 44.25,276.97 44.35,277.35 44.45,275.86 44.56,276.72 44.66,279.81 44.76,280.23 44.87,279.45 44.97,281.40 45.07,281.29 45.17,282.12 45.28,281.97 45.38,284.88 45.48,285.56 45.59,285.46 45.69,284.37 45.79,286.01 45.89,287.94 46.00,286.92 46.10,287.47 46.20,288.93 46.31,289.73 46.41,289.87 46.51,290.02 46.61,291.56 46.72,292.02 46.82,293.21 46.92,294.21 47.03,295.36 47.13,295.25 47.23,296.43 47.33,297.15 47.44,297.07 47.54,298.17 47.64,298.68 47.74,301.20 47.85,300.47 47.95,302.06 48.05,303.00 48.16,303.82 48.26,303.19 48.36,304.25 48.46,306.11 48.57,307.19 48.67,307.21 48.77,308.33 48.88,307.73 48.98,310.60 49.08,311.64 49.18,311.42 49.29,312.06 49.39,312.79 49.49,313.21 49.60,313.20 49.70,315.53 49.80,316.47 49.90,318.04 50.01,317.62 50.11,318.06 50.21,319.56 50.32,319.48 50.42,321.01 50.52,320.89 50.62,322.45 50.73,324.14 50.83,324.69 50.93,326.09 51.04,327.04 51.14,326.54 51.24,326.95 51.34,327.03 51.45,329.17 51.55,330.10 51.65,331.49 51.76,330.87 51.86,332.07 51.96,333.55 52.06,333.45 52.17,334.33 52.27,336.83 52.37,335.77 52.48,336.98 52.58,338.14 52.68,338.94 52.78,338.14 52.89,339.06 52.99,339.60 53.09,342.56 53.20,342.96 53.30,342.55 53.40,344.89 53.50,345.27 53.61,346.84 53.71,344.79 53.81,346.13 53.92,347.32 54.02,348.23 54.12,349.45 54.22,350.15 54.33,350.07 54.43,351.82 54.53,350.98 54.64,353.05 54.74,354.05 54.84,352.98 54.94,354.83 55.05,354.93 55.15,356.39 55.25,358.53 55.36,356.92 55.46,359.14 55.56,357.76 55.66,360.60 55.77,361.50 55.87,360.30 55.97,360.81 56.08,361.69 56.18,363.43 56.28,362.22 56.38,364.84 56.49,364.56 56.59,365.42 56.69,365.63 56.79,365.12 56.90,366.98 57.00,366.47 57.10,366.89 57.21,369.55 57.31,369.60 57.41,369.41 57.51,370.11 57.62,369.80 57.72,372.31 57.82,370.40 57.93,370.85 58.03,372.14 58.13,373.71 58.23,372.89 58.34,373.83 58.44,373.25 58.54,374.27 58.65,373.93 58.75,375.41 58.85,374.07 58.95,377.84 59.06,377.12 59.16,376.08 59.26,378.32 59.37,376.56 59.47,378.74 59.57,377.84 59.67,379.11 59.78,378.98 59.88,378.70 59.98,379.26 60.09,379.81 60.19,377.67 60.29,379.98 60.39,381.17 60.50,379.60 60.60,379.94 60.70,379.77 60.81,379.45 60.91,382.27 61.01,380.55 61.11,380.65 61.22,381.93 61.32,381.86 61.42,384.38 61.53,382.95 61.63,380.80 61.73,384.39 61.83,383.30 61.94,382.60 62.04,382.42 62.14,381.48 62.25,384.85 62.35,383.16 62.45,382.42 62.55,384.58 62.66,383.38 62.76,381.53 62.86,382.10 62.97,382.85 63.07,385.51 63.17,383.48 63.27,382.95 63.38,383.59 63.48,383.31 63.58,381.05 63.69,383.33 63.79,383.98 63.89,382.72 63.99,383.16 64.10,383.04 64.20,382.71 64.30,381.75 64.41,382.13 64.51,383.37 64.61,382.18 64.71,381.42 64.82,382.15 64.92,380.40 65.02,380.56 65.13,382.05 65.23,380.57 65.33,378.75 65.43,378.92 65.54,380.22 65.64,379.05 65.74,380.28 65.84,380.74 65.95,378.55 66.05,378.54 66.15,377.98 66.26,378.18 66.36,377.52 66.46,377.97 66.56,376.70 66.67,376.01 66.77,376.49 66.87,375.30 66.98,377.33 67.08,376.02 67.18,373.55 67.28,372.86 67.39,373.84 67.49,373.74 67.59,374.37 67.70,372.43 67.80,371.60 67.90,373.20 68.00,370.88 68.11,370.46 68.21,370.03 68.31,370.94 68.42,368.94 68.52,370.25 68.62,367.08 68.72,367.76 68.83,368.37 68.93,365.62 69.03,365.24 69.14,366.27 69.24,363.22 69.34,365.44 69.44,363.72 69.55,362.38 69.65,364.70 69.75,361.35 69.86,361.66 69.96,361.00 70.06,361.28 70.16,359.47 70.27,360.04 70.37,359.28 70.47,358.20 70.58,358.19 70.68,355.22 70.78,356.94 70.88,355.80 70.99,354.76 71.09,353.82 71.19,352.50 71.30,351.79 71.40,351.99 71.50,351.35 71.60,350.31 71.71,348.98 71.81,348.36 71.91,348.58 72.02,349.04 72.12,345.08 72.22,345.26 72.32,345.05 72.43,344.24 72.53,344.14 72.63,343.75 72.74,342.49 72.84,341.64 72.94,341.17 73.04,341.01 73.15,339.40 73.25,337.99 73.35,337.98 73.46,336.83 73.56,337.52 73.66,335.42 73.76,334.57 73.87,334.54 73.97,334.09 74.07,331.82 74.18,331.85 74.28,330.17 74.38,329.98 74.48,328.48 74.59,328.31 74.69,328.27 74.79,326.53 74.89,325.88 75.00,324.43 75.10,324.33 75.20,323.48 75.31,321.87 75.41,320.87 75.51,320.31 75.61,319.33 75.72,318.87 75.82,317.87 75.92,316.98 76.03,316.46 76.13,315.85 76.23,314.99 76.33,312.87 76.44,313.44 76.54,312.79 76.64,312.06 76.75,311.03 76.85,310.04 76.95,310.14 77.05,309.90 77.16,307.59 77.26,308.06 77.36,306.00 77.47,305.28 77.57,303.79 77.67,302.63 77.77,302.74 77.88,302.59 77.98,302.24 78.08,301.19 78.19,299.82 78.29,300.55 78.39,298.23 78.49,297.52 78.60,296.27 78.70,296.22 78.80,295.14 78.91,295.00 79.01,294.05 79.11,294.28 79.21,292.11 79.32,290.28 79.42,290.59 79.52,289.70 79.63,290.01 79.73,287.41 79.83,288.40 79.93,286.46 80.04,286.29 80.14,286.43 80.24,284.15 80.35,284.26 80.45,283.44 80.55,282.54 80.65,282.24 80.76,281.86 80.86,280.50 80.96,280.55 81.07,279.51 81.17,279.47 81.27,279.52 81.37,278.20 81.48,277.42 81.58,276.37 81.68,274.76 81.79,276.59 81.89,274.44 81.99,275.84 82.09,274.27 82.20,273.22 82.30,274.12 82.40,273.26 82.51,270.94 82.61,270.46 82.71,270.08 82.81,270.15 82.92,267.00 83.02,268.53 83.12,268.65 83.23,265.87 83.33,266.32 83.43,266.72 83.53,264.82 83.64,265.29 83.74,264.38 83.84,264.29 83.95,265.00 84.05,262.73 84.15,263.04 84.25,263.70 84.36,263.06 84.46,261.06 84.56,261.90 84.66,261.12 84.77,260.18 84.87,260.30 84.97,261.49 85.08,259.11 85.18,258.49 85.28,258.22 85.38,257.19 85.49,258.06 85.59,257.37 85.69,256.30 85.80,257.80 85.90,255.60 86.00,255.33 86.10,255.99 86.21,254.73 86.31,255.44 86.41,256.88 86.52,254.72 86.62,255.30 86.72,255.02 86.82,255.08 86.93,253.74 87.03,254.35 87.13,255.41 87.24,254.12 87.34,253.75 87.44,255.03 87.54,254.63 87.65,254.48 87.75,254.60 87.85,253.59 87.96,252.86 88.06,251.95 88.16,252.57 88.26,252.70 88.37,252.55 88.47,252.34 88.57,253.99 88.68,252.95 88.78,253.31 88.88,253.77 88.98,254.12 89.09,254.20 89.19,254.02 89.29,255.02 89.40,253.38 89.50,253.99 89.60,253.96 89.70,253.83 89.81,253.56 89.91,254.96 90.01,254.62 90.12,256.21 90.22,256.93 90.32,256.84 90.42,253.66 90.53,257.08 90.63,255.06 90.73,254.29 90.84,256.36 90.94,254.58 91.04,254.60 91.14,255.71 91.25,254.76 91.35,256.53 91.45,258.08 91.56,257.17 91.66,258.38 91.76,259.49 91.86,259.77 91.97,256.80 92.07,259.71 92.17,259.56 92.28,260.50 92.38,260.11 92.48,260.82 92.58,261.35 92.69,262.48 92.79,263.05 92.89,262.83 93.00,262.28 93.10,261.05 93.20,262.42 93.30,262.16 93.41,263.83 93.51,264.80 93.61,266.38 93.71,265.65 93.82,268.06 93.92,266.88 94.02,265.64 94.13,267.31 94.23,267.11 94.33,268.97 94.43,270.38 94.54,270.12 94.64,270.58 94.74,269.73 94.85,269.61 94.95,272.55 95.05,272.79 95.15,273.18 95.26,273.94 95.36,275.30 95.46,274.75 95.57,275.13 95.67,275.72 95.77,277.69 95.87,277.39 95.98,279.39 96.08,277.81 96.18,280.06 96.29,280.10 96.39,280.90 96.49,281.67 96.59,282.72 96.70,283.97 96.80,281.82 96.90,283.70 97.01,284.39 97.11,283.63 97.21,286.08 97.31,286.28 97.42,287.41 97.52,287.22 97.62,288.48 97.73,289.35 97.83,290.52 97.93,290.85 98.03,290.92 98.14,294.12 98.24,293.40 98.34,294.36 98.45,295.03 98.55,297.03 98.65,295.80 98.75,297.72 98.86,298.04 98.96,299.02 99.06,300.63 99.17,300.53 99.27,302.30 99.37,302.45 99.47,302.79 99.58,303.37 99.68,304.12 99.78,305.05 99.89,304.30 99.99,306.26 100.09,308.18 100.19,308.57 100.30,309.40 100.40,309.89 100.50,310.98 100.61,311.95 100.71,311.15 100.81,312.99 100.91,314.05 101.02,314.81 101.12,315.60 101.22,315.41 101.33,316.80 101.43,317.22 101.53,320.09 101.63,319.34 101.74,319.70 101.84,319.94 101.94,321.97 102.05,323.88 102.15,323.24 102.25,324.81 102.35,326.39 102.46,326.45 102.56,326.16 102.66,326.87 102.76,327.99 102.87,329.97 102.97,328.62 103.07,331.67 103.18,331.73 103.28,333.47 103.38,332.36 103.48,333.75 103.59,334.23 103.69,335.58 103.79,336.47 103.90,337.08 104.00,339.34 104.10,338.04 104.20,338.87 104.31,340.59 104.41,341.08 104.51,341.61 104.62,341.42 104.72,343.02 104.82,344.06 104.92,345.23 105.03,346.73 105.13,346.78 105.23,347.00 105.34,347.98 105.44,348.45 105.54,348.65 105.64,349.61 105.75,350.44 105.85,350.84 105.95,351.91 106.06,352.78 106.16,353.07 106.26,355.53 106.36,353.79 106.47,356.53 106.57,355.46 106.67,356.80 106.78,356.55 106.88,358.08 106.98,359.54 107.08,358.49 107.19,359.86 107.29,360.54 107.39,361.19 107.50,361.01 107.60,361.77 107.70,362.86 107.80,364.99 107.91,364.58 108.01,364.71 108.11,363.81 108.22,365.60 108.32,366.56 108.42,365.97 108.52,367.66 108.63,368.12 108.73,368.47 108.83,370.46 108.94,368.77 109.04,369.75 109.14,370.87 109.24,372.13 109.35,371.38 109.45,370.76 109.55,373.07 109.66,373.91 109.76,372.99 109.86,375.27 109.96,376.27 110.07,375.05 110.17,375.68 110.27,375.69 110.38,376.33 110.48,375.88 110.58,376.77 110.68,377.48 110.79,377.70 110.89,377.01 110.99,377.03 111.10,377.40 111.20,377.91 111.30,381.01 111.40,380.11 111.51,379.74 111.61,379.52 111.71,381.52 111.81,378.87 111.92,380.19 112.02,381.31 112.12,380.78 112.23,381.48 112.33,382.08 112.43,381.06 112.53,382.17 112.64,383.27 112.74,382.68 112.84,382.34 112.95,383.41 113.05,381.28 113.15,383.68 113.25,381.04 113.36,381.98 113.46,383.85 113.56,382.89 113.67,381.94 113.77,383.34 113.87,384.37 113.97,383.14 114.08,381.35 114.18,384.75 114.28,382.78 114.39,383.31 114.49,383.42 114.59,383.67 114.69,383.57 114.80,382.21 114.90,382.59 115.00,384.08 115.11,381.52 115.21,384.22 115.31,382.22 115.41,382.59 115.52,381.49 115.62,382.19 115.72,381.38 115.83,382.28 115.93,381.17 116.03,381.61 116.13,379.72 116.24,382.26 116.34,380.25 116.44,380.75 116.55,380.82 116.65,381.31 116.75,380.11 116.85,381.70 116.96,381.35 117.06,379.10 117.16,380.99 117.27,377.87 117.37,379.20 117.47,378.41 117.57,378.27 117.68,377.62 117.78,377.95 117.88,377.70 117.99,377.13 118.09,375.67 118.19,375.23 118.29,374.73 118.40,375.19 118.50,375.33 118.60,376.29 118.71,373.74 118.81,373.14 118.91,373.85 119.01,372.31 119.12,371.43 119.22,372.07 119.32,370.73 119.43,370.94 119.53,372.31 119.63,370.68 119.73,370.13 119.84,368.78 119.94,369.52 120.04,368.62 120.15,368.55 120.25,367.20 120.35,366.56 120.45,365.22 120.56,364.82 120.66,364.81 120.76,364.17 120.86,363.71 120.97,363.12 121.07,361.30 121.17,363.97 121.28,361.56 121.38,360.54 121.48,359.23 121.58,360.47 121.69,358.63 121.79,357.56 121.89,358.00 122.00,358.55 122.10,356.62 122.20,356.64 122.30,354.46 122.41,355.00 122.51,352.19 122.61,352.83 122.72,352.89 122.82,351.95 122.92,351.71 123.02,349.83 123.13,348.25 123.23,348.87 123.33,347.26 123.44,347.98 123.54,346.28 123.64,344.16 123.74,346.10 123.85,343.36 123.95,342.66 124.05,344.19 124.16,343.10 124.26,341.99 124.36,339.80 124.46,340.05 124.57,339.09 124.67,337.68 124.77,337.33 124.88,336.47 124.98,336.07 125.08,334.27 125.18,334.81 125.29,332.32 125.39,332.92 125.49,332.44 125.60,330.65 125.70,329.99 125.80,330.82 125.90,328.54 126.01,328.77 126.11,327.62 126.21,325.75 126.32,326.01 126.42,324.41 126.52,324.07 126.62,321.79 126.73,322.26 126.83,322.12 126.93,321.26 127.04,320.32 127.14,318.87 127.24,318.13 127.34,316.72 127.45,316.40 127.55,315.60 127.65,314.67 127.76,314.14 127.86,313.06 127.96,311.93 128.06,311.11 128.17,311.16 128.27,311.16 128.37,309.72 128.48,308.20 128.58,309.09 128.68,307.10 128.78,305.67 128.89,305.56 128.99,305.15 129.09,302.37 129.20,301.83 129.30,302.18 129.40,300.28 129.50,299.51 129.61,300.45 129.71,297.33 129.81,298.77 129.92,297.51 130.02,297.35 130.12,295.73 130.22,295.99 130.33,294.27 130.43,292.70 130.53,292.60 130.63,292.21 130.74,290.09 130.84,291.21 130.94,289.05 131.05,289.30 131.15,288.17 131.25,287.60 131.35,286.81 131.46,286.24 131.56,286.11 131.66,285.24 131.77,283.74 131.87,283.50 131.97,283.67 132.07,282.62 132.18,281.94 132.28,280.76 132.38,279.90 132.49,279.32 132.59,279.29 132.69,278.09 132.79,278.62 132.90,278.73 133.00,276.27 133.10,277.01 133.21,275.81 133.31,275.43 133.41,273.26 133.51,274.26 133.62,272.40 133.72,272.49 133.82,272.58 133.93,272.32 134.03,269.98 134.13,269.51 134.23,268.63 134.34,267.16 134.44,268.02 134.54,267.50 134.65,267.36 134.75,266.66 134.85,266.58 134.95,266.60 135.06,263.51 135.16,266.55 135.26,264.17 135.37,263.55 135.47,263.38 135.57,263.97 135.67,262.85 135.78,262.69 135.88,262.85 135.98,261.51 136.09,261.46 136.19,261.22 136.29,259.70 136.39,260.98 136.50,259.23 136.60,259.88 136.70,258.57 136.81,258.59 136.91,258.12 137.01,258.97 137.11,258.49 137.22,258.29 137.32,257.04 137.42,256.23 137.53,255.66 137.63,256.92 137.73,256.13 137.83,257.54 137.94,257.89 138.04,256.41 138.14,256.02 138.25,256.70 138.35,256.74 138.45,254.35 138.55,255.49 138.66,256.19 138.76,252.29 138.86,254.15 138.97,254.51 139.07,253.45 139.17,254.75 139.27,252.39 139.38,255.35 139.48,255.06 139.58,253.88 139.68,254.45 139.79,252.31 139.89,255.21 139.99,254.35 140.10,253.41 140.20,253.11 140.30,252.70 140.40,253.37 140.51,251.61 140.61,254.26 140.71,253.69 140.82,253.10 140.92,254.32 141.02,254.39 141.12,254.66 141.23,254.95 141.33,255.54 141.43,255.11 141.54,256.22 141.64,254.51 141.74,256.57 141.84,253.23 141.95,253.76 142.05,254.53 142.15,255.99 142.26,256.57 142.36,255.06 142.46,256.29 142.56,256.17 142.67,257.64 142.77,256.20 142.87,258.25 142.98,257.67 143.08,259.69 143.18,258.98 143.28,258.20 143.39,259.41 143.49,259.74 143.59,258.92 143.70,260.07 143.80,259.20 143.90,262.73 144.00,260.57 144.11,261.01 144.21,263.30 144.31,263.47 144.42,261.88 144.52,264.09 144.62,264.12 144.72,263.43 144.83,264.72 144.93,264.44 145.03,266.12 145.14,265.54 145.24,265.31 145.34,266.48 145.44,269.19 145.55,267.19 145.65,268.23 145.75,269.60 145.86,268.10 145.96,271.40 146.06,268.77 146.16,271.51 146.27,270.15 146.37,272.12 146.47,273.80 146.58,273.15 146.68,273.54 146.78,273.95 146.88,274.12 146.99,276.38 147.09,275.83 147.19,276.24 147.30,277.72 147.40,278.90 147.50,279.56 147.60,278.80 147.71,279.41 147.81,281.40 147.91,282.48 148.02,281.06 148.12,283.99 148.22,283.30 148.32,284.76 148.43,286.20 148.53,285.41 148.63,286.36 148.73,285.79 148.84,285.87 148.94,288.50 149.04,288.29 149.15,289.01 149.25,290.94 149.35,291.93 149.45,290.80 149.56,293.04 149.66,293.53 149.76,294.49 149.87,295.13 149.97,296.23 150.07,296.01 150.17,296.41 150.28,298.36 150.38,299.86 150.48,299.61 150.59,301.48 150.69,301.67 150.79,301.14 150.89,301.22 151.00,303.33 151.10,305.11 151.20,304.65 151.31,307.43 151.41,307.24 151.51,306.56 151.61,307.89 151.72,310.10 151.82,311.08 151.92,310.25 152.03,311.65 152.13,312.81 152.23,312.98 152.33,314.42 152.44,316.07 152.54,315.18 152.64,316.90 152.75,317.93 152.85,318.94 152.95,318.79 153.05,320.25 153.16,320.19 153.26,321.55 153.36,321.53 153.47,323.26 153.57,324.25 153.67,325.90 153.77,326.16 153.88,325.80 153.98,325.60 154.08,328.71 154.19,329.38 154.29,329.27 154.39,329.98 154.49,331.56 154.60,331.85 154.70,333.80 154.80,333.70 154.91,333.66 155.01,333.93 155.11,335.98 155.21,336.83 155.32,337.11 155.42,337.42 155.52,338.63 155.63,340.30 155.73,340.27 155.83,340.58 155.93,342.58 156.04,343.80 156.14,343.19 156.24,344.04 156.35,344.34 156.45,345.74 156.55,347.04 156.65,347.61 156.76,348.80 156.86,349.46 156.96,349.89 157.07,350.54 157.17,350.00 157.27,352.55 157.37,352.32 157.48,353.44 157.58,352.47 157.68,354.13 157.78,355.32 157.89,355.03 157.99,356.30 158.09,357.41 158.20,356.41 158.30,357.73 158.40,357.52 158.50,358.63 158.61,359.57 158.71,360.73 158.81,362.38 158.92,361.47 159.02,362.61 159.12,362.69 159.22,363.86 159.33,365.03 159.43,365.87 159.53,364.96 159.64,365.00 159.74,366.93 159.84,366.82 159.94,366.54 160.05,369.02 160.15,369.10 160.25,370.31 160.36,368.77 160.46,370.08 160.56,371.22 160.66,372.77 160.77,371.91 160.87,371.31 160.97,372.94 161.08,373.50 161.18,372.96 161.28,375.10 161.38,374.35 161.49,374.26 161.59,375.93 161.69,376.37 161.80,375.75 161.90,376.45 162.00,376.94 162.10,376.89 162.21,377.22 162.31,378.63 162.41,378.72 162.52,377.99 162.62,377.67 162.72,377.74 162.82,380.11 162.93,378.56 163.03,379.14 163.13,380.15 163.24,379.91 163.34,379.83 163.44,379.15 163.54,382.07 163.65,380.71 163.75,381.62 163.85,381.87 163.96,380.76 164.06,381.25 164.16,383.17 164.26,382.62 164.37,382.27 164.47,383.98 164.57,381.91 164.68,382.92 164.78,382.80 164.88,382.72 164.98,381.39 165.09,383.16 165.19,383.60 165.29,381.63 165.40,383.83 165.50,383.89 165.60,384.74 165.70,382.37 165.81,383.15 165.91,382.94 166.01,383.22 166.12,383.48 166.22,384.06 166.32,384.00 166.42,382.77 166.53,383.00 166.63,381.47 166.73,383.67 166.83,383.31 166.94,383.70 167.04,381.28 167.14,383.65 167.25,381.59 167.35,380.80 167.45,382.14 167.55,381.14 167.66,383.68 167.76,381.83 167.86,382.83 167.97,380.88 168.07,380.81 168.17,381.31 168.27,379.45 168.38,379.75 168.48,380.32 168.58,380.04 168.69,380.65 168.79,379.15 168.89,376.70 168.99,379.03 169.10,377.66 169.20,378.23 169.30,376.63 169.41,376.62 169.51,376.89 169.61,377.95 169.71,376.41 169.82,374.45 169.92,375.38 170.02,374.18 170.13,374.78 170.23,375.62 170.33,373.10 170.43,372.76 170.54,373.13 170.64,372.49 170.74,371.43 170.85,371.75 170.95,370.43 171.05,370.43 171.15,371.70 171.26,369.37 171.36,369.26 171.46,368.95 171.57,367.33 171.67,367.57 171.77,366.14 171.87,365.11 171.98,365.37 172.08,366.26 172.18,364.98 172.29,362.99 172.39,363.40 172.49,363.27 172.59,362.06 172.70,360.96 172.80,360.55 172.90,359.60 173.01,360.19 173.11,359.10 173.21,358.44 173.31,357.60 173.42,358.64 173.52,356.46 173.62,356.69 173.73,353.81 173.83,353.01 173.93,352.23 174.03,352.24 174.14,352.57 174.24,350.73 174.34,350.94 174.45,349.59 174.55,350.05 174.65,349.08 174.75,347.55 174.86,345.83 174.96,346.46 175.06,344.02 175.17,343.28 175.27,345.17 175.37,343.48 175.47,343.41 175.58,342.05 175.68,341.58 175.78,340.47 175.88,338.96 175.99,338.21 176.09,337.92 176.19,337.32 176.30,336.46 176.40,335.67 176.50,334.57 176.60,334.17 176.71,333.04 176.81,333.48 176.91,331.26 177.02,329.82 177.12,330.07 177.22,330.32 177.32,327.69 177.43,327.99 177.53,328.40 177.63,326.30 177.74,324.96 177.84,324.29 177.94,322.94 178.04,322.52 178.15,322.02 178.25,322.50 178.35,321.15 178.46,319.54 178.56,318.43 178.66,318.64 178.76,317.58 178.87,316.10 178.97,316.75 179.07,315.97 179.18,314.09 179.28,312.97 179.38,312.62 179.48,312.92 179.59,310.68 179.69,310.75 179.79,308.65 179.90,308.34 180.00,307.29 180.10,306.24 180.20,306.22 180.31,304.51 180.41,303.42 180.51,303.20 180.62,301.77 180.72,302.33 180.82,300.47 180.92,300.13 181.03,300.24 181.13,298.82 181.23,298.37 181.34,297.61 181.44,296.38 181.54,294.91 181.64,295.15 181.75,294.07 181.85,294.50 181.95,292.58 182.06,291.05 182.16,290.56 182.26,290.07 182.36,290.10 182.47,289.72 182.57,288.32 182.67,288.56 182.78,287.77 182.88,285.37 182.98,286.12 183.08,283.28 183.19,285.14 183.29,282.98 183.39,283.58 183.50,281.82 183.60,282.13 183.70,280.59 183.80,280.09 183.91,279.68 184.01,278.24 184.11,276.78 184.22,277.88 184.32,276.03 184.42,276.07 184.52,275.55 184.63,273.07 184.73,276.16 184.83,274.31 184.94,274.69 185.04,272.83 185.14,272.19 185.24,269.49 185.35,270.57 185.45,268.75 185.55,268.64 185.65,269.63 185.76,268.29 185.86,266.72 185.96,267.53 186.07,267.00 186.17,266.24 186.27,267.54 186.37,266.45 186.48,264.95 186.58,264.30 186.68,265.17 186.79,264.19 186.89,263.57 186.99,263.17 187.09,261.98 187.20,262.10 187.30,261.65 187.40,262.71 187.51,262.00 187.61,260.36 187.71,261.77 187.81,259.68 187.92,260.20 188.02,260.01 188.12,258.32 188.23,259.24 188.33,259.11 188.43,258.64 188.53,257.66 188.64,255.32 188.74,259.17 188.84,256.92 188.95,256.88 189.05,255.51 189.15,256.53 189.25,258.06 189.36,254.48 189.46,256.59 189.56,255.42 189.67,256.49 189.77,256.06 189.87,255.32 189.97,253.87 190.08,253.74 190.18,255.00 190.28,253.82 190.39,254.55 190.49,253.98 190.59,253.85 190.69,253.32 190.80,254.44 190.90,253.92 191.00,253.53 191.11,253.61 191.21,254.44 191.31,251.99 191.41,254.09 191.52,252.92 191.62,253.46 191.72,252.50 191.83,255.83 191.93,251.78 192.03,254.02 192.13,255.06 192.24,253.82 192.34,251.87 192.44,253.64 192.55,255.42 192.65,254.79 192.75,253.18 192.85,255.95 192.96,254.92 193.06,255.18 193.16,252.99 193.27,255.52 193.37,254.17 193.47,256.27 193.57,256.59 193.68,255.08 193.78,255.67 193.88,258.14 193.99,256.13 194.09,256.38 194.19,257.84 194.29,257.32 194.40,257.56 194.50,258.56 194.60,258.96 194.70,259.35 194.81,259.29 194.91,260.61 195.01,259.75 195.12,261.45 195.22,260.35 195.32,260.86 195.42,262.12 195.53,260.76 195.63,260.16 195.73,261.13 195.84,264.01 195.94,262.01 196.04,263.41 196.14,264.09 196.25,265.03 196.35,264.95 196.45,264.16 196.56,265.39 196.66,266.73 196.76,267.45 196.86,267.72 196.97,267.34 197.07,266.72 197.17,269.82 197.28,269.42 197.38,270.29 197.48,271.16 197.58,270.71 197.69,271.14 197.79,273.40 197.89,273.64 198.00,272.31 198.10,273.65 198.20,274.08 198.30,275.55 198.41,276.05 198.51,275.96 198.61,277.39 198.72,278.52 198.82,278.24 198.92,278.13 199.02,280.37 199.13,279.32 199.23,280.27 199.33,282.21 199.44,282.18 199.54,282.89 199.64,283.04 199.74,283.70 199.85,285.96 199.95,286.69 200.05,285.53 200.16,286.96 200.26,287.44 200.36,288.22 200.46,288.03 200.57,290.85 200.67,289.84 200.77,292.03 200.88,291.61 200.98,291.90 201.08,294.67 201.18,294.11 201.29,295.37 201.39,296.14 201.49,296.66 201.60,298.22 201.70,298.92 201.80,298.54 201.90,299.19 202.01,300.97 202.11,302.37 202.21,300.58 202.32,302.18 202.42,303.48 202.52,305.22 202.62,305.71 202.73,305.96 202.83,307.56 202.93,306.67 203.04,308.44 203.14,309.08 203.24,310.81 203.34,311.54 203.45,312.27 203.55,312.40 203.65,313.56 203.75,314.38 203.86,314.82 203.96,315.69 204.06,315.74 204.17,317.58 204.27,318.89 204.37,319.10 204.47,319.02 204.58,321.06 204.68,321.51 204.78,322.57 204.89,322.91 204.99,323.82 205.09,325.31 205.19,325.75 205.30,325.81 205.40,326.51 205.50,327.43 205.61,328.27 205.71,329.86 205.81,330.69 205.91,330.62 206.02,332.83 206.12,332.88 206.22,334.90 206.33,334.69 206.43,335.70 206.53,336.84 206.63,336.38 206.74,338.09 206.84,338.61 206.94,339.31 207.05,340.42 207.15,339.64 207.25,341.79 207.35,342.05 207.46,343.90 207.56,344.05 207.66,344.69 207.77,345.43 207.87,346.38 207.97,346.57 208.07,346.23 208.18,348.24 208.28,348.97 208.38,349.88 208.49,348.54 208.59,349.75 208.69,351.27 208.79,351.85 208.90,353.66 209.00,353.90 209.10,354.30 209.21,355.05 209.31,356.50 209.41,357.11 209.51,356.72 209.62,357.53 209.72,360.16 209.82,359.00 209.93,358.66 210.03,360.87 210.13,360.76 210.23,362.78 210.34,361.48 210.44,363.71 210.54,364.43 210.65,364.22 210.75,362.60 210.85,365.63 210.95,366.75 211.06,365.83 211.16,366.58 211.26,365.88 211.37,368.95 211.47,369.77 211.57,369.17 211.67,369.07 211.78,369.59 211.88,369.44 211.98,372.21 212.09,372.10 212.19,371.95 212.29,371.54 212.39,372.32 212.50,373.57 212.60,374.54 212.70,373.26 212.80,373.61 212.91,372.81 213.01,375.44 213.11,374.19 213.22,377.16 213.32,376.92 213.42,377.41 213.52,377.57 213.63,378.29 213.73,378.32 213.83,378.20 213.94,378.88 214.04,378.16 214.14,379.15 214.24,379.36 214.35,378.26 214.45,379.61 214.55,380.02 214.66,380.43 214.76,380.60 214.86,380.35 214.96,381.86 215.07,380.24 215.17,380.04 215.27,380.62 215.38,382.35 215.48,383.57 215.58,382.63 215.68,382.22 215.79,381.72 215.89,382.81 215.99,383.05 216.10,381.42 216.20,383.61 216.30,382.05 216.40,382.28 216.51,384.47 216.61,383.00 216.71,383.85 216.82,384.26 216.92,385.15 217.02,384.89 217.12,383.01 217.23,383.78 217.33,383.13 217.43,384.38 217.54,383.64 217.64,383.55 217.74,384.71 217.84,384.76 217.95,382.68 218.05,382.88 218.15,383.81 218.26,382.91 218.36,382.07 218.46,380.84 218.56,383.28 218.67,381.71 218.77,380.14 218.87,381.91 218.98,380.41 219.08,383.70 219.18,380.05 219.28,381.22 219.39,382.76 219.49,380.04 219.59,379.55 219.70,379.16 219.80,378.92 219.90,379.80 220.00,380.20 220.11,379.65 220.21,378.96 220.31,378.24 220.42,378.75 220.52,377.94 220.62,376.85 220.72,377.01 220.83,374.88 220.93,374.63 221.03,377.29 221.14,376.38 221.24,376.67 221.34,376.14 221.44,374.18 221.55,375.16 221.65,374.78 221.75,373.65 221.85,372.25 221.96,372.84 222.06,372.38 222.16,370.78 222.27,370.71 222.37,370.24 222.47,369.32 222.57,370.55 222.68,368.96 222.78,369.19 222.88,367.22 222.99,366.87 223.09,367.95 223.19,365.35 223.29,366.95 223.40,364.38 223.50,364.64 223.60,364.98 223.71,364.61 223.81,363.33 223.91,362.50 224.01,362.47 224.12,360.79 224.22,361.81 224.32,360.03 224.43,359.39 224.53,360.29 224.63,357.86 224.73,358.49 224.84,358.59 224.94,356.64 225.04,355.66 225.15,354.08 225.25,354.51 225.35,352.27 225.45,351.61 225.56,351.20 225.66,350.32 225.76,350.37 225.87,350.36 225.97,348.72 226.07,347.76 226.17,347.59 226.28,347.23 226.38,347.49 226.48,345.06 226.59,344.56 226.69,345.04 226.79,343.25 226.89,342.04 227.00,341.89 227.10,340.48 227.20,339.73 227.31,340.56 227.41,338.95 227.51,337.61 227.61,336.53 227.72,335.41 227.82,336.94 227.92,334.87 228.03,333.54 228.13,332.40 228.23,331.30 228.33,332.27 228.44,331.09 228.54,330.74 228.64,328.70 228.75,329.30 228.85,326.85 228.95,326.21 229.05,325.69 229.16,326.58 229.26,324.81 229.36,323.10 229.47,323.64 229.57,322.09 229.67,321.19 229.77,319.77 229.88,319.33 229.98,318.52 230.08,318.13 230.19,317.05 230.29,316.32 230.39,314.97 230.49,314.72 230.60,313.14 230.70,314.05 230.80,311.40 230.91,311.47 231.01,309.82 231.11,309.68 231.21,308.37 231.32,307.14 231.42,307.69 231.52,306.47 231.62,305.83 231.73,304.78 231.83,305.23 231.93,303.45 232.04,302.71 232.14,302.30 232.24,301.10 232.34,301.26 232.45,298.41 232.55,298.30 232.65,296.50 232.76,297.71 232.86,297.15 232.96,295.34 233.06,296.01 233.17,293.86 233.27,293.79 233.37,292.77 233.48,291.59 233.58,291.00 233.68,288.89 233.78,289.09 233.89,289.83 233.99,287.37 234.09,288.44 234.20,286.62 234.30,286.96 234.40,285.93 234.50,283.54 234.61,284.33 234.71,283.72 234.81,282.97 234.92,282.10 235.02,280.01 235.12,281.47 235.22,280.86 235.33,278.73 235.43,279.87 235.53,278.22 235.64,276.35 235.74,276.66 235.84,276.44 235.94,276.03 236.05,275.60 236.15,274.73 236.25,273.52 236.36,271.99 236.46,271.64 236.56,272.39 236.66,271.97 236.77,270.18 236.87,271.81 236.97,270.08 237.08,269.45 237.18,269.61 237.28,269.00 237.38,267.31 237.49,268.58 237.59,267.43 237.69,266.72 237.80,265.59 237.90,266.42 238.00,263.76 238.10,264.56 238.21,264.08 238.31,263.74 238.41,263.60 238.52,263.46 238.62,261.11 238.72,261.58 238.82,261.48 238.93,260.08 239.03,261.28 239.13,259.68 239.24,259.89 239.34,260.39 239.44,258.53 239.54,260.30 239.65,257.99 239.75,259.11 239.85,257.61 239.96,256.41 240.06,256.89 240.16,257.73 240.26,256.93 240.37,257.00 240.47,257.52 240.57,257.23 240.67,255.93 240.78,255.25 240.88,257.24 240.98,255.44 241.09,254.71 241.19,254.92 241.29,255.82 241.39,253.73 241.50,255.74 241.60,253.84 241.70,252.81 241.81,256.18 241.91,253.88 242.01,253.74 242.11,253.75 242.22,254.63 242.32,254.14 242.42,255.13 242.53,253.63 242.63,253.22 242.73,254.35 242.83,254.59 242.94,254.16 243.04,253.73 243.14,253.69 243.25,253.88 243.35,253.76 243.45,255.14 243.55,256.00 243.66,253.44 243.76,252.76 243.86,255.56 243.97,254.95 244.07,254.14 244.17,253.65 244.27,254.08 244.38,253.63 244.48,255.05 244.58,254.77 244.69,254.95 244.79,255.93 244.89,254.59 244.99,255.34 245.10,255.22 245.20,256.74 245.30,255.64 245.41,257.84 245.51,256.74 245.61,259.38 245.71,258.59 245.82,257.25 245.92,258.65 246.02,258.37 246.13,260.35 246.23,257.74 246.33,258.95 246.43,259.86 246.54,259.81 246.64,260.25 246.74,259.63 246.85,261.10 246.95,263.02 247.05,262.31 247.15,261.33 247.26,262.39 247.36,263.70 247.46,263.21 247.57,264.09 247.67,264.10 247.77,266.51 247.87,266.36 247.98,265.45 248.08,266.72 248.18,266.70 248.29,265.79 248.39,268.29 248.49,268.32 248.59,269.54 248.70,270.12 248.80,270.19 248.90,271.91 249.01,273.02 249.11,270.62 249.21,272.44 249.31,271.98 249.42,273.41 249.52,273.97 249.62,274.13 249.72,274.70 249.83,276.91 249.93,275.53 250.03,277.95 250.14,277.62 250.24,276.50 250.34,279.00 250.44,278.36 250.55,280.65 250.65,280.54 250.75,281.66 250.86,282.04 250.96,283.72 251.06,284.46 251.16,284.16 251.27,286.34 251.37,286.47 251.47,286.03 251.58,287.71 251.68,288.63 251.78,289.52 251.88,289.29 251.99,290.40 252.09,290.75 252.19,291.75 252.30,290.98 252.40,293.42 252.50,295.28 252.60,294.52 252.71,295.36 252.81,296.01 252.91,298.04 253.02,296.86 253.12,298.46 253.22,299.24 253.32,301.09 253.43,300.45 253.53,301.61 253.63,301.43 253.74,303.42 253.84,304.76 253.94,304.64 254.04,306.13 254.15,306.05 254.25,307.84 254.35,308.01 254.46,308.88 254.56,309.56 254.66,310.68 254.76,311.67 254.87,312.01 254.97,313.14 255.07,313.50 255.18,314.57 255.28,316.54 255.38,316.07 255.48,316.01 255.59,317.48 255.69,318.12 255.79,319.02 255.90,320.39 256.00,321.73 256.10,321.25 256.20,321.91 256.31,323.02 256.41,323.92 256.51,324.75 256.62,325.82 256.72,326.44 256.82,327.42 256.92,328.03 257.03,329.65 257.13,330.25 257.23,330.28 257.34,331.67 257.44,333.69 257.54,332.96 257.64,335.30 257.75,333.34 257.85,334.93 257.95,335.75 258.06,337.45 258.16,338.55 258.26,338.70 258.36,339.31 258.47,340.64 258.57,340.75 258.67,341.14 258.77,341.96 258.88,343.89 258.98,345.46 259.08,344.64 259.19,345.87 259.29,345.80 259.39,345.66 259.49,346.38 259.60,348.11 259.70,348.22 259.80,348.53 259.91,350.44 260.01,350.98 260.11,351.24 260.21,352.61 260.32,353.66 260.42,354.55 260.52,354.64 260.63,355.81 260.73,355.36 260.83,356.92 260.93,356.15 261.04,357.00 261.14,359.59 261.24,358.38 261.35,360.20 261.45,359.40 261.55,360.70 261.65,361.77 261.76,361.79 261.86,363.39 261.96,363.26 262.07,363.79 262.17,364.81 262.27,364.94 262.37,366.65 262.48,365.91 262.58,367.94 262.68,366.94 262.79,367.59 262.89,367.92 262.99,369.51 263.09,367.51 263.20,370.24 263.30,370.40 263.40,371.67 263.51,370.26 263.61,372.37 263.71,371.55 263.81,373.69 263.92,373.04 264.02,374.06 264.12,373.35 264.23,374.83 264.33,375.75 264.43,374.98 264.53,376.83 264.64,377.00 264.74,375.84 264.84,378.55 264.95,376.56 265.05,377.93 265.15,378.73 265.25,378.02 265.36,377.98 265.46,379.38 265.56,379.31 265.67,378.71 265.77,379.03 265.87,380.02 265.97,380.93 266.08,381.34 266.18,381.26 266.28,380.33 266.39,380.64 266.49,381.09 266.59,380.30 266.69,382.03 266.80,382.28 266.90,382.45 267.00,380.51 267.11,384.29 267.21,382.28 267.31,382.26 267.41,382.73 267.52,380.76 267.62,381.92 267.72,382.37 267.82,383.98 267.93,382.77 268.03,383.62 268.13,383.28 268.24,383.18 268.34,383.83 268.44,382.82 268.54,381.91 268.65,382.45 268.75,383.19 268.85,385.13 268.96,382.33 269.06,382.29 269.16,383.40 269.26,383.59 269.37,382.47 269.47,383.73 269.57,382.16 269.68,383.77 269.78,383.51 269.88,382.52 269.98,383.73 270.09,382.25 270.19,381.61 270.29,383.12 270.40,380.91 270.50,382.07 270.60,380.87 270.70,380.96 270.81,381.35 270.91,381.18 271.01,382.01 271.12,380.85 271.22,380.66 271.32,378.23 271.42,378.52 271.53,380.36 271.63,378.13 271.73,378.34 271.84,378.56 271.94,377.49 272.04,376.87 272.14,377.73 272.25,377.11 272.35,376.37 272.45,377.00 272.56,375.60 272.66,375.44 272.76,375.57 272.86,375.30 272.97,373.89 273.07,372.98 273.17,373.01 273.28,373.59 273.38,371.77 273.48,371.80 273.58,370.98 273.69,370.02 273.79,371.29 273.89,370.15 274.00,370.03 274.10,369.75 274.20,366.84 274.30,367.21 274.41,368.91 274.51,366.56 274.61,366.82 274.72,364.87 274.82,365.18 274.92,364.82 275.02,363.99 275.13,363.21 275.23,362.91 275.33,362.51 275.44,361.84 275.54,360.71 275.64,361.39 275.74,359.87 275.85,359.33 275.95,358.98 276.05,357.39 276.16,358.30 276.26,356.93 276.36,356.64 276.46,354.90 276.57,355.00 276.67,353.93 276.77,352.99 276.87,353.78 276.98,351.55 277.08,351.74 277.18,350.67 277.29,349.85 277.39,348.46 277.49,347.79 277.59,346.33 277.70,346.74 277.80,346.48 277.90,345.75 278.01,344.19 278.11,342.78 278.21,342.91 278.31,342.79 278.42,341.44 278.52,340.69 278.62,340.08 278.73,339.83 278.83,340.14 278.93,338.14 279.03,336.30 279.14,336.08 279.24,336.88 279.34,334.64 279.45,335.05 279.55,331.77 279.65,332.14 279.75,332.23 279.86,330.16 279.96,330.35 280.06,328.71 280.17,328.24 280.27,328.17 280.37,326.23 280.47,326.64 280.58,324.21 280.68,324.17 280.78,324.00 280.89,323.64 280.99,320.82 281.09,320.10 281.19,320.86 281.30,318.37 281.40,318.41" fill="none" stroke="#d95319" stroke-width="1.25" stroke-linejoin="round" />
<polyline points="24.40,319.11 24.50,318.93 24.61,319.15 24.71,316.98 24.81,318.60 24.91,321.13 25.02,316.11 25.12,317.65 25.22,320.14 25.33,319.20 25.43,319.89 25.53,318.68 25.63,318.22 25.74,318.42 25.84,319.47 25.94,319.72 26.05,317.62 26.15,318.81 26.25,315.82 26.35,319.70 26.46,317.66 26.56,318.59 26.66,319.61 26.77,316.90 26.87,318.47 26.97,319.76 27.07,319.02 27.18,317.31 27.28,320.16 27.38,316.83 27.49,317.71 27.59,318.93 27.69,316.84 27.79,316.33 27.90,317.79 28.00,318.32 28.10,316.18 28.21,316.62 28.31,319.70 28.41,318.77 28.51,318.78 28.62,319.02 28.72,320.39 28.82,317.33 28.93,318.36 29.03,318.34 29.13,316.66 29.23,319.17 29.34,318.51 29.44,318.08 29.54,318.98 29.64,318.56 29.75,317.43 29.85,318.41 29.95,316.69 30.06,319.34 30.16,318.12 30.26,320.19 30.36,318.51 30.47,319.25 30.57,316.60 30.67,317.39 30.78,317.68 30.88,315.96 30.98,316.47 31.08,317.39 31.19,319.19 31.29,320.15 31.39,318.32 31.50,318.73 31.60,319.10 31.70,318.64 31.80,320.38 31.91,316.34 32.01,319.71 32.11,319.10 32.22,317.50 32.32,320.31 32.42,317.03 32.52,317.00 32.63,318.60 32.73,319.58 32.83,318.79 32.94,320.56 33.04,316.39 33.14,318.09 33.24,319.10 33.35,319.32 33.45,317.40 33.55,316.20 33.66,319.77 33.76,318.86 33.86,320.38 33.96,317.24 34.07,317.90 34.17,315.23 34.27,318.25 34.38,318.64 34.48,318.99 34.58,316.97 34.68,320.16 34.79,317.09 34.89,317.73 34.99,318.69 35.10,319.20 35.20,316.67 35.30,315.62 35.40,318.59 35.51,317.33 35.61,315.75 35.71,318.80 35.82,318.32 35.92,319.56 36.02,318.17 36.12,318.08 36.23,318.51 36.33,318.92 36.43,320.00 36.54,319.69 36.64,319.21 36.74,317.11 36.84,318.59 36.95,319.03 37.05,317.07 37.15,317.18 37.26,318.88 37.36,318.71 37.46,317.04 37.56,317.42 37.67,318.97 37.77,317.57 37.87,317.91 37.98,316.42 38.08,318.99 38.18,316.71 38.28,317.29 38.39,319.15 38.49,316.47 38.59,316.65 38.69,319.54 38.80,315.25 38.90,319.31 39.00,319.01 39.11,318.23 39.21,316.80 39.31,317.04 39.41,317.92 39.52,316.01 39.62,317.26 39.72,315.96 39.83,314.91 39.93,317.52 40.03,320.63 40.13,318.35 40.24,319.16 40.34,317.63 40.44,317.62 40.55,319.34 40.65,319.24 40.75,318.08 40.85,317.99 40.96,320.59 41.06,316.45 41.16,317.68 41.27,317.72 41.37,317.32 41.47,319.05 41.57,317.77 41.68,316.33 41.78,316.28 41.88,317.08 41.99,318.05 42.09,318.76 42.19,315.94 42.29,316.98 42.40,318.23 42.50,320.53 42.60,318.81 42.71,320.21 42.81,316.01 42.91,317.40 43.01,318.63 43.12,318.01 43.22,314.78 43.32,316.02 43.43,319.42 43.53,317.80 43.63,319.26 43.73,319.91 43.84,317.39 43.94,314.76 44.04,315.54 44.15,317.55 44.25,318.11 44.35,317.34 44.45,316.22 44.56,319.55 44.66,320.09 44.76,315.08 44.87,317.22 44.97,315.44 45.07,317.27 45.17,315.61 45.28,318.40 45.38,316.91 45.48,315.50 45.59,316.21 45.69,318.19 45.79,316.37 45.89,318.46 46.00,319.48 46.10,316.86 46.20,315.68 46.31,316.42 46.41,319.25 46.51,316.39 46.61,316.64 46.72,318.17 46.82,320.41 46.92,316.18 47.03,316.35 47.13,316.88 47.23,319.88 47.33,319.56 47.44,316.18 47.54,316.46 47.64,316.87 47.74,317.87 47.85,317.01 47.95,318.27 48.05,317.96 48.16,318.71 48.26,317.19 48.36,318.10 48.46,316.24 48.57,316.56 48.67,318.63 48.77,315.04 48.88,319.05 48.98,316.92 49.08,316.06 49.18,315.79 49.29,320.39 49.39,316.17 49.49,315.87 49.60,315.57 49.70,320.39 49.80,318.45 49.90,317.66 50.01,318.13 50.11,315.71 50.21,318.46 50.32,315.87 50.42,316.78 50.52,319.53 50.62,318.91 50.73,318.20 50.83,317.44 50.93,316.23 51.04,317.83 51.14,316.35 51.24,319.74 51.34,320.47 51.45,318.07 51.55,316.99 51.65,318.12 51.76,319.01 51.86,317.06 51.96,315.01 52.06,317.79 52.17,318.65 52.27,318.82 52.37,314.99 52.48,317.73 52.58,316.85 52.68,316.03 52.78,316.23 52.89,318.96 52.99,316.41 53.09,316.57 53.20,317.06 53.30,316.35 53.40,318.50 53.50,317.84 53.61,318.46 53.71,316.72 53.81,318.65 53.92,317.23 54.02,319.26 54.12,317.95 54.22,318.28 54.33,317.95 54.43,317.62 54.53,318.06 54.64,318.11 54.74,320.64 54.84,316.32 54.94,318.68 55.05,318.17 55.15,318.97 55.25,316.49 55.36,319.09 55.46,317.18 55.56,316.27 55.66,315.64 55.77,316.27 55.87,317.05 55.97,319.53 56.08,316.15 56.18,316.29 56.28,316.77 56.38,316.83 56.49,317.82 56.59,318.63 56.69,316.47 56.79,316.21 56.90,319.36 57.00,316.71 57.10,317.63 57.21,316.76 57.31,317.60 57.41,316.47 57.51,316.59 57.62,316.78 57.72,319.87 57.82,316.88 57.93,317.94 58.03,319.54 58.13,317.06 58.23,319.88 58.34,316.81 58.44,315.74 58.54,318.72 58.65,316.80 58.75,317.44 58.85,317.17 58.95,319.89 59.06,317.24 59.16,317.89 59.26,317.08 59.37,318.07 59.47,316.61 59.57,317.72 59.67,317.18 59.78,316.26 59.88,317.87 59.98,316.77 60.09,317.82 60.19,317.42 60.29,318.85 60.39,317.09 60.50,316.49 60.60,318.26 60.70,317.09 60.81,317.59 60.91,319.66 61.01,317.70 61.11,316.41 61.22,318.84 61.32,320.59 61.42,317.92 61.53,319.07 61.63,315.66 61.73,318.27 61.83,318.23 61.94,319.07 62.04,317.90 62.14,319.00 62.25,319.46 62.35,318.34 62.45,319.35 62.55,316.50 62.66,319.84 62.76,318.38 62.86,319.21 62.97,320.14 63.07,316.07 63.17,321.12 63.27,316.36 63.38,320.21 63.48,318.20 63.58,315.52 63.69,321.18 63.79,320.18 63.89,316.60 63.99,318.12 64.10,319.09 64.20,318.41 64.30,319.66 64.41,318.22 64.51,316.39 64.61,318.91 64.71,318.22 64.82,316.80 64.92,315.76 65.02,319.21 65.13,318.03 65.23,319.19 65.33,319.30 65.43,318.98 65.54,319.30 65.64,320.77 65.74,321.12 65.84,319.45 65.95,318.30 66.05,316.86 66.15,319.20 66.26,318.72 66.36,317.62 66.46,317.52 66.56,318.67 66.67,318.60 66.77,316.03 66.87,318.98 66.98,319.20 67.08,320.72 67.18,317.98 67.28,318.92 67.39,316.02 67.49,319.02 67.59,317.50 67.70,317.34 67.80,316.40 67.90,320.35 68.00,316.52 68.11,318.60 68.21,318.76 68.31,319.04 68.42,319.16 68.52,319.10 68.62,321.56 68.72,317.97 68.83,318.58 68.93,319.93 69.03,318.76 69.14,315.87 69.24,318.18 69.34,319.21 69.44,316.42 69.55,319.77 69.65,318.92 69.75,319.46 69.86,319.04 69.96,317.76 70.06,317.97 70.16,319.72 70.27,318.92 70.37,318.65 70.47,319.31 70.58,318.82 70.68,319.74 70.78,319.76 70.88,318.73 70.99,320.17 71.09,318.25 71.19,319.07 71.30,320.04 71.40,319.64 71.50,319.47 71.60,319.05 71.71,318.70 71.81,319.13 71.91,320.01 72.02,316.97 72.12,317.67 72.22,318.73 72.32,317.63 72.43,318.46 72.53,319.24 72.63,318.79 72.74,316.09 72.84,317.61 72.94,317.55 73.04,319.46 73.15,318.15 73.25,316.13 73.35,318.39 73.46,317.54 73.56,317.30 73.66,318.12 73.76,316.90 73.87,318.68 73.97,318.34 74.07,319.83 74.18,316.19 74.28,318.61 74.38,318.87 74.48,317.19 74.59,319.68 74.69,319.05 74.79,320.08 74.89,319.02 75.00,319.57 75.10,318.35 75.20,319.24 75.31,319.87 75.41,319.47 75.51,319.25 75.61,319.77 75.72,317.87 75.82,317.90 75.92,318.59 76.03,320.34 76.13,318.08 76.23,320.44 76.33,318.50 76.44,318.67 76.54,319.51 76.64,319.81 76.75,319.63 76.85,316.00 76.95,319.05 77.05,318.96 77.16,317.42 77.26,318.12 77.36,317.27 77.47,320.27 77.57,320.08 77.67,315.82 77.77,318.69 77.88,319.00 77.98,318.40 78.08,317.30 78.19,320.16 78.29,318.22 78.39,318.62 78.49,317.69 78.60,318.34 78.70,319.26 78.80,319.69 78.91,321.44 79.01,317.25 79.11,320.46 79.21,319.05 79.32,316.33 79.42,319.05 79.52,317.69 79.63,318.76 79.73,317.56 79.83,318.43 79.93,319.13 80.04,316.68 80.14,318.80 80.24,320.20 80.35,318.86 80.45,317.72 80.55,319.88 80.65,317.38 80.76,317.40 80.86,315.61 80.96,319.23 81.07,317.51 81.17,320.56 81.27,318.91 81.37,318.22 81.48,317.81 81.58,318.41 81.68,318.45 81.79,319.13 81.89,318.90 81.99,317.91 82.09,317.57 82.20,317.46 82.30,316.98 82.40,316.72 82.51,320.63 82.61,318.95 82.71,318.47 82.81,319.09 82.92,316.87 83.02,317.26 83.12,318.37 83.23,318.06 83.33,316.56 83.43,318.66 83.53,318.61 83.64,317.01 83.74,317.57 83.84,316.32 83.95,317.69 84.05,317.18 84.15,318.87 84.25,319.38 84.36,318.15 84.46,321.03 84.56,317.59 84.66,316.85 84.77,318.01 84.87,318.39 84.97,316.68 85.08,318.15 85.18,316.81 85.28,315.25 85.38,317.13 85.49,316.84 85.59,317.41 85.69,317.72 85.80,317.68 85.90,317.95 86.00,316.62 86.10,320.13 86.21,318.37 86.31,317.15 86.41,319.10 86.52,318.14 86.62,318.90 86.72,317.41 86.82,316.85 86.93,316.08 87.03,317.31 87.13,318.90 87.24,317.63 87.34,317.21 87.44,316.10 87.54,320.73 87.65,317.45 87.75,320.30 87.85,316.99 87.96,317.33 88.06,317.25 88.16,316.75 88.26,317.39 88.37,318.73 88.47,317.42 88.57,316.31 88.68,318.02 88.78,317.83 88.88,319.44 88.98,316.34 89.09,318.50 89.19,318.81 89.29,318.42 89.40,318.95 89.50,318.15 89.60,316.16 89.70,316.78 89.81,315.95 89.91,315.87 90.01,318.96 90.12,317.17 90.22,315.84 90.32,314.96 90.42,319.62 90.53,319.63 90.63,317.16 90.73,318.20 90.84,319.05 90.94,317.26 91.04,318.77 91.14,320.64 91.25,317.77 91.35,317.57 91.45,316.90 91.56,316.50 91.66,317.48 91.76,318.02 91.86,318.58 91.97,319.85 92.07,318.27 92.17,316.40 92.28,316.85 92.38,315.02 92.48,317.89 92.58,320.00 92.69,316.60 92.79,316.33 92.89,319.19 93.00,319.77 93.10,317.47 93.20,316.74 93.30,319.11 93.41,318.10 93.51,318.66 93.61,319.18 93.71,319.36 93.82,317.46 93.92,318.12 94.02,318.51 94.13,320.52 94.23,315.35 94.33,318.85 94.43,317.80 94.54,319.10 94.64,317.12 94.74,319.58 94.85,317.49 94.95,317.85 95.05,316.41 95.15,319.03 95.26,318.44 95.36,317.90 95.46,314.87 95.57,319.51 95.67,317.21 95.77,318.44 95.87,317.18 95.98,316.73 96.08,317.40 96.18,317.24 96.29,317.21 96.39,318.34 96.49,317.85 96.59,319.72 96.70,318.03 96.80,318.56 96.90,317.89 97.01,316.60 97.11,317.06 97.21,316.95 97.31,316.12 97.42,320.43 97.52,316.99 97.62,317.58 97.73,317.68 97.83,319.25 97.93,316.83 98.03,316.05 98.14,316.21 98.24,317.65 98.34,316.71 98.45,316.34 98.55,315.17 98.65,315.94 98.75,317.35 98.86,317.41 98.96,317.32 99.06,317.24 99.17,318.18 99.27,316.53 99.37,318.43 99.47,318.57 99.58,317.07 99.68,318.27 99.78,317.85 99.89,320.23 99.99,316.49 100.09,317.53 100.19,317.69 100.30,316.92 100.40,317.25 100.50,318.43 100.61,314.92 100.71,318.11 100.81,316.26 100.91,315.14 101.02,318.33 101.12,317.40 101.22,318.59 101.33,316.16 101.43,317.96 101.53,318.96 101.63,315.82 101.74,316.34 101.84,318.70 101.94,316.01 102.05,317.30 102.15,314.71 102.25,315.34 102.35,318.30 102.46,317.93 102.56,318.73 102.66,317.42 102.76,317.54 102.87,316.65 102.97,317.50 103.07,319.54 103.18,318.69 103.28,315.80 103.38,316.14 103.48,317.86 103.59,317.83 103.69,317.88 103.79,317.64 103.90,319.86 104.00,316.52 104.10,318.55 104.20,317.51 104.31,320.57 104.41,317.41 104.51,315.98 104.62,320.58 104.72,315.75 104.82,317.12 104.92,318.70 105.03,319.81 105.13,316.24 105.23,317.42 105.34,317.00 105.44,318.13 105.54,318.82 105.64,316.66 105.75,319.04 105.85,316.63 105.95,319.98 106.06,319.02 106.16,319.71 106.26,316.12 106.36,320.11 106.47,319.32 106.57,316.99 106.67,317.56 106.78,315.01 106.88,315.47 106.98,317.07 107.08,316.98 107.19,320.26 107.29,319.04 107.39,318.33 107.50,318.14 107.60,319.70 107.70,319.13 107.80,319.03 107.91,316.55 108.01,317.38 108.11,318.38 108.22,318.31 108.32,317.58 108.42,318.87 108.52,318.31 108.63,320.22 108.73,317.11 108.83,316.74 108.94,317.52 109.04,317.38 109.14,317.53 109.24,315.36 109.35,317.76 109.45,319.75 109.55,319.40 109.66,317.11 109.76,316.66 109.86,317.05 109.96,316.97 110.07,317.83 110.17,320.02 110.27,319.01 110.38,320.45 110.48,318.60 110.58,319.88 110.68,317.98 110.79,318.34 110.89,320.67 110.99,317.17 111.10,317.14 111.20,319.96 111.30,317.96 111.40,317.22 111.51,318.54 111.61,317.05 111.71,317.93 111.81,316.78 111.92,317.95 112.02,318.42 112.12,317.54 112.23,317.19 112.33,317.89 112.43,318.82 112.53,319.27 112.64,318.73 112.74,319.00 112.84,317.99 112.95,318.04 113.05,318.38 113.15,318.28 113.25,318.06 113.36,316.24 113.46,316.72 113.56,319.06 113.67,317.76 113.77,318.75 113.87,318.45 113.97,318.65 114.08,319.16 114.18,320.13 114.28,321.19 114.39,318.10 114.49,316.82 114.59,319.56 114.69,317.72 114.80,318.89 114.90,318.03 115.00,319.46 115.11,318.71 115.21,318.56 115.31,321.26 115.41,318.15 115.52,318.62 115.62,321.28 115.72,317.60 115.83,318.50 115.93,318.20 116.03,318.00 116.13,319.03 116.24,319.90 116.34,319.08 116.44,319.06 116.55,315.62 116.65,316.09 116.75,319.16 116.85,319.07 116.96,318.11 117.06,317.80 117.16,319.46 117.27,319.87 117.37,316.01 117.47,317.18 117.57,320.62 117.68,320.91 117.78,319.68 117.88,318.31 117.99,317.88 118.09,319.06 118.19,320.75 118.29,318.33 118.40,317.84 118.50,318.64 118.60,319.30 118.71,317.89 118.81,318.73 118.91,320.15 119.01,318.55 119.12,320.39 119.22,317.41 119.32,318.07 119.43,320.02 119.53,318.42 119.63,317.06 119.73,321.54 119.84,318.91 119.94,316.55 120.04,320.79 120.15,318.97 120.25,320.64 120.35,318.85 120.45,321.58 120.56,320.92 120.66,319.49 120.76,318.60 120.86,318.29 120.97,318.23 121.07,317.28 121.17,317.88 121.28,317.83 121.38,320.13 121.48,319.04 121.58,315.93 121.69,315.94 121.79,317.74 121.89,317.87 122.00,317.54 122.10,319.41 122.20,316.26 122.30,319.38 122.41,319.00 122.51,315.99 122.61,321.68 122.72,318.42 122.82,321.21 122.92,319.79 123.02,319.05 123.13,319.40 123.23,318.71 123.33,319.97 123.44,319.09 123.54,320.55 123.64,319.48 123.74,320.83 123.85,318.10 123.95,320.72 124.05,318.06 124.16,319.55 124.26,319.41 124.36,317.43 124.46,318.87 124.57,321.57 124.67,318.36 124.77,321.86 124.88,318.68 124.98,319.59 125.08,320.94 125.18,318.96 125.29,319.48 125.39,316.38 125.49,319.67 125.60,316.47 125.70,317.23 125.80,319.92 125.90,320.21 126.01,317.33 126.11,319.30 126.21,318.91 126.32,319.48 126.42,320.77 126.52,319.65 126.62,320.45 126.73,321.23 126.83,319.56 126.93,316.76 127.04,316.99 127.14,319.27 127.24,318.68 127.34,318.16 127.45,317.01 127.55,318.41 127.65,319.47 127.76,319.35 127.86,317.28 127.96,315.90 128.06,319.64 128.17,321.57 128.27,317.68 128.37,318.88 128.48,318.58 128.58,317.08 128.68,318.66 128.78,320.54 128.89,321.39 128.99,318.79 129.09,320.28 129.20,318.31 129.30,320.43 129.40,319.17 129.50,320.68 129.61,319.17 129.71,319.27 129.81,317.85 129.92,316.83 130.02,318.89 130.12,319.80 130.22,315.97 130.33,318.12 130.43,317.78 130.53,317.77 130.63,316.62 130.74,317.21 130.84,317.65 130.94,317.53 131.05,319.73 131.15,319.38 131.25,318.69 131.35,318.41 131.46,318.50 131.56,318.10 131.66,318.47 131.77,319.08 131.87,320.70 131.97,317.35 132.07,317.68 132.18,319.67 132.28,317.79 132.38,317.92 132.49,318.35 132.59,320.94 132.69,320.07 132.79,319.24 132.90,316.22 133.00,319.58 133.10,318.87 133.21,319.90 133.31,319.06 133.41,317.91 133.51,321.19 133.62,321.19 133.72,317.46 133.82,318.30 133.93,319.16 134.03,317.02 134.13,317.01 134.23,321.14 134.34,318.54 134.44,316.80 134.54,319.21 134.65,318.72 134.75,316.98 134.85,318.64 134.95,319.90 135.06,319.19 135.16,320.06 135.26,317.49 135.37,320.59 135.47,316.87 135.57,320.46 135.67,318.16 135.78,320.21 135.88,318.63 135.98,316.81 136.09,316.66 136.19,316.41 136.29,318.30 136.39,318.02 136.50,317.85 136.60,317.32 136.70,318.69 136.81,316.64 136.91,317.69 137.01,316.57 137.11,317.47 137.22,317.19 137.32,319.10 137.42,318.67 137.53,319.85 137.63,318.49 137.73,318.32 137.83,316.94 137.94,319.78 138.04,315.17 138.14,318.22 138.25,316.34 138.35,316.63 138.45,320.86 138.55,318.39 138.66,316.02 138.76,320.84 138.86,316.96 138.97,319.25 139.07,318.64 139.17,317.69 139.27,320.53 139.38,317.72 139.48,318.86 139.58,318.99 139.68,317.01 139.79,315.06 139.89,317.49 139.99,317.19 140.10,318.01 140.20,318.92 140.30,317.58 140.40,315.86 140.51,317.66 140.61,316.70 140.71,318.22 140.82,315.00 140.92,320.14 141.02,317.10 141.12,317.15 141.23,317.52 141.33,319.40 141.43,319.42 141.54,318.19 141.64,317.73 141.74,319.51 141.84,319.31 141.95,317.09 142.05,316.44 142.15,318.61 142.26,318.79 142.36,318.82 142.46,314.92 142.56,317.16 142.67,317.91 142.77,316.44 142.87,314.90 142.98,316.21 143.08,319.75 143.18,317.91 143.28,318.34 143.39,318.26 143.49,319.44 143.59,318.32 143.70,319.26 143.80,317.31 143.90,317.71 144.00,319.69 144.11,320.09 144.21,318.41 144.31,316.87 144.42,317.08 144.52,317.84 144.62,320.55 144.72,318.41 144.83,318.75 144.93,318.19 145.03,319.39 145.14,318.32 145.24,318.63 145.34,314.80 145.44,316.75 145.55,317.97 145.65,317.77 145.75,317.87 145.86,317.44 145.96,318.25 146.06,317.72 146.16,316.29 146.27,316.55 146.37,317.26 146.47,315.86 146.58,317.37 146.68,319.02 146.78,320.06 146.88,318.62 146.99,317.75 147.09,317.12 147.19,316.19 147.30,318.44 147.40,318.75 147.50,316.60 147.60,316.04 147.71,318.30 147.81,317.18 147.91,315.76 148.02,317.20 148.12,317.71 148.22,320.44 148.32,315.82 148.43,316.75 148.53,317.46 148.63,318.26 148.73,319.33 148.84,317.76 148.94,317.77 149.04,316.12 149.15,319.27 149.25,315.64 149.35,317.56 149.45,315.99 149.56,318.93 149.66,317.13 149.76,315.94 149.87,317.45 149.97,319.61 150.07,318.05 150.17,316.87 150.28,319.51 150.38,319.57 150.48,317.27 150.59,318.89 150.69,316.66 150.79,319.20 150.89,320.10 151.00,318.65 151.10,315.55 151.20,318.77 151.31,317.59 151.41,317.25 151.51,318.88 151.61,316.09 151.72,317.34 151.82,316.98 151.92,319.88 152.03,319.97 152.13,320.39 152.23,317.84 152.33,317.89 152.44,316.59 152.54,315.55 152.64,317.93 152.75,317.95 152.85,316.96 152.95,315.50 153.05,318.71 153.16,316.74 153.26,317.94 153.36,318.06 153.47,316.50 153.57,318.70 153.67,319.08 153.77,316.72 153.88,317.67 153.98,318.00 154.08,317.83 154.19,316.98 154.29,318.17 154.39,316.63 154.49,317.11 154.60,315.66 154.70,315.96 154.80,316.53 154.91,317.98 155.01,317.55 155.11,318.52 155.21,314.81 155.32,318.03 155.42,316.98 155.52,315.89 155.63,319.60 155.73,318.88 155.83,318.30 155.93,319.12 156.04,319.50 156.14,318.48 156.24,316.02 156.35,316.80 156.45,317.75 156.55,317.76 156.65,320.07 156.76,316.87 156.86,317.24 156.96,319.30 157.07,317.55 157.17,318.10 157.27,318.55 157.37,319.20 157.48,318.78 157.58,319.15 157.68,317.24 157.78,317.38 157.89,317.44 157.99,318.14 158.09,318.45 158.20,315.12 158.30,320.45 158.40,316.29 158.50,317.44 158.61,317.83 158.71,318.63 158.81,318.24 158.92,319.56 159.02,319.84 159.12,318.11 159.22,320.22 159.33,316.83 159.43,316.46 159.53,320.81 159.64,320.11 159.74,317.63 159.84,317.72 159.94,317.86 160.05,317.44 160.15,317.01 160.25,316.85 160.36,315.60 160.46,318.01 160.56,316.87 160.66,320.27 160.77,318.24 160.87,319.73 160.97,316.17 161.08,315.18 161.18,317.35 161.28,319.86 161.38,318.25 161.49,318.06 161.59,317.84 161.69,316.63 161.80,316.82 161.90,320.96 162.00,316.27 162.10,318.82 162.21,318.91 162.31,316.22 162.41,318.52 162.52,320.03 162.62,319.98 162.72,318.10 162.82,316.95 162.93,316.15 163.03,318.43 163.13,318.84 163.24,316.00 163.34,318.84 163.44,316.24 163.54,317.91 163.65,317.91 163.75,318.56 163.85,317.85 163.96,318.89 164.06,319.19 164.16,318.45 164.26,319.16 164.37,317.87 164.47,318.17 164.57,318.65 164.68,318.57 164.78,318.62 164.88,315.94 164.98,318.33 165.09,319.14 165.19,318.74 165.29,317.44 165.40,318.62 165.50,318.56 165.60,318.71 165.70,318.14 165.81,317.84 165.91,317.78 166.01,320.61 166.12,319.85 166.22,321.23 166.32,317.31 166.42,316.90 166.53,316.65 166.63,318.23 166.73,316.87 166.83,318.49 166.94,318.61 167.04,320.55 167.14,319.52 167.25,319.27 167.35,317.22 167.45,316.22 167.55,319.12 167.66,317.98 167.76,318.12 167.86,319.56 167.97,320.85 168.07,319.54 168.17,320.48 168.27,318.96 168.38,318.73 168.48,318.79 168.58,318.78 168.69,317.90 168.79,319.83 168.89,317.36 168.99,320.85 169.10,318.50 169.20,318.06 169.30,319.67 169.41,320.77 169.51,317.74 169.61,319.53 169.71,317.56 169.82,317.59 169.92,318.65 170.02,318.65 170.13,317.31 170.23,318.15 170.33,319.93 170.43,318.44 170.54,317.92 170.64,318.41 170.74,318.43 170.85,318.90 170.95,318.86 171.05,319.98 171.15,320.66 171.26,317.19 171.36,319.59 171.46,318.43 171.57,320.78 171.67,318.53 171.77,319.88 171.87,315.86 171.98,320.15 172.08,320.08 172.18,317.50 172.29,317.25 172.39,321.62 172.49,318.46 172.59,317.62 172.70,320.47 172.80,317.89 172.90,319.54 173.01,320.19 173.11,319.32 173.21,319.47 173.31,320.74 173.42,315.96 173.52,319.48 173.62,319.88 173.73,317.72 173.83,318.98 173.93,317.09 174.03,319.26 174.14,318.43 174.24,318.79 174.34,318.69 174.45,319.21 174.55,319.07 174.65,316.67 174.75,319.87 174.86,319.69 174.96,319.42 175.06,318.19 175.17,318.43 175.27,317.71 175.37,320.80 175.47,318.64 175.58,319.24 175.68,319.39 175.78,318.79 175.88,321.68 175.99,318.65 176.09,318.83 176.19,320.97 176.30,319.17 176.40,316.96 176.50,319.58 176.60,318.26 176.71,319.37 176.81,320.17 176.91,320.33 177.02,319.62 177.12,317.34 177.22,318.00 177.32,320.06 177.43,317.77 177.53,319.29 177.63,320.06 177.74,318.55 177.84,320.37 177.94,321.27 178.04,317.41 178.15,321.62 178.25,318.43 178.35,321.23 178.46,319.22 178.56,319.45 178.66,319.45 178.76,321.67 178.87,318.99 178.97,318.88 179.07,320.03 179.18,318.91 179.28,317.47 179.38,319.77 179.48,318.44 179.59,320.33 179.69,318.26 179.79,317.91 179.90,315.86 180.00,317.53 180.10,318.16 180.20,316.84 180.31,320.06 180.41,317.27 180.51,319.44 180.62,319.53 180.72,317.22 180.82,318.37 180.92,316.89 181.03,320.61 181.13,318.29 181.23,319.36 181.34,319.00 181.44,321.19 181.54,317.36 181.64,318.33 181.75,319.93 181.85,320.41 181.95,319.76 182.06,316.70 182.16,318.71 182.26,319.01 182.36,317.89 182.47,318.53 182.57,318.23 182.67,317.53 182.78,318.08 182.88,317.33 182.98,320.10 183.08,318.41 183.19,318.96 183.29,318.33 183.39,318.52 183.50,319.31 183.60,318.92 183.70,317.18 183.80,319.17 183.91,320.09 184.01,317.62 184.11,317.11 184.22,318.76 184.32,318.22 184.42,319.50 184.52,318.65 184.63,316.89 184.73,317.29 184.83,318.15 184.94,318.71 185.04,320.51 185.14,317.91 185.24,317.71 185.35,316.90 185.45,315.61 185.55,317.79 185.65,317.01 185.76,319.77 185.86,316.66 185.96,317.10 186.07,316.44 186.17,317.35 186.27,317.64 186.37,316.26 186.48,319.11 186.58,317.36 186.68,316.76 186.79,319.25 186.89,319.73 186.99,317.61 187.09,318.01 187.20,317.36 187.30,317.30 187.40,319.17 187.51,317.69 187.61,316.64 187.71,318.60 187.81,318.50 187.92,319.61 188.02,317.02 188.12,315.50 188.23,319.91 188.33,317.07 188.43,316.88 188.53,318.81 188.64,318.56 188.74,319.44 188.84,319.09 188.95,317.82 189.05,317.17 189.15,317.87 189.25,316.88 189.36,317.74 189.46,319.56 189.56,316.07 189.67,316.42 189.77,318.93 189.87,315.62 189.97,317.35 190.08,317.79 190.18,315.41 190.28,320.84 190.39,320.07 190.49,316.99 190.59,318.26 190.69,319.18 190.80,315.91 190.90,317.26 191.00,319.60 191.11,318.77 191.21,316.77 191.31,315.51 191.41,320.54 191.52,317.54 191.62,318.37 191.72,320.18 191.83,318.07 191.93,319.97 192.03,318.55 192.13,315.68 192.24,317.14 192.34,316.78 192.44,317.02 192.55,317.34 192.65,316.51 192.75,319.35 192.85,318.27 192.96,316.65 193.06,318.75 193.16,318.35 193.27,316.16 193.37,315.72 193.47,318.56 193.57,318.83 193.68,316.97 193.78,317.38 193.88,318.63 193.99,316.93 194.09,316.99 194.19,317.61 194.29,314.90 194.40,315.90 194.50,316.62 194.60,316.33 194.70,314.88 194.81,316.23 194.91,318.64 195.01,317.25 195.12,317.57 195.22,318.42 195.32,317.32 195.42,317.32 195.53,317.73 195.63,318.30 195.73,316.54 195.84,319.76 195.94,316.54 196.04,317.62 196.14,317.26 196.25,320.54 196.35,315.38 196.45,319.92 196.56,318.76 196.66,316.75 196.76,318.41 196.86,318.14 196.97,320.52 197.07,318.18 197.17,317.31 197.28,316.68 197.38,317.97 197.48,317.29 197.58,316.99 197.69,318.47 197.79,318.57 197.89,314.95 198.00,318.70 198.10,315.92 198.20,317.46 198.30,315.59 198.41,318.40 198.51,316.86 198.61,317.10 198.72,317.84 198.82,317.12 198.92,318.56 199.02,317.64 199.13,318.06 199.23,316.51 199.33,317.65 199.44,319.38 199.54,318.02 199.64,317.65 199.74,318.72 199.85,315.74 199.95,316.97 200.05,316.38 200.16,318.53 200.26,318.04 200.36,316.16 200.46,319.41 200.57,317.01 200.67,317.38 200.77,318.16 200.88,317.37 200.98,318.93 201.08,317.19 201.18,319.11 201.29,319.19 201.39,315.62 201.49,318.42 201.60,320.31 201.70,316.18 201.80,318.51 201.90,320.40 202.01,317.55 202.11,316.24 202.21,317.00 202.32,315.17 202.42,317.64 202.52,316.67 202.62,318.82 202.73,317.25 202.83,315.42 202.93,316.79 203.04,317.25 203.14,320.11 203.24,317.97 203.34,319.19 203.45,316.42 203.55,318.45 203.65,316.98 203.75,318.81 203.86,314.94 203.96,319.04 204.06,317.28 204.17,314.67 204.27,317.18 204.37,318.64 204.47,316.65 204.58,316.15 204.68,316.32 204.78,320.13 204.89,317.21 204.99,320.36 205.09,314.97 205.19,317.42 205.30,318.14 205.40,316.63 205.50,316.88 205.61,319.14 205.71,315.37 205.81,317.88 205.91,319.93 206.02,315.69 206.12,315.52 206.22,315.90 206.33,316.85 206.43,318.79 206.53,316.34 206.63,315.11 206.74,316.52 206.84,315.47 206.94,318.67 207.05,316.26 207.15,316.38 207.25,319.65 207.35,319.84 207.46,318.63 207.56,317.55 207.66,317.06 207.77,317.98 207.87,317.77 207.97,317.84 208.07,317.58 208.18,316.91 208.28,317.04 208.38,317.79 208.49,317.37 208.59,318.34 208.69,316.66 208.79,318.42 208.90,315.53 209.00,317.78 209.10,317.39 209.21,318.79 209.31,318.24 209.41,317.55 209.51,317.76 209.62,318.63 209.72,319.37 209.82,317.75 209.93,317.60 210.03,317.07 210.13,316.14 210.23,318.25 210.34,320.53 210.44,318.03 210.54,320.34 210.65,319.59 210.75,316.47 210.85,317.10 210.95,318.75 211.06,318.74 211.16,318.01 211.26,320.27 211.37,317.25 211.47,318.38 211.57,315.42 211.67,319.35 211.78,316.57 211.88,318.85 211.98,316.55 212.09,319.27 212.19,316.95 212.29,318.55 212.39,319.08 212.50,318.17 212.60,317.33 212.70,317.43 212.80,315.85 212.91,316.88 213.01,320.94 213.11,318.55 213.22,320.72 213.32,318.54 213.42,317.18 213.52,319.85 213.63,319.64 213.73,317.85 213.83,318.44 213.94,315.91 214.04,317.63 214.14,317.35 214.24,315.70 214.35,318.76 214.45,318.09 214.55,319.44 214.66,317.75 214.76,316.70 214.86,316.26 214.96,318.17 215.07,319.09 215.17,319.17 215.27,320.03 215.38,317.98 215.48,316.31 215.58,321.10 215.68,321.11 215.79,316.27 215.89,320.36 215.99,317.73 216.10,319.90 216.20,317.13 216.30,317.14 216.40,317.98 216.51,317.09 216.61,318.15 216.71,317.46 216.82,315.75 216.92,316.74 217.02,319.14 217.12,319.34 217.23,318.58 217.33,318.57 217.43,318.17 217.54,319.10 217.64,317.39 217.74,318.23 217.84,317.80 217.95,318.29 218.05,317.47 218.15,319.94 218.26,316.16 218.36,317.85 218.46,317.72 218.56,317.50 218.67,316.87 218.77,317.34 218.87,318.03 218.98,318.60 219.08,320.60 219.18,318.08 219.28,318.80 219.39,318.81 219.49,315.62 219.59,320.92 219.70,318.32 219.80,316.75 219.90,317.10 220.00,316.73 220.11,320.15 220.21,319.74 220.31,317.59 220.42,318.84 220.52,316.11 220.62,318.14 220.72,318.19 220.83,317.86 220.93,318.84 221.03,318.31 221.14,319.40 221.24,318.54 221.34,319.15 221.44,318.15 221.55,320.43 221.65,320.54 221.75,317.89 221.85,318.21 221.96,319.84 222.06,318.84 222.16,319.97 222.27,315.80 222.37,320.68 222.47,316.22 222.57,319.69 222.68,318.00 222.78,318.93 222.88,319.10 222.99,317.31 223.09,317.48 223.19,319.00 223.29,319.85 223.40,315.87 223.50,316.71 223.60,318.43 223.71,319.04 223.81,318.24 223.91,318.53 224.01,317.02 224.12,319.97 224.22,318.63 224.32,319.74 224.43,316.90 224.53,316.23 224.63,318.81 224.73,317.96 224.84,316.79 224.94,319.12 225.04,319.99 225.15,317.30 225.25,318.04 225.35,319.02 225.45,316.75 225.56,318.42 225.66,321.18 225.76,318.29 225.87,318.85 225.97,316.21 226.07,318.80 226.17,319.06 226.28,318.19 226.38,318.46 226.48,320.72 226.59,318.65 226.69,319.26 226.79,316.91 226.89,316.09 227.00,320.36 227.10,320.16 227.20,319.99 227.31,319.75 227.41,319.80 227.51,318.79 227.61,317.39 227.72,320.65 227.82,320.98 227.92,321.40 228.03,317.39 228.13,317.10 228.23,321.00 228.33,321.14 228.44,318.75 228.54,317.44 228.64,317.55 228.75,318.68 228.85,318.02 228.95,318.51 229.05,319.72 229.16,316.37 229.26,318.98 229.36,320.50 229.47,319.62 229.57,321.09 229.67,318.98 229.77,317.51 229.88,320.74 229.98,317.48 230.08,315.96 230.19,318.17 230.29,320.25 230.39,319.83 230.49,319.11 230.60,320.40 230.70,320.34 230.80,318.99 230.91,318.87 231.01,317.79 231.11,320.24 231.21,316.05 231.32,317.14 231.42,317.37 231.52,319.46 231.62,316.20 231.73,319.03 231.83,316.08 231.93,317.08 232.04,319.76 232.14,319.14 232.24,315.97 232.34,317.14 232.45,318.71 232.55,318.22 232.65,318.21 232.76,319.53 232.86,318.74 232.96,319.36 233.06,319.04 233.17,317.81 233.27,319.74 233.37,317.44 233.48,318.27 233.58,317.37 233.68,317.19 233.78,316.70 233.89,317.53 233.99,317.42 234.09,318.62 234.20,317.59 234.30,319.59 234.40,318.69 234.50,317.32 234.61,318.41 234.71,317.72 234.81,319.76 234.92,316.44 235.02,319.09 235.12,317.76 235.22,318.32 235.33,317.01 235.43,318.79 235.53,319.63 235.64,320.85 235.74,318.67 235.84,319.87 235.94,317.50 236.05,316.26 236.15,321.21 236.25,319.97 236.36,317.78 236.46,316.51 236.56,317.77 236.66,317.74 236.77,317.48 236.87,317.38 236.97,315.91 237.08,317.31 237.18,319.84 237.28,318.78 237.38,317.84 237.49,319.23 237.59,318.47 237.69,318.83 237.80,319.06 237.90,317.14 238.00,318.62 238.10,319.57 238.21,319.05 238.31,318.01 238.41,315.33 238.52,317.70 238.62,316.01 238.72,317.36 238.82,320.97 238.93,317.50 239.03,319.18 239.13,319.86 239.24,319.48 239.34,315.55 239.44,320.15 239.54,318.83 239.65,316.39 239.75,317.06 239.85,320.31 239.96,318.11 240.06,318.66 240.16,318.21 240.26,316.90 240.37,318.72 240.47,318.36 240.57,315.91 240.67,320.44 240.78,318.41 240.88,317.25 240.98,319.60 241.09,318.75 241.19,319.68 241.29,317.66 241.39,318.72 241.50,316.78 241.60,316.45 241.70,317.78 241.81,318.36 241.91,317.48 242.01,317.75 242.11,319.50 242.22,316.35 242.32,317.50 242.42,316.72 242.53,319.67 242.63,316.59 242.73,315.05 242.83,316.94 242.94,319.77 243.04,317.72 243.14,317.85 243.25,317.46 243.35,318.08 243.45,317.07 243.55,318.38 243.66,317.43 243.76,318.68 243.86,317.59 243.97,316.36 244.07,318.39 244.17,316.80 244.27,318.93 244.38,318.22 244.48,318.03 244.58,315.98 244.69,318.74 244.79,316.01 244.89,319.69 244.99,317.89 245.10,316.42 245.20,316.71 245.30,319.05 245.41,319.34 245.51,316.45 245.61,319.38 245.71,316.85 245.82,318.36 245.92,317.65 246.02,314.89 246.13,315.49 246.23,316.47 246.33,319.51 246.43,317.17 246.54,317.54 246.64,317.74 246.74,315.76 246.85,319.96 246.95,317.16 247.05,317.42 247.15,318.62 247.26,315.20 247.36,319.32 247.46,317.54 247.57,317.46 247.67,320.54 247.77,319.53 247.87,318.90 247.98,316.47 248.08,316.25 248.18,316.73 248.29,317.22 248.39,320.52 248.49,317.24 248.59,318.24 248.70,315.92 248.80,315.67 248.90,314.78 249.01,316.55 249.11,316.40 249.21,318.94 249.31,317.41 249.42,319.22 249.52,316.27 249.62,319.15 249.72,317.80 249.83,318.63 249.93,318.15 250.03,316.87 250.14,318.27 250.24,317.19 250.34,318.87 250.44,315.56 250.55,318.37 250.65,316.09 250.75,314.72 250.86,320.44 250.96,318.85 251.06,317.76 251.16,315.86 251.27,318.14 251.37,316.94 251.47,318.48 251.58,316.69 251.68,319.14 251.78,316.31 251.88,320.42 251.99,320.07 252.09,314.94 252.19,317.22 252.30,318.69 252.40,314.69 252.50,316.00 252.60,315.89 252.71,318.03 252.81,316.59 252.91,316.74 253.02,319.74 253.12,316.62 253.22,317.70 253.32,315.66 253.43,315.63 253.53,318.33 253.63,318.28 253.74,317.17 253.84,316.53 253.94,318.01 254.04,317.60 254.15,316.59 254.25,316.85 254.35,315.82 254.46,317.10 254.56,318.67 254.66,319.89 254.76,316.31 254.87,317.90 254.97,317.92 255.07,317.84 255.18,319.62 255.28,317.98 255.38,320.39 255.48,317.99 255.59,318.68 255.69,314.87 255.79,316.82 255.90,317.74 256.00,317.23 256.10,316.44 256.20,318.52 256.31,317.79 256.41,317.97 256.51,314.72 256.62,317.39 256.72,320.24 256.82,316.39 256.92,314.74 257.03,318.86 257.13,314.76 257.23,317.62 257.34,316.14 257.44,318.34 257.54,317.93 257.64,319.28 257.75,319.05 257.85,320.52 257.95,315.98 258.06,319.19 258.16,317.08 258.26,317.14 258.36,318.52 258.47,317.55 258.57,317.75 258.67,318.32 258.77,317.57 258.88,317.57 258.98,319.08 259.08,319.47 259.19,318.85 259.29,317.50 259.39,315.74 259.49,315.62 259.60,317.25 259.70,316.37 259.80,317.53 259.91,316.16 260.01,317.54 260.11,317.17 260.21,318.13 260.32,317.74 260.42,315.08 260.52,319.43 260.63,317.75 260.73,318.59 260.83,316.42 260.93,315.22 261.04,318.22 261.14,320.73 261.24,316.93 261.35,316.94 261.45,320.18 261.55,318.16 261.65,317.92 261.76,320.77 261.86,316.89 261.96,317.23 262.07,317.51 262.17,319.35 262.27,318.87 262.37,318.77 262.48,317.20 262.58,319.27 262.68,315.83 262.79,317.37 262.89,320.84 262.99,315.54 263.09,317.70 263.20,318.70 263.30,317.79 263.40,320.52 263.51,317.68 263.61,320.89 263.71,319.41 263.81,316.05 263.92,316.19 264.02,318.47 264.12,319.36 264.23,316.68 264.33,318.08 264.43,317.71 264.53,317.13 264.64,319.55 264.74,316.91 264.84,320.97 264.95,315.97 265.05,320.28 265.15,318.95 265.25,319.01 265.36,317.04 265.46,317.02 265.56,317.58 265.67,317.33 265.77,317.44 265.87,318.21 265.97,320.83 266.08,321.04 266.18,321.05 266.28,318.21 266.39,318.47 266.49,318.35 266.59,317.84 266.69,318.50 266.80,319.59 266.90,320.31 267.00,320.88 267.11,316.47 267.21,316.91 267.31,320.13 267.41,318.60 267.52,317.60 267.62,315.96 267.72,319.09 267.82,317.99 267.93,316.60 268.03,320.73 268.13,319.31 268.24,318.33 268.34,319.30 268.44,315.47 268.54,317.06 268.65,318.02 268.75,319.67 268.85,317.08 268.96,317.42 269.06,319.06 269.16,318.95 269.26,320.42 269.37,318.46 269.47,317.12 269.57,316.94 269.68,317.54 269.78,317.20 269.88,319.22 269.98,319.06 270.09,316.68 270.19,317.76 270.29,319.54 270.40,317.70 270.50,317.24 270.60,317.42 270.70,318.28 270.81,319.18 270.91,317.88 271.01,316.04 271.12,318.25 271.22,319.42 271.32,317.99 271.42,320.23 271.53,318.16 271.63,318.92 271.73,317.14 271.84,318.36 271.94,317.02 272.04,315.70 272.14,318.84 272.25,319.72 272.35,317.89 272.45,318.67 272.56,318.35 272.66,319.42 272.76,317.78 272.86,318.48 272.97,321.48 273.07,318.93 273.17,318.12 273.28,316.93 273.38,319.43 273.48,319.75 273.58,316.99 273.69,319.50 273.79,318.49 273.89,317.97 274.00,317.60 274.10,318.65 274.20,320.24 274.30,317.24 274.41,319.29 274.51,319.42 274.61,315.86 274.72,317.45 274.82,320.21 274.92,319.39 275.02,319.06 275.13,319.78 275.23,321.45 275.33,317.60 275.44,317.65 275.54,318.41 275.64,319.33 275.74,318.46 275.85,317.87 275.95,320.25 276.05,319.25 276.16,319.58 276.26,317.81 276.36,318.43 276.46,320.65 276.57,319.69 276.67,316.33 276.77,320.20 276.87,318.62 276.98,319.73 277.08,317.09 277.18,318.95 277.29,319.48 277.39,320.53 277.49,319.22 277.59,317.71 277.70,317.94 277.80,320.77 277.90,316.70 278.01,319.26 278.11,320.41 278.21,318.75 278.31,319.81 278.42,319.76 278.52,319.84 278.62,319.08 278.73,319.67 278.83,321.38 278.93,318.24 279.03,319.72 279.14,317.30 279.24,318.24 279.34,318.13 279.45,318.75 279.55,317.19 279.65,319.48 279.75,320.43 279.86,318.55 279.96,321.92 280.06,319.57 280.17,318.75 280.27,319.65 280.37,317.30 280.47,318.09 280.58,318.92 280.68,319.65 280.78,317.55 280.89,320.06 280.99,319.70 281.09,318.06 281.19,318.28 281.30,316.28 281.40,319.44" fill="none" stroke="#edb120" stroke-width="1.0" stroke-linejoin="round" />
</g>
<rect x="24.4" y="235.4" width="257.0" height="166.20000000000002" fill="none" stroke="#a4a4a4" stroke-width="0.8"/>
<text x="23.50" y="401.10" font-size="4.2" text-anchor="end" fill="#000" stroke="#000" stroke-width="0.14" stroke-linejoin="round">-25</text>
<text x="23.50" y="384.88" font-size="4.2" text-anchor="end" fill="#000" stroke="#000" stroke-width="0.14" stroke-linejoin="round">-20</text>
<text x="23.50" y="368.66" font-size="4.2" text-anchor="end" fill="#000" stroke="#000" stroke-width="0.14" stroke-linejoin="round">-15</text>
<text x="23.50" y="352.44" font-size="4.2" text-anchor="end" fill="#000" stroke="#000" stroke-width="0.14" stroke-linejoin="round">-10</text>
<text x="23.50" y="336.22" font-size="4.2" text-anchor="end" fill="#000" stroke="#000" stroke-width="0.14" stroke-linejoin="round">-5</text>
<text x="23.50" y="320.00" font-size="4.2" text-anchor="end" fill="#000" stroke="#000" stroke-width="0.14" stroke-linejoin="round">0</text>
<text x="23.50" y="303.78" font-size="4.2" text-anchor="end" fill="#000" stroke="#000" stroke-width="0.14" stroke-linejoin="round">5</text>
<text x="23.50" y="287.56" font-size="4.2" text-anchor="end" fill="#000" stroke="#000" stroke-width="0.14" stroke-linejoin="round">10</text>
<text x="23.50" y="271.34" font-size="4.2" text-anchor="end" fill="#000" stroke="#000" stroke-width="0.14" stroke-linejoin="round">15</text>
<text x="23.50" y="255.12" font-size="4.2" text-anchor="end" fill="#000" stroke="#000" stroke-width="0.14" stroke-linejoin="round">20</text>
<text x="23.50" y="238.90" font-size="4.2" text-anchor="end" fill="#000" stroke="#000" stroke-width="0.14" stroke-linejoin="round">25</text>
<text x="24.40" y="407.10" font-size="4.2" text-anchor="middle" fill="#000" stroke="#000" stroke-width="0.14" stroke-linejoin="round">0.2</text>
<text x="50.10" y="407.10" font-size="4.2" text-anchor="middle" fill="#000" stroke="#000" stroke-width="0.14" stroke-linejoin="round">0.21</text>
<text x="75.80" y="407.10" font-size="4.2" text-anchor="middle" fill="#000" stroke="#000" stroke-width="0.14" stroke-linejoin="round">0.22</text>
<text x="101.50" y="407.10" font-size="4.2" text-anchor="middle" fill="#000" stroke="#000" stroke-width="0.14" stroke-linejoin="round">0.23</text>
<text x="127.20" y="407.10" font-size="4.2" text-anchor="middle" fill="#000" stroke="#000" stroke-width="0.14" stroke-linejoin="round">0.24</text>
<text x="152.90" y="407.10" font-size="4.2" text-anchor="middle" fill="#000" stroke="#000" stroke-width="0.14" stroke-linejoin="round">0.25</text>
<text x="178.60" y="407.10" font-size="4.2" text-anchor="middle" fill="#000" stroke="#000" stroke-width="0.14" stroke-linejoin="round">0.26</text>
<text x="204.30" y="407.10" font-size="4.2" text-anchor="middle" fill="#000" stroke="#000" stroke-width="0.14" stroke-linejoin="round">0.27</text>
<text x="230.00" y="407.10" font-size="4.2" text-anchor="middle" fill="#000" stroke="#000" stroke-width="0.14" stroke-linejoin="round">0.28</text>
<text x="255.70" y="407.10" font-size="4.2" text-anchor="middle" fill="#000" stroke="#000" stroke-width="0.14" stroke-linejoin="round">0.29</text>
<text x="281.40" y="407.10" font-size="4.2" text-anchor="middle" fill="#000" stroke="#000" stroke-width="0.14" stroke-linejoin="round">0.3</text>
<text x="152.90" y="413.80" font-size="5.2" text-anchor="middle" fill="#000" text-rendering="auto">Time (seconds)</text>
<text x="10" y="414.40" font-size="4.25" fill="#000">Offset=0.2</text>
<text transform="translate(15.8 318.70) rotate(-90)" font-size="4.8" text-anchor="middle" fill="#000">Current(A)</text>
<rect x="246.9" y="237.1" width="31.599999999999994" height="18.0" fill="#fff" stroke="#9a9a9a" stroke-width="0.6"/>
<path d="M248.6 240.60H264.3" stroke="#4a6fd0" stroke-width="1.2"/>
<text x="265.7" y="242.00" font-size="4.1" fill="#000">iref</text>
<path d="M248.6 246.40H264.3" stroke="#d95319" stroke-width="1.2"/>
<text x="265.7" y="247.80" font-size="4.1" fill="#000">io</text>
<path d="M248.6 252.20H264.3" stroke="#edb120" stroke-width="1.2"/>
<text x="265.7" y="253.60" font-size="4.1" fill="#000">i_error</text>
<rect x="37.1" y="243.4" width="66.0" height="43.49999999999997" fill="#fff"/>
<clipPath id="iclipc"><rect x="37.1" y="243.4" width="66.0" height="43.49999999999997"/></clipPath>
<path d="M42.4 248.40H103.1 M42.4 264.90H103.1 M42.4 281.50H103.1 M73.20 243.4V286.9" stroke="#d8d8d8" stroke-width="0.6" fill="none"/>
<path d="M42.4 243.4V286.9" stroke="#b0b0b0" stroke-width="0.5"/>
<text x="41.80" y="249.20" font-size="2.4" text-anchor="end" fill="#444">1</text>
<text x="41.80" y="265.70" font-size="2.4" text-anchor="end" fill="#444">0</text>
<text x="41.80" y="282.30" font-size="2.4" text-anchor="end" fill="#444">-1</text>
<g clip-path="url(#iclipc)">
<polyline points="42.90,259.68 42.95,270.95 43.00,273.60 43.05,267.26 43.10,274.91 43.15,275.88 43.20,265.00 43.25,265.80 43.30,262.36 43.35,270.32 43.40,271.09 43.45,270.57 43.50,262.39 43.55,264.46 43.60,261.48 43.65,260.67 43.70,261.83 43.75,260.78 43.80,266.97 43.85,269.65 43.90,270.53 43.95,267.65 44.00,264.74 44.05,267.66 44.09,270.22 44.14,266.37 44.19,267.90 44.24,266.29 44.29,265.31 44.34,267.77 44.39,262.66 44.44,272.26 44.49,260.65 44.54,269.61 44.59,261.52 44.64,274.23 44.69,271.38 44.74,263.91 44.79,265.51 44.84,262.49 44.89,267.21 44.94,269.28 44.99,276.04 45.04,261.38 45.09,272.91 45.14,264.82 45.19,268.61 45.24,271.26 45.29,269.77 45.34,269.22 45.39,266.46 45.44,267.28 45.49,267.98 45.54,272.60 45.59,260.78 45.64,265.09 45.69,261.74 45.74,262.97 45.79,263.70 45.84,272.07 45.89,275.80 45.94,273.18 45.99,261.93 46.04,267.49 46.09,262.12 46.14,269.10 46.19,272.74 46.24,269.70 46.29,270.94 46.34,266.43 46.39,258.47 46.44,258.45 46.48,266.60 46.53,269.57 46.58,272.63 46.63,265.46 46.68,267.31 46.73,268.10 46.78,271.66 46.83,266.64 46.88,262.09 46.93,271.70 46.98,268.72 47.03,268.58 47.08,261.26 47.13,266.83 47.18,259.26 47.23,258.24 47.28,265.78 47.33,264.89 47.38,269.31 47.43,273.15 47.48,266.62 47.53,274.66 47.58,264.15 47.63,270.10 47.68,261.12 47.73,267.26 47.78,265.29 47.83,265.75 47.88,269.26 47.93,258.32 47.98,267.15 48.03,263.04 48.08,267.13 48.13,268.33 48.18,264.95 48.23,264.93 48.28,261.47 48.33,268.97 48.38,263.56 48.43,268.48 48.48,260.21 48.53,272.53 48.58,261.97 48.63,271.57 48.68,264.47 48.73,268.84 48.78,265.79 48.83,269.41 48.87,266.42 48.92,271.99 48.97,269.33 49.02,269.36 49.07,273.71 49.12,263.25 49.17,272.06 49.22,266.62 49.27,259.77 49.32,268.39 49.37,265.36 49.42,273.69 49.47,264.07 49.52,266.44 49.57,267.24 49.62,257.79 49.67,268.43 49.72,261.79 49.77,272.37 49.82,273.49 49.87,266.09 49.92,259.13 49.97,266.91 50.02,266.87 50.07,269.26 50.12,264.76 50.17,260.80 50.22,265.41 50.27,261.94 50.32,273.83 50.37,262.88 50.42,263.11 50.47,265.76 50.52,260.49 50.57,263.98 50.62,265.33 50.67,263.76 50.72,264.80 50.77,271.36 50.82,267.79 50.87,259.97 50.92,263.96 50.97,269.13 51.02,262.96 51.07,266.17 51.12,265.67 51.17,268.11 51.22,264.98 51.26,265.14 51.31,261.96 51.36,267.32 51.41,261.63 51.46,273.34 51.51,265.60 51.56,264.69 51.61,269.14 51.66,265.28 51.71,266.03 51.76,265.39 51.81,262.41 51.86,261.54 51.91,262.50 51.96,270.56 52.01,262.79 52.06,263.76 52.11,263.55 52.16,268.59 52.21,274.10 52.26,261.42 52.31,267.89 52.36,265.99 52.41,264.12 52.46,267.66 52.51,259.83 52.56,269.08 52.61,266.37 52.66,260.99 52.71,272.39 52.76,269.10 52.81,270.46 52.86,258.93 52.91,264.12 52.96,263.00 53.01,268.05 53.06,271.24 53.11,256.88 53.16,265.34 53.21,264.68 53.26,269.62 53.31,265.03 53.36,259.60 53.41,264.33 53.46,260.61 53.51,261.74 53.56,265.33 53.61,263.02 53.65,266.35 53.70,258.43 53.75,273.69 53.80,270.62 53.85,268.22 53.90,259.36 53.95,256.44 54.00,261.23 54.05,263.99 54.10,273.60 54.15,270.73 54.20,262.66 54.25,270.27 54.30,270.32 54.35,265.00 54.40,270.27 54.45,266.35 54.50,262.01 54.55,259.71 54.60,264.32 54.65,269.24 54.70,258.88 54.75,257.74 54.80,267.23 54.85,256.20 54.90,272.80 54.95,262.84 55.00,267.98 55.05,272.92 55.10,258.35 55.15,260.10 55.20,273.30 55.25,263.44 55.30,264.12 55.35,265.66 55.40,269.30 55.45,270.46 55.50,265.11 55.55,263.14 55.60,264.44 55.65,265.92 55.70,270.33 55.75,265.15 55.80,272.55 55.85,260.76 55.90,266.86 55.95,272.22 56.00,270.15 56.04,265.94 56.09,260.58 56.14,261.32 56.19,263.75 56.24,265.79 56.29,263.31 56.34,258.00 56.39,261.14 56.44,266.65 56.49,268.03 56.54,258.19 56.59,262.73 56.64,256.96 56.69,261.82 56.74,272.89 56.79,264.56 56.84,262.75 56.89,261.66 56.94,258.92 56.99,256.05 57.04,264.02 57.09,262.98 57.14,270.68 57.19,256.98 57.24,266.07 57.29,270.04 57.34,255.53 57.39,267.01 57.44,257.02 57.49,266.39 57.54,270.57 57.59,264.05 57.64,265.31 57.69,260.99 57.74,265.30 57.79,268.99 57.84,263.19 57.89,263.37 57.94,265.69 57.99,267.59 58.04,256.76 58.09,264.21 58.14,260.93 58.19,266.11 58.24,268.48 58.29,265.28 58.34,269.58 58.39,259.53 58.43,262.08 58.48,259.52 58.53,264.12 58.58,264.27 58.63,262.97 58.68,258.50 58.73,263.48 58.78,261.89 58.83,266.46 58.88,262.60 58.93,268.90 58.98,264.79 59.03,255.59 59.08,262.99 59.13,257.45 59.18,267.99 59.23,270.03 59.28,263.59 59.33,265.65 59.38,257.33 59.43,255.08 59.48,261.23 59.53,262.54 59.58,256.99 59.63,264.04 59.68,265.01 59.73,266.45 59.78,270.43 59.83,267.17 59.88,261.98 59.93,264.05 59.98,266.22 60.03,258.96 60.08,269.39 60.13,267.51 60.18,262.54 60.23,260.72 60.28,272.11 60.33,267.21 60.38,267.63 60.43,271.40 60.48,267.80 60.53,264.40 60.58,266.56 60.63,259.43 60.68,266.59 60.73,256.66 60.78,265.29 60.82,265.87 60.87,256.55 60.92,271.85 60.97,258.33 61.02,267.99 61.07,261.05 61.12,264.74 61.17,260.47 61.22,271.92 61.27,267.89 61.32,271.31 61.37,266.78 61.42,266.39 61.47,263.99 61.52,262.27 61.57,265.99 61.62,264.01 61.67,262.63 61.72,257.23 61.77,261.93 61.82,265.94 61.87,261.20 61.92,264.79 61.97,262.63 62.02,258.70 62.07,259.26 62.12,259.96 62.17,261.94 62.22,262.06 62.27,268.13 62.32,258.41 62.37,254.49 62.42,266.20 62.47,261.16 62.52,262.63 62.57,271.65 62.62,269.59 62.67,265.73 62.72,267.30 62.77,263.64 62.82,267.34 62.87,260.41 62.92,259.95 62.97,261.02 63.02,270.04 63.07,269.93 63.12,260.39 63.17,268.17 63.21,262.34 63.26,267.77 63.31,261.62 63.36,267.23 63.41,262.52 63.46,261.73 63.51,262.89 63.56,263.68 63.61,260.41 63.66,256.93 63.71,270.43 63.76,261.21 63.81,254.92 63.86,254.19 63.91,254.18 63.96,260.21 64.01,268.90 64.06,255.69 64.11,261.47 64.16,254.77 64.21,267.74 64.26,264.48 64.31,264.28 64.36,268.81 64.41,270.11 64.46,267.38 64.51,260.26 64.56,256.96 64.61,258.19 64.66,255.05 64.71,270.76 64.76,261.93 64.81,263.33 64.86,263.62 64.91,271.18 64.96,260.25 65.01,267.96 65.06,264.06 65.11,262.04 65.16,254.21 65.21,266.76 65.26,259.39 65.31,260.64 65.36,263.66 65.41,263.07 65.46,267.62 65.51,259.67 65.56,263.35 65.60,263.85 65.65,262.72 65.70,265.61 65.75,261.46 65.80,267.91 65.85,259.43 65.90,256.19 65.95,262.37 66.00,267.77 66.05,260.25 66.10,259.74 66.15,260.98 66.20,263.23 66.25,261.71 66.30,263.86 66.35,254.86 66.40,269.09 66.45,265.03 66.50,258.63 66.55,268.50 66.60,264.41 66.65,268.92 66.70,257.19 66.75,269.73 66.80,262.58 66.85,253.59 66.90,265.69 66.95,261.01 67.00,257.85 67.05,261.38 67.10,253.72 67.15,264.90 67.20,261.34 67.25,261.09 67.30,268.54 67.35,262.43 67.40,259.33 67.45,258.04 67.50,261.97 67.55,266.94 67.60,259.64 67.65,257.61 67.70,266.28 67.75,262.45 67.80,262.07 67.85,270.59 67.90,256.78 67.95,263.03 67.99,254.28 68.04,260.80 68.09,264.72 68.14,267.09 68.19,256.47 68.24,265.79 68.29,265.55 68.34,261.52 68.39,270.48 68.44,262.05 68.49,258.14 68.54,263.91 68.59,253.77 68.64,268.91 68.69,266.37 68.74,260.22 68.79,264.70 68.84,264.34 68.89,270.38 68.94,259.22 68.99,256.22 69.04,253.15 69.09,260.61 69.14,254.96 69.19,261.13 69.24,263.70 69.29,259.92 69.34,257.68 69.39,267.13 69.44,260.96 69.49,262.86 69.54,266.04 69.59,256.04 69.64,257.72 69.69,270.22 69.74,261.08 69.79,257.16 69.84,260.64 69.89,259.21 69.94,256.30 69.99,259.92 70.04,261.63 70.09,261.65 70.14,264.08 70.19,254.02 70.24,255.06 70.29,265.17 70.34,259.70 70.38,267.04 70.43,262.99 70.48,255.39 70.53,264.00 70.58,257.13 70.63,262.75 70.68,267.03 70.73,270.01 70.78,261.27 70.83,264.65 70.88,262.88 70.93,265.04 70.98,252.76 71.03,259.80 71.08,262.80 71.13,263.58 71.18,258.16 71.23,265.13 71.28,266.35 71.33,261.77 71.38,260.45 71.43,259.87 71.48,262.05 71.53,266.64 71.58,268.04 71.63,259.33 71.68,257.28 71.73,257.88 71.78,265.73 71.83,262.34 71.88,262.67 71.93,263.47 71.98,263.00 72.03,260.78 72.08,256.72 72.13,258.58 72.18,261.83 72.23,263.02 72.28,259.64 72.33,259.43 72.38,267.29 72.43,259.19 72.48,262.21 72.53,259.82 72.58,257.42 72.63,254.51 72.68,258.83 72.73,257.56 72.77,264.92 72.82,256.13 72.87,259.39 72.92,264.11 72.97,260.74 73.02,263.42 73.07,264.93 73.12,253.96 73.17,259.46 73.22,257.06 73.27,267.24 73.32,260.80 73.37,263.51 73.42,268.81 73.47,259.78 73.52,261.69 73.57,263.17 73.62,260.21 73.67,266.91 73.72,265.00 73.77,265.82 73.82,261.64 73.87,259.94 73.92,259.89 73.97,259.86 74.02,254.27 74.07,263.08 74.12,265.06 74.17,261.46 74.22,259.35 74.27,261.69 74.32,262.53 74.37,262.99 74.42,269.44 74.47,257.83 74.52,263.18 74.57,264.62 74.62,261.95 74.67,260.59 74.72,257.15 74.77,259.05 74.82,264.74 74.87,268.01 74.92,258.81 74.97,263.75 75.02,263.97 75.07,266.11 75.12,262.79 75.16,263.67 75.21,265.65 75.26,256.68 75.31,261.97 75.36,254.08 75.41,253.20 75.46,258.21 75.51,255.10 75.56,264.03 75.61,266.16 75.66,260.52 75.71,261.25 75.76,260.85 75.81,260.74 75.86,262.48 75.91,263.43 75.96,259.90 76.01,258.50 76.06,259.67 76.11,265.43 76.16,260.13 76.21,268.27 76.26,260.93 76.31,267.93 76.36,256.82 76.41,259.00 76.46,264.10 76.51,264.16 76.56,261.37 76.61,270.50 76.66,262.38 76.71,263.33 76.76,259.62 76.81,269.28 76.86,265.83 76.91,263.91 76.96,255.05 77.01,263.72 77.06,260.14 77.11,263.87 77.16,266.13 77.21,258.95 77.26,263.14 77.31,266.02 77.36,262.93 77.41,260.81 77.46,257.67 77.51,259.37 77.55,256.78 77.60,266.55 77.65,262.74 77.70,257.05 77.75,262.29 77.80,256.75 77.85,253.60 77.90,267.57 77.95,267.42 78.00,256.00 78.05,259.28 78.10,263.28 78.15,260.75 78.20,258.72 78.25,260.21 78.30,261.40 78.35,260.06 78.40,263.37 78.45,261.47 78.50,259.20 78.55,262.60 78.60,255.34 78.65,268.75 78.70,255.03 78.75,262.18 78.80,264.01 78.85,264.34 78.90,263.69 78.95,268.03 79.00,257.74 79.05,262.30 79.10,263.25 79.15,260.49 79.20,260.08 79.25,268.19 79.30,259.59 79.35,260.61 79.40,261.49 79.45,261.77 79.50,263.40 79.55,261.82 79.60,264.33 79.65,263.32 79.70,264.81 79.75,268.65 79.80,259.13 79.85,269.87 79.90,260.86 79.94,265.66 79.99,263.50 80.04,261.55 80.09,254.40 80.14,269.76 80.19,259.60 80.24,259.48 80.29,267.44 80.34,263.21 80.39,271.06 80.44,270.13 80.49,265.96 80.54,264.01 80.59,266.21 80.64,257.30 80.69,263.70 80.74,263.61 80.79,260.97 80.84,264.09 80.89,256.75 80.94,266.89 80.99,268.55 81.04,257.49 81.09,263.68 81.14,269.68 81.19,264.87 81.24,258.67 81.29,258.87 81.34,266.76 81.39,270.97 81.44,258.49 81.49,263.30 81.54,259.83 81.59,261.95 81.64,264.50 81.69,263.01 81.74,260.27 81.79,271.72 81.84,262.54 81.89,262.45 81.94,267.98 81.99,263.31 82.04,262.40 82.09,267.33 82.14,258.87 82.19,266.49 82.24,267.71 82.29,266.15 82.33,262.57 82.38,263.31 82.43,256.03 82.48,262.81 82.53,264.61 82.58,267.09 82.63,264.01 82.68,261.75 82.73,259.85 82.78,263.24 82.83,264.02 82.88,268.62 82.93,263.51 82.98,261.35 83.03,263.04 83.08,261.45 83.13,262.52 83.18,254.85 83.23,256.76 83.28,258.47 83.33,265.54 83.38,263.24 83.43,264.21 83.48,268.54 83.53,259.17 83.58,268.48 83.63,265.27 83.68,260.60 83.73,269.99 83.78,257.60 83.83,258.88 83.88,262.80 83.93,265.42 83.98,262.90 84.03,255.04 84.08,262.46 84.13,263.39 84.18,272.28 84.23,269.61 84.28,264.30 84.33,259.15 84.38,265.25 84.43,258.86 84.48,264.68 84.53,265.39 84.58,262.14 84.63,264.92 84.68,262.47 84.72,261.45 84.77,270.41 84.82,266.37 84.87,262.61 84.92,260.67 84.97,264.69 85.02,266.35 85.07,267.57 85.12,270.23 85.17,265.94 85.22,259.24 85.27,272.54 85.32,268.94 85.37,267.56 85.42,269.71 85.47,257.73 85.52,262.48 85.57,261.90 85.62,269.13 85.67,259.09 85.72,262.74 85.77,270.56 85.82,266.88 85.87,262.51 85.92,272.13 85.97,258.52 86.02,266.10 86.07,263.22 86.12,266.36 86.17,263.04 86.22,260.67 86.27,265.13 86.32,258.65 86.37,266.50 86.42,262.91 86.47,268.19 86.52,262.39 86.57,261.45 86.62,266.00 86.67,269.55 86.72,255.68 86.77,264.85 86.82,267.01 86.87,258.34 86.92,260.64 86.97,267.11 87.02,260.89 87.07,261.70 87.11,271.70 87.16,260.43 87.21,260.78 87.26,255.80 87.31,259.82 87.36,259.26 87.41,271.75 87.46,269.65 87.51,259.15 87.56,272.85 87.61,267.80 87.66,263.78 87.71,267.98 87.76,266.18 87.81,261.33 87.86,257.13 87.91,260.74 87.96,264.59 88.01,263.11 88.06,261.49 88.11,268.77 88.16,260.14 88.21,268.44 88.26,262.63 88.31,265.15 88.36,259.95 88.41,264.67 88.46,261.40 88.51,257.33 88.56,264.66 88.61,264.54 88.66,268.28 88.71,265.98 88.76,260.49 88.81,262.20 88.86,256.18 88.91,260.07 88.96,270.33 89.01,271.27 89.06,268.09 89.11,266.15 89.16,267.37 89.21,266.95 89.26,257.55 89.31,261.21 89.36,269.95 89.41,269.94 89.46,265.96 89.50,263.64 89.55,263.34 89.60,262.67 89.65,261.06 89.70,256.83 89.75,265.65 89.80,263.11 89.85,264.13 89.90,272.32 89.95,267.57 90.00,262.09 90.05,267.55 90.10,258.71 90.15,269.57 90.20,266.23 90.25,264.30 90.30,267.57 90.35,271.33 90.40,263.19 90.45,260.98 90.50,273.76 90.55,265.26 90.60,271.56 90.65,262.35 90.70,266.84 90.75,262.52 90.80,267.95 90.85,264.09 90.90,262.43 90.95,271.89 91.00,266.74 91.05,256.69 91.10,264.32 91.15,261.43 91.20,260.16 91.25,262.87 91.30,263.33 91.35,265.52 91.40,262.01 91.45,257.47 91.50,263.13 91.55,269.17 91.60,259.62 91.65,268.08 91.70,267.41 91.75,263.56 91.80,266.80 91.85,262.30 91.89,263.80 91.94,261.16 91.99,267.51 92.04,271.38 92.09,262.65 92.14,270.66 92.19,256.96 92.24,261.80 92.29,261.27 92.34,272.95 92.39,263.09 92.44,268.95 92.49,257.03 92.54,266.14 92.59,268.08 92.64,265.51 92.69,257.08 92.74,266.45 92.79,269.17 92.84,271.37 92.89,267.43 92.94,258.51 92.99,264.86 93.04,269.63 93.09,262.27 93.14,268.20 93.19,263.75 93.24,266.20 93.29,269.07 93.34,262.80 93.39,274.44 93.44,266.50 93.49,267.34 93.54,262.70 93.59,266.15 93.64,264.75 93.69,259.65 93.74,259.35 93.79,267.17 93.84,265.57 93.89,257.36 93.94,257.37 93.99,264.66 94.04,265.70 94.09,268.61 94.14,260.69 94.19,268.57 94.24,264.72 94.28,263.87 94.33,265.45 94.38,270.31 94.43,268.48 94.48,269.92 94.53,263.15 94.58,264.90 94.63,261.13 94.68,263.76 94.73,264.45 94.78,264.16 94.83,269.24 94.88,268.02 94.93,269.47 94.98,266.76 95.03,270.84 95.08,266.73 95.13,270.40 95.18,268.42 95.23,269.43 95.28,266.00 95.33,260.97 95.38,260.09 95.43,274.74 95.48,268.00 95.53,268.25 95.58,265.64 95.63,264.39 95.68,274.98 95.73,261.57 95.78,266.13 95.83,266.19 95.88,261.56 95.93,260.97 95.98,263.42 96.03,264.98 96.08,264.38 96.13,269.98 96.18,261.43 96.23,268.25 96.28,272.83 96.33,270.37 96.38,261.64 96.43,257.95 96.48,270.20 96.53,268.71 96.58,264.07 96.63,272.11 96.67,264.87 96.72,267.09 96.77,262.17 96.82,268.02 96.87,264.81 96.92,264.50 96.97,271.32 97.02,267.61 97.07,260.27 97.12,269.69 97.17,270.32 97.22,263.16 97.27,265.06 97.32,266.99 97.37,265.70 97.42,267.32 97.47,269.59 97.52,264.69 97.57,275.42 97.62,263.77 97.67,264.53 97.72,275.32 97.77,275.47 97.82,267.04 97.87,266.09 97.92,262.29 97.97,271.83 98.02,267.67 98.07,263.30 98.12,268.69 98.17,272.85 98.22,269.92 98.27,275.58 98.32,271.98 98.37,268.90 98.42,266.88 98.47,269.40 98.52,272.28 98.57,270.75 98.62,271.60 98.67,268.04 98.72,270.38 98.77,272.33 98.82,266.40 98.87,261.55 98.92,274.56 98.97,269.66 99.02,265.27 99.06,268.18 99.11,266.12 99.16,259.86 99.21,266.42 99.26,261.09 99.31,268.10 99.36,266.77 99.41,272.13 99.46,266.75 99.51,268.88 99.56,266.00 99.61,265.67 99.66,261.30 99.71,271.58 99.76,268.07 99.81,264.84 99.86,268.25 99.91,265.59 99.96,264.27 100.01,268.47 100.06,272.63 100.11,266.26 100.16,261.30 100.21,264.80 100.26,275.18 100.31,263.97 100.36,272.58 100.41,266.46 100.46,270.68 100.51,267.05 100.56,260.74 100.61,265.76 100.66,276.14 100.71,266.99 100.76,270.00 100.81,266.13 100.86,267.02 100.91,268.99 100.96,269.65 101.01,276.23 101.06,267.57 101.11,266.88 101.16,264.82 101.21,262.03 101.26,260.77 101.31,270.55 101.36,259.71 101.41,273.77 101.45,271.43 101.50,266.48 101.55,262.80 101.60,267.90 101.65,267.88 101.70,272.65 101.75,264.62 101.80,266.20 101.85,267.61 101.90,266.66 101.95,265.18 102.00,260.50 102.05,260.83 102.10,264.99 102.15,266.94 102.20,272.21 102.25,276.52 102.30,275.31 102.35,269.65 102.40,276.04 102.45,267.48 102.50,265.73 102.55,276.59 102.60,263.43" fill="none" stroke="#edb120" stroke-width="0.7" stroke-linejoin="round" />
<path d="M43.2 243.4L43.4 287" stroke="#d95319" stroke-width="1.0"/>
<path d="M72.6 243.4L73.6 287" stroke="#4a6fd0" stroke-width="1.0"/><path d="M73.0 243.4L73.9 287" stroke="#d95319" stroke-width="0.9"/>
</g>
<rect x="37.1" y="243.4" width="66.0" height="43.49999999999997" fill="none" stroke="#2a2a2a" stroke-width="1.1"/>
<path d="M68.6 286.9L41.2 316.2" stroke="#1a1a1a" stroke-width="0.85"/>
</g>
<rect x="317.6" y="6.1" width="223.5" height="185.6" fill="#f0f0f0"/>
<rect x="341.8" y="17.3" width="191.8" height="153.79999999999998" fill="#fff"/>
<path d="M346.24 17.3V171.1 M355.36 17.3V171.1 M359.92 17.3V171.1 M364.48 17.3V171.1 M373.60 17.3V171.1 M378.16 17.3V171.1 M382.72 17.3V171.1 M391.84 17.3V171.1 M396.40 17.3V171.1 M400.96 17.3V171.1 M410.08 17.3V171.1 M414.64 17.3V171.1 M419.20 17.3V171.1 M428.32 17.3V171.1 M432.88 17.3V171.1 M437.44 17.3V171.1 M446.56 17.3V171.1 M451.12 17.3V171.1 M455.68 17.3V171.1 M464.80 17.3V171.1 M469.36 17.3V171.1 M473.92 17.3V171.1 M483.04 17.3V171.1 M487.60 17.3V171.1 M492.16 17.3V171.1 M501.28 17.3V171.1 M505.84 17.3V171.1 M510.40 17.3V171.1 M519.52 17.3V171.1 M524.08 17.3V171.1 M528.64 17.3V171.1 M341.8 167.48H533.6 M341.8 163.85H533.6 M341.8 160.23H533.6 M341.8 152.99H533.6 M341.8 149.36H533.6 M341.8 145.74H533.6 M341.8 138.50H533.6 M341.8 134.88H533.6 M341.8 131.25H533.6 M341.8 124.01H533.6 M341.8 120.38H533.6 M341.8 116.76H533.6 M341.8 109.52H533.6 M341.8 105.89H533.6 M341.8 102.27H533.6 M341.8 95.03H533.6 M341.8 91.40H533.6 M341.8 87.78H533.6 M341.8 80.54H533.6 M341.8 76.91H533.6 M341.8 73.29H533.6 M341.8 66.05H533.6 M341.8 62.42H533.6 M341.8 58.80H533.6 M341.8 51.56H533.6 M341.8 47.93H533.6 M341.8 44.31H533.6 M341.8 37.07H533.6 M341.8 33.44H533.6 M341.8 29.82H533.6 M341.8 22.58H533.6 M341.8 18.95H533.6" stroke="#e6e6e6" stroke-width="0.5" stroke-dasharray="0.7 0.9" fill="none"/>
<path d="M350.80 17.3V171.1 M369.04 17.3V171.1 M387.28 17.3V171.1 M405.52 17.3V171.1 M423.76 17.3V171.1 M442.00 17.3V171.1 M460.24 17.3V171.1 M478.48 17.3V171.1 M496.72 17.3V171.1 M514.96 17.3V171.1 M533.20 17.3V171.1 M341.8 156.61H533.6 M341.8 142.12H533.6 M341.8 127.63H533.6 M341.8 113.14H533.6 M341.8 98.65H533.6 M341.8 84.16H533.6 M341.8 69.67H533.6 M341.8 55.18H533.6 M341.8 40.69H533.6 M341.8 26.20H533.6" stroke="#e4e4e4" stroke-width="0.6" fill="none"/>
<path d="M355.36 171.1V17.30 M364.48 171.1V58.59 M373.60 171.1V87.42 M382.72 171.1V82.71 M391.84 171.1V125.38 M400.96 171.1V129.95 M410.08 171.1V131.04 M419.20 171.1V124.30 M428.32 171.1V82.20 M437.44 171.1V32.00 M446.56 171.1V92.13 M455.68 171.1V43.73 M464.80 171.1V55.69 M473.92 171.1V133.14 M483.04 171.1V45.33 M492.16 171.1V158.93 M501.28 171.1V130.24 M510.40 171.1V66.26 M519.52 171.1V53.88 M528.64 171.1V84.16" stroke="#a8cef0" stroke-width="0.95" fill="none"/>
<rect x="341.8" y="17.3" width="191.8" height="153.79999999999998" fill="none" stroke="#7a7a7a" stroke-width="0.65"/>
<path d="M350.80 171.1v-1.8M350.80 17.3v1.8 M369.04 171.1v-1.8M369.04 17.3v1.8 M387.28 171.1v-1.8M387.28 17.3v1.8 M405.52 171.1v-1.8M405.52 17.3v1.8 M423.76 171.1v-1.8M423.76 17.3v1.8 M442.00 171.1v-1.8M442.00 17.3v1.8 M460.24 171.1v-1.8M460.24 17.3v1.8 M478.48 171.1v-1.8M478.48 17.3v1.8 M496.72 171.1v-1.8M496.72 17.3v1.8 M514.96 171.1v-1.8M514.96 17.3v1.8 M533.20 171.1v-1.8M533.20 17.3v1.8 M341.8 171.10h1.8M533.6 171.10h-1.8 M341.8 156.61h1.8M533.6 156.61h-1.8 M341.8 142.12h1.8M533.6 142.12h-1.8 M341.8 127.63h1.8M533.6 127.63h-1.8 M341.8 113.14h1.8M533.6 113.14h-1.8 M341.8 98.65h1.8M533.6 98.65h-1.8 M341.8 84.16h1.8M533.6 84.16h-1.8 M341.8 69.67h1.8M533.6 69.67h-1.8 M341.8 55.18h1.8M533.6 55.18h-1.8 M341.8 40.69h1.8M533.6 40.69h-1.8 M341.8 26.20h1.8M533.6 26.20h-1.8" stroke="#444" stroke-width="0.5" fill="none"/>
<text x="350.80" y="179.30" font-size="5.6" text-anchor="middle" fill="#1a1a1a">0</text>
<text x="369.04" y="179.30" font-size="5.6" text-anchor="middle" fill="#1a1a1a">200</text>
<text x="387.28" y="179.30" font-size="5.6" text-anchor="middle" fill="#1a1a1a">400</text>
<text x="405.52" y="179.30" font-size="5.6" text-anchor="middle" fill="#1a1a1a">600</text>
<text x="423.76" y="179.30" font-size="5.6" text-anchor="middle" fill="#1a1a1a">800</text>
<text x="442.00" y="179.30" font-size="5.6" text-anchor="middle" fill="#1a1a1a">1000</text>
<text x="460.24" y="179.30" font-size="5.6" text-anchor="middle" fill="#1a1a1a">1200</text>
<text x="478.48" y="179.30" font-size="5.6" text-anchor="middle" fill="#1a1a1a">1400</text>
<text x="496.72" y="179.30" font-size="5.6" text-anchor="middle" fill="#1a1a1a">1600</text>
<text x="514.96" y="179.30" font-size="5.6" text-anchor="middle" fill="#1a1a1a">1800</text>
<text x="533.20" y="179.30" font-size="5.6" text-anchor="middle" fill="#1a1a1a">2000</text>
<text x="339.20" y="173.50" font-size="5.6" text-anchor="end" fill="#1a1a1a">0</text>
<text x="339.20" y="159.01" font-size="5.6" text-anchor="end" fill="#1a1a1a">0.2</text>
<text x="339.20" y="144.52" font-size="5.6" text-anchor="end" fill="#1a1a1a">0.4</text>
<text x="339.20" y="130.03" font-size="5.6" text-anchor="end" fill="#1a1a1a">0.6</text>
<text x="339.20" y="115.54" font-size="5.6" text-anchor="end" fill="#1a1a1a">0.8</text>
<text x="339.20" y="101.05" font-size="5.6" text-anchor="end" fill="#1a1a1a">1</text>
<text x="339.20" y="86.56" font-size="5.6" text-anchor="end" fill="#1a1a1a">1.2</text>
<text x="339.20" y="72.07" font-size="5.6" text-anchor="end" fill="#1a1a1a">1.4</text>
<text x="339.20" y="57.58" font-size="5.6" text-anchor="end" fill="#1a1a1a">1.6</text>
<text x="339.20" y="43.09" font-size="5.6" text-anchor="end" fill="#1a1a1a">1.8</text>
<text x="339.20" y="28.60" font-size="5.6" text-anchor="end" fill="#1a1a1a">2</text>
<text x="437.70" y="14.80" font-size="6.4" text-anchor="middle" fill="#000">Fundamental (50Hz) = 20.36 , THD= 7.92%</text>
<text x="437.70" y="188.10" font-size="6.3" text-anchor="middle" fill="#1a1a1a">Frequency (Hz)</text>
<text transform="translate(329.0 91.4) rotate(-90)" font-size="5.9" text-anchor="middle" fill="#1a1a1a">Mag (% of Fundamental)</text>
<rect x="321.8" y="232.0" width="223.8" height="184.60000000000002" fill="#f0f0f0"/>
<rect x="345.3" y="244.4" width="188.90000000000003" height="151.9" fill="#fff"/>
<path d="M345.31 244.4V396.3 M349.80 244.4V396.3 M358.80 244.4V396.3 M363.30 244.4V396.3 M367.79 244.4V396.3 M376.79 244.4V396.3 M381.29 244.4V396.3 M385.78 244.4V396.3 M394.78 244.4V396.3 M399.28 244.4V396.3 M403.77 244.4V396.3 M412.77 244.4V396.3 M417.26 244.4V396.3 M421.76 244.4V396.3 M430.76 244.4V396.3 M435.25 244.4V396.3 M439.75 244.4V396.3 M448.75 244.4V396.3 M453.25 244.4V396.3 M457.74 244.4V396.3 M466.74 244.4V396.3 M471.24 244.4V396.3 M475.73 244.4V396.3 M484.73 244.4V396.3 M489.23 244.4V396.3 M493.72 244.4V396.3 M502.72 244.4V396.3 M507.22 244.4V396.3 M511.71 244.4V396.3 M520.71 244.4V396.3 M525.21 244.4V396.3 M529.70 244.4V396.3 M345.3 393.04H534.2 M345.3 389.78H534.2 M345.3 386.52H534.2 M345.3 383.26H534.2 M345.3 376.74H534.2 M345.3 373.48H534.2 M345.3 370.22H534.2 M345.3 366.96H534.2 M345.3 360.44H534.2 M345.3 357.18H534.2 M345.3 353.92H534.2 M345.3 350.66H534.2 M345.3 344.14H534.2 M345.3 340.88H534.2 M345.3 337.62H534.2 M345.3 334.36H534.2 M345.3 327.84H534.2 M345.3 324.58H534.2 M345.3 321.32H534.2 M345.3 318.06H534.2 M345.3 311.54H534.2 M345.3 308.28H534.2 M345.3 305.02H534.2 M345.3 301.76H534.2 M345.3 295.24H534.2 M345.3 291.98H534.2 M345.3 288.72H534.2 M345.3 285.46H534.2 M345.3 278.94H534.2 M345.3 275.68H534.2 M345.3 272.42H534.2 M345.3 269.16H534.2 M345.3 262.64H534.2 M345.3 259.38H534.2 M345.3 256.12H534.2 M345.3 252.86H534.2 M345.3 246.34H534.2" stroke="#e6e6e6" stroke-width="0.5" stroke-dasharray="0.7 0.9" fill="none"/>
<path d="M354.30 244.4V396.3 M372.29 244.4V396.3 M390.28 244.4V396.3 M408.27 244.4V396.3 M426.26 244.4V396.3 M444.25 244.4V396.3 M462.24 244.4V396.3 M480.23 244.4V396.3 M498.22 244.4V396.3 M516.21 244.4V396.3 M345.3 380.00H534.2 M345.3 363.70H534.2 M345.3 347.40H534.2 M345.3 331.10H534.2 M345.3 314.80H534.2 M345.3 298.50H534.2 M345.3 282.20H534.2 M345.3 265.90H534.2 M345.3 249.60H534.2" stroke="#e4e4e4" stroke-width="0.6" fill="none"/>
<path d="M358.80 396.3V244.40 M367.79 396.3V314.43 M376.79 396.3V258.38 M385.78 396.3V352.34 M394.78 396.3V356.55 M403.77 396.3V346.18 M412.77 396.3V327.71 M421.76 396.3V348.45 M430.76 396.3V349.74 M439.75 396.3V362.06 M448.75 396.3V329.33 M457.74 396.3V345.86 M466.74 396.3V321.56 M475.73 396.3V358.17 M484.73 396.3V380.20 M493.72 396.3V338.73 M502.72 396.3V349.74 M511.71 396.3V321.56 M520.71 396.3V292.72 M529.70 396.3V336.14" stroke="#a8cef0" stroke-width="0.95" fill="none"/>
<path d="M363.30 396.3V392.39 M372.29 396.3V392.39 M381.29 396.3V391.08 M390.28 396.3V392.39 M399.28 396.3V392.39 M408.27 396.3V392.39 M417.26 396.3V391.08 M426.26 396.3V392.39 M435.25 396.3V392.39 M444.25 396.3V392.39 M453.25 396.3V391.08 M462.24 396.3V392.39 M471.24 396.3V392.39 M480.23 396.3V392.39 M489.23 396.3V392.39 M498.22 396.3V391.08 M507.22 396.3V392.39 M516.21 396.3V392.39 M525.21 396.3V391.08" stroke="#a8cef0" stroke-width="0.95" fill="none"/>
<rect x="345.3" y="244.4" width="188.90000000000003" height="151.9" fill="none" stroke="#7a7a7a" stroke-width="0.65"/>
<path d="M354.30 396.3v-1.8M354.30 244.4v1.8 M372.29 396.3v-1.8M372.29 244.4v1.8 M390.28 396.3v-1.8M390.28 244.4v1.8 M408.27 396.3v-1.8M408.27 244.4v1.8 M426.26 396.3v-1.8M426.26 244.4v1.8 M444.25 396.3v-1.8M444.25 244.4v1.8 M462.24 396.3v-1.8M462.24 244.4v1.8 M480.23 396.3v-1.8M480.23 244.4v1.8 M498.22 396.3v-1.8M498.22 244.4v1.8 M516.21 396.3v-1.8M516.21 244.4v1.8 M534.20 396.3v-1.8M534.20 244.4v1.8 M345.3 396.30h1.8M534.2 396.30h-1.8 M345.3 380.00h1.8M534.2 380.00h-1.8 M345.3 363.70h1.8M534.2 363.70h-1.8 M345.3 347.40h1.8M534.2 347.40h-1.8 M345.3 331.10h1.8M534.2 331.10h-1.8 M345.3 314.80h1.8M534.2 314.80h-1.8 M345.3 298.50h1.8M534.2 298.50h-1.8 M345.3 282.20h1.8M534.2 282.20h-1.8 M345.3 265.90h1.8M534.2 265.90h-1.8 M345.3 249.60h1.8M534.2 249.60h-1.8" stroke="#444" stroke-width="0.5" fill="none"/>
<text x="354.30" y="404.50" font-size="5.6" text-anchor="middle" fill="#1a1a1a">0</text>
<text x="372.29" y="404.50" font-size="5.6" text-anchor="middle" fill="#1a1a1a">200</text>
<text x="390.28" y="404.50" font-size="5.6" text-anchor="middle" fill="#1a1a1a">400</text>
<text x="408.27" y="404.50" font-size="5.6" text-anchor="middle" fill="#1a1a1a">600</text>
<text x="426.26" y="404.50" font-size="5.6" text-anchor="middle" fill="#1a1a1a">800</text>
<text x="444.25" y="404.50" font-size="5.6" text-anchor="middle" fill="#1a1a1a">1000</text>
<text x="462.24" y="404.50" font-size="5.6" text-anchor="middle" fill="#1a1a1a">1200</text>
<text x="480.23" y="404.50" font-size="5.6" text-anchor="middle" fill="#1a1a1a">1400</text>
<text x="498.22" y="404.50" font-size="5.6" text-anchor="middle" fill="#1a1a1a">1600</text>
<text x="516.21" y="404.50" font-size="5.6" text-anchor="middle" fill="#1a1a1a">1800</text>
<text x="534.20" y="404.50" font-size="5.6" text-anchor="middle" fill="#1a1a1a">2000</text>
<text x="342.70" y="398.70" font-size="5.6" text-anchor="end" fill="#1a1a1a">0</text>
<text x="342.70" y="382.40" font-size="5.6" text-anchor="end" fill="#1a1a1a">0.05</text>
<text x="342.70" y="366.10" font-size="5.6" text-anchor="end" fill="#1a1a1a">0.1</text>
<text x="342.70" y="349.80" font-size="5.6" text-anchor="end" fill="#1a1a1a">0.15</text>
<text x="342.70" y="333.50" font-size="5.6" text-anchor="end" fill="#1a1a1a">0.2</text>
<text x="342.70" y="317.20" font-size="5.6" text-anchor="end" fill="#1a1a1a">0.25</text>
<text x="342.70" y="300.90" font-size="5.6" text-anchor="end" fill="#1a1a1a">0.3</text>
<text x="342.70" y="284.60" font-size="5.6" text-anchor="end" fill="#1a1a1a">0.35</text>
<text x="342.70" y="268.30" font-size="5.6" text-anchor="end" fill="#1a1a1a">0.4</text>
<text x="342.70" y="252.00" font-size="5.6" text-anchor="end" fill="#1a1a1a">0.45</text>
<text x="439.75" y="241.90" font-size="6.4" text-anchor="middle" fill="#000">Fundamental (50Hz) = 20 , THD= 2.10%</text>
<text x="439.75" y="413.30" font-size="6.3" text-anchor="middle" fill="#1a1a1a">Frequency (Hz)</text>
<text transform="translate(328.8 315.8) rotate(-90)" font-size="5.9" text-anchor="middle" fill="#1a1a1a">Mag (% of Fundamental)</text>
<text x="159.5" y="211.8" font-family='"Liberation Serif", "Times New Roman", serif' font-size="16.2" text-anchor="middle" fill="#111">(<tspan font-weight="bold">a</tspan>)</text>
<text x="468.4" y="211.8" font-family='"Liberation Serif", "Times New Roman", serif' font-size="16.2" text-anchor="middle" fill="#111">(<tspan font-weight="bold">b</tspan>)</text>
<text x="161.2" y="436.3" font-family='"Liberation Serif", "Times New Roman", serif' font-size="16.2" text-anchor="middle" fill="#111">(<tspan font-weight="bold">c</tspan>)</text>
<text x="474.3" y="436.3" font-family='"Liberation Serif", "Times New Roman", serif' font-size="16.2" text-anchor="middle" fill="#111">(<tspan font-weight="bold">d</tspan>)</text>
</svg>
</body></html>
